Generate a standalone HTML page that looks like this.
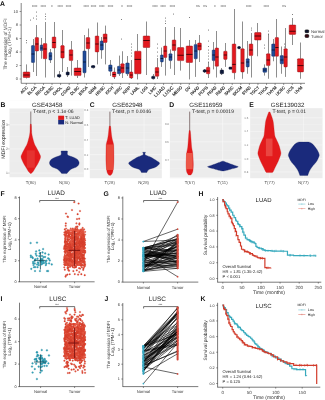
<!DOCTYPE html>
<html><head><meta charset="utf-8"><style>
html,body{margin:0;padding:0;background:#fff;}
svg{display:block;font-family:"Liberation Sans",sans-serif;text-rendering:geometricPrecision;}
.wrap{position:absolute;left:0;top:0;width:325px;height:400px;will-change:transform;}
</style></head><body>
<div class="wrap"><svg xmlns="http://www.w3.org/2000/svg" width="325" height="400" viewBox="0 0 325 400">
<rect width="325" height="400" fill="#fff"/>
<g>
<line x1="21.2" y1="3" x2="21.2" y2="83.3" stroke="#333" stroke-width="0.6" />
<line x1="21.2" y1="83.3" x2="305" y2="83.3" stroke="#333" stroke-width="0.6" />
<line x1="19.6" y1="79" x2="21.2" y2="79" stroke="#333" stroke-width="0.5" />
<text x="18" y="80.4" font-size="4" text-anchor="end" font-weight="normal" fill="#333" >0</text>
<line x1="19.6" y1="65.5" x2="21.2" y2="65.5" stroke="#333" stroke-width="0.5" />
<text x="18" y="66.9" font-size="4" text-anchor="end" font-weight="normal" fill="#333" >2</text>
<line x1="19.6" y1="52" x2="21.2" y2="52" stroke="#333" stroke-width="0.5" />
<text x="18" y="53.4" font-size="4" text-anchor="end" font-weight="normal" fill="#333" >4</text>
<line x1="19.6" y1="38.5" x2="21.2" y2="38.5" stroke="#333" stroke-width="0.5" />
<text x="18" y="39.9" font-size="4" text-anchor="end" font-weight="normal" fill="#333" >6</text>
<line x1="19.6" y1="25" x2="21.2" y2="25" stroke="#333" stroke-width="0.5" />
<text x="18" y="26.4" font-size="4" text-anchor="end" font-weight="normal" fill="#333" >8</text>
<line x1="19.6" y1="11.5" x2="21.2" y2="11.5" stroke="#333" stroke-width="0.5" />
<text x="18" y="12.9" font-size="4" text-anchor="end" font-weight="normal" fill="#333" >10</text>
<line x1="26.3" y1="83.3" x2="26.3" y2="85" stroke="#333" stroke-width="0.5" />
<text transform="translate(28,87.8) rotate(-45)" font-size="4.1" text-anchor="end" fill="#333" stroke="#333" stroke-width="0.18">ACC</text>
<line x1="34.88" y1="83.3" x2="34.88" y2="85" stroke="#333" stroke-width="0.5" />
<text transform="translate(36.58,87.8) rotate(-45)" font-size="4.1" text-anchor="end" fill="#333" stroke="#333" stroke-width="0.18">BLCA</text>
<line x1="43.46" y1="83.3" x2="43.46" y2="85" stroke="#333" stroke-width="0.5" />
<text transform="translate(45.16,87.8) rotate(-45)" font-size="4.1" text-anchor="end" fill="#333" stroke="#333" stroke-width="0.18">BRCA</text>
<line x1="52.04" y1="83.3" x2="52.04" y2="85" stroke="#333" stroke-width="0.5" />
<text transform="translate(53.74,87.8) rotate(-45)" font-size="4.1" text-anchor="end" fill="#333" stroke="#333" stroke-width="0.18">CESC</text>
<line x1="60.62" y1="83.3" x2="60.62" y2="85" stroke="#333" stroke-width="0.5" />
<text transform="translate(62.32,87.8) rotate(-45)" font-size="4.1" text-anchor="end" fill="#333" stroke="#333" stroke-width="0.18">CHOL</text>
<line x1="69.2" y1="83.3" x2="69.2" y2="85" stroke="#333" stroke-width="0.5" />
<text transform="translate(70.9,87.8) rotate(-45)" font-size="4.1" text-anchor="end" fill="#333" stroke="#333" stroke-width="0.18">COAD</text>
<line x1="77.78" y1="83.3" x2="77.78" y2="85" stroke="#333" stroke-width="0.5" />
<text transform="translate(79.48,87.8) rotate(-45)" font-size="4.1" text-anchor="end" fill="#333" stroke="#333" stroke-width="0.18">DLBC</text>
<line x1="86.36" y1="83.3" x2="86.36" y2="85" stroke="#333" stroke-width="0.5" />
<text transform="translate(88.06,87.8) rotate(-45)" font-size="4.1" text-anchor="end" fill="#333" stroke="#333" stroke-width="0.18">ESCA</text>
<line x1="94.94" y1="83.3" x2="94.94" y2="85" stroke="#333" stroke-width="0.5" />
<text transform="translate(96.64,87.8) rotate(-45)" font-size="4.1" text-anchor="end" fill="#333" stroke="#333" stroke-width="0.18">GBM</text>
<line x1="103.52" y1="83.3" x2="103.52" y2="85" stroke="#333" stroke-width="0.5" />
<text transform="translate(105.22,87.8) rotate(-45)" font-size="4.1" text-anchor="end" fill="#333" stroke="#333" stroke-width="0.18">HNSC</text>
<line x1="112.1" y1="83.3" x2="112.1" y2="85" stroke="#333" stroke-width="0.5" />
<text transform="translate(113.8,87.8) rotate(-45)" font-size="4.1" text-anchor="end" fill="#333" stroke="#333" stroke-width="0.18">KICH</text>
<line x1="120.68" y1="83.3" x2="120.68" y2="85" stroke="#333" stroke-width="0.5" />
<text transform="translate(122.38,87.8) rotate(-45)" font-size="4.1" text-anchor="end" fill="#333" stroke="#333" stroke-width="0.18">KIRC</text>
<line x1="129.26" y1="83.3" x2="129.26" y2="85" stroke="#333" stroke-width="0.5" />
<text transform="translate(130.96,87.8) rotate(-45)" font-size="4.1" text-anchor="end" fill="#333" stroke="#333" stroke-width="0.18">KIRP</text>
<line x1="137.84" y1="83.3" x2="137.84" y2="85" stroke="#333" stroke-width="0.5" />
<text transform="translate(139.54,87.8) rotate(-45)" font-size="4.1" text-anchor="end" fill="#333" stroke="#333" stroke-width="0.18">LAML</text>
<line x1="146.42" y1="83.3" x2="146.42" y2="85" stroke="#333" stroke-width="0.5" />
<text transform="translate(148.12,87.8) rotate(-45)" font-size="4.1" text-anchor="end" fill="#333" stroke="#333" stroke-width="0.18">LGG</text>
<line x1="155" y1="83.3" x2="155" y2="85" stroke="#333" stroke-width="0.5" />
<text transform="translate(156.7,87.8) rotate(-45)" font-size="4.1" text-anchor="end" fill="#333" stroke="#333" stroke-width="0.18">LIHC</text>
<line x1="163.58" y1="83.3" x2="163.58" y2="85" stroke="#333" stroke-width="0.5" />
<text transform="translate(165.48,87.9) rotate(-45)" font-size="4.9" font-weight="bold" text-anchor="end" fill="#333">LUAD</text>
<line x1="172.16" y1="83.3" x2="172.16" y2="85" stroke="#333" stroke-width="0.5" />
<text transform="translate(174.06,87.9) rotate(-45)" font-size="4.9" font-weight="bold" text-anchor="end" fill="#333">LUSC</text>
<line x1="180.74" y1="83.3" x2="180.74" y2="85" stroke="#333" stroke-width="0.5" />
<text transform="translate(182.44,87.8) rotate(-45)" font-size="4.1" text-anchor="end" fill="#333" stroke="#333" stroke-width="0.18">MESO</text>
<line x1="189.32" y1="83.3" x2="189.32" y2="85" stroke="#333" stroke-width="0.5" />
<text transform="translate(191.02,87.8) rotate(-45)" font-size="4.1" text-anchor="end" fill="#333" stroke="#333" stroke-width="0.18">OV</text>
<line x1="197.9" y1="83.3" x2="197.9" y2="85" stroke="#333" stroke-width="0.5" />
<text transform="translate(199.6,87.8) rotate(-45)" font-size="4.1" text-anchor="end" fill="#333" stroke="#333" stroke-width="0.18">PAAD</text>
<line x1="206.48" y1="83.3" x2="206.48" y2="85" stroke="#333" stroke-width="0.5" />
<text transform="translate(208.18,87.8) rotate(-45)" font-size="4.1" text-anchor="end" fill="#333" stroke="#333" stroke-width="0.18">PCPG</text>
<line x1="215.06" y1="83.3" x2="215.06" y2="85" stroke="#333" stroke-width="0.5" />
<text transform="translate(216.76,87.8) rotate(-45)" font-size="4.1" text-anchor="end" fill="#333" stroke="#333" stroke-width="0.18">PRAD</text>
<line x1="223.64" y1="83.3" x2="223.64" y2="85" stroke="#333" stroke-width="0.5" />
<text transform="translate(225.34,87.8) rotate(-45)" font-size="4.1" text-anchor="end" fill="#333" stroke="#333" stroke-width="0.18">READ</text>
<line x1="232.22" y1="83.3" x2="232.22" y2="85" stroke="#333" stroke-width="0.5" />
<text transform="translate(233.92,87.8) rotate(-45)" font-size="4.1" text-anchor="end" fill="#333" stroke="#333" stroke-width="0.18">SARC</text>
<line x1="240.8" y1="83.3" x2="240.8" y2="85" stroke="#333" stroke-width="0.5" />
<text transform="translate(242.5,87.8) rotate(-45)" font-size="4.1" text-anchor="end" fill="#333" stroke="#333" stroke-width="0.18">SKCM</text>
<line x1="249.38" y1="83.3" x2="249.38" y2="85" stroke="#333" stroke-width="0.5" />
<text transform="translate(251.08,87.8) rotate(-45)" font-size="4.1" text-anchor="end" fill="#333" stroke="#333" stroke-width="0.18">STAD</text>
<line x1="257.96" y1="83.3" x2="257.96" y2="85" stroke="#333" stroke-width="0.5" />
<text transform="translate(259.66,87.8) rotate(-45)" font-size="4.1" text-anchor="end" fill="#333" stroke="#333" stroke-width="0.18">TGCT</text>
<line x1="266.54" y1="83.3" x2="266.54" y2="85" stroke="#333" stroke-width="0.5" />
<text transform="translate(268.24,87.8) rotate(-45)" font-size="4.1" text-anchor="end" fill="#333" stroke="#333" stroke-width="0.18">THCA</text>
<line x1="275.12" y1="83.3" x2="275.12" y2="85" stroke="#333" stroke-width="0.5" />
<text transform="translate(276.82,87.8) rotate(-45)" font-size="4.1" text-anchor="end" fill="#333" stroke="#333" stroke-width="0.18">THYM</text>
<line x1="283.7" y1="83.3" x2="283.7" y2="85" stroke="#333" stroke-width="0.5" />
<text transform="translate(285.4,87.8) rotate(-45)" font-size="4.1" text-anchor="end" fill="#333" stroke="#333" stroke-width="0.18">UCEC</text>
<line x1="292.28" y1="83.3" x2="292.28" y2="85" stroke="#333" stroke-width="0.5" />
<text transform="translate(293.98,87.8) rotate(-45)" font-size="4.1" text-anchor="end" fill="#333" stroke="#333" stroke-width="0.18">UCS</text>
<line x1="300.86" y1="83.3" x2="300.86" y2="85" stroke="#333" stroke-width="0.5" />
<text transform="translate(302.56,87.8) rotate(-45)" font-size="4.1" text-anchor="end" fill="#333" stroke="#333" stroke-width="0.18">UVM</text>
<line x1="26.5" y1="64.4" x2="26.5" y2="72" stroke="#7a7a7a" stroke-width="0.85" />
<line x1="26.5" y1="77.5" x2="26.5" y2="78.5" stroke="#7a7a7a" stroke-width="0.85" />
<line x1="33.5" y1="39" x2="33.5" y2="45.5" stroke="#7a7a7a" stroke-width="0.85" />
<line x1="33.5" y1="62.5" x2="33.5" y2="72" stroke="#7a7a7a" stroke-width="0.85" />
<line x1="36.5" y1="25" x2="36.5" y2="37.5" stroke="#7a7a7a" stroke-width="0.85" />
<line x1="36.5" y1="51" x2="36.5" y2="76" stroke="#7a7a7a" stroke-width="0.85" />
<line x1="41.5" y1="38" x2="41.5" y2="45" stroke="#7a7a7a" stroke-width="0.85" />
<line x1="41.5" y1="50.6" x2="41.5" y2="58.75" stroke="#7a7a7a" stroke-width="0.85" />
<line x1="45.5" y1="22" x2="45.5" y2="43.5" stroke="#7a7a7a" stroke-width="0.85" />
<line x1="45.5" y1="58.75" x2="45.5" y2="77.5" stroke="#7a7a7a" stroke-width="0.85" />
<line x1="50.5" y1="49" x2="50.5" y2="52.5" stroke="#7a7a7a" stroke-width="0.85" />
<line x1="50.5" y1="60" x2="50.5" y2="63" stroke="#7a7a7a" stroke-width="0.85" />
<line x1="54.5" y1="22" x2="54.5" y2="37" stroke="#7a7a7a" stroke-width="0.85" />
<line x1="54.5" y1="48" x2="54.5" y2="77.5" stroke="#7a7a7a" stroke-width="0.85" />
<line x1="59.5" y1="71" x2="59.5" y2="74.4" stroke="#7a7a7a" stroke-width="0.85" />
<line x1="59.5" y1="76.9" x2="59.5" y2="78" stroke="#7a7a7a" stroke-width="0.85" />
<line x1="62.5" y1="30" x2="62.5" y2="45.6" stroke="#7a7a7a" stroke-width="0.85" />
<line x1="62.5" y1="58" x2="62.5" y2="72" stroke="#7a7a7a" stroke-width="0.85" />
<line x1="67.5" y1="67" x2="67.5" y2="72" stroke="#7a7a7a" stroke-width="0.85" />
<line x1="67.5" y1="75" x2="67.5" y2="77" stroke="#7a7a7a" stroke-width="0.85" />
<line x1="71.5" y1="41" x2="71.5" y2="49.75" stroke="#7a7a7a" stroke-width="0.85" />
<line x1="71.5" y1="60.6" x2="71.5" y2="75.6" stroke="#7a7a7a" stroke-width="0.85" />
<line x1="77.5" y1="60" x2="77.5" y2="68" stroke="#7a7a7a" stroke-width="0.85" />
<line x1="77.5" y1="75.6" x2="77.5" y2="78" stroke="#7a7a7a" stroke-width="0.85" />
<line x1="84.5" y1="35" x2="84.5" y2="51" stroke="#7a7a7a" stroke-width="0.85" />
<line x1="84.5" y1="72.75" x2="84.5" y2="77.5" stroke="#7a7a7a" stroke-width="0.85" />
<line x1="88.5" y1="28.5" x2="88.5" y2="37.5" stroke="#7a7a7a" stroke-width="0.85" />
<line x1="88.5" y1="48.75" x2="88.5" y2="67" stroke="#7a7a7a" stroke-width="0.85" />
<line x1="93.5" y1="65" x2="93.5" y2="65.6" stroke="#7a7a7a" stroke-width="0.85" />
<line x1="93.5" y1="67.75" x2="93.5" y2="68.5" stroke="#7a7a7a" stroke-width="0.85" />
<line x1="97.5" y1="22.5" x2="97.5" y2="36" stroke="#7a7a7a" stroke-width="0.85" />
<line x1="97.5" y1="51.9" x2="97.5" y2="64.4" stroke="#7a7a7a" stroke-width="0.85" />
<line x1="101.5" y1="37" x2="101.5" y2="41" stroke="#7a7a7a" stroke-width="0.85" />
<line x1="101.5" y1="50" x2="101.5" y2="58.75" stroke="#7a7a7a" stroke-width="0.85" />
<line x1="105.5" y1="25.6" x2="105.5" y2="34" stroke="#7a7a7a" stroke-width="0.85" />
<line x1="105.5" y1="42.5" x2="105.5" y2="64.4" stroke="#7a7a7a" stroke-width="0.85" />
<line x1="110.5" y1="60" x2="110.5" y2="65" stroke="#7a7a7a" stroke-width="0.85" />
<line x1="110.5" y1="71.25" x2="110.5" y2="76" stroke="#7a7a7a" stroke-width="0.85" />
<line x1="114.5" y1="67.5" x2="114.5" y2="72" stroke="#7a7a7a" stroke-width="0.85" />
<line x1="114.5" y1="76.9" x2="114.5" y2="79" stroke="#7a7a7a" stroke-width="0.85" />
<line x1="119.5" y1="55.6" x2="119.5" y2="66.25" stroke="#7a7a7a" stroke-width="0.85" />
<line x1="119.5" y1="73.75" x2="119.5" y2="76" stroke="#7a7a7a" stroke-width="0.85" />
<line x1="122.5" y1="51.25" x2="122.5" y2="63.75" stroke="#7a7a7a" stroke-width="0.85" />
<line x1="122.5" y1="72.75" x2="122.5" y2="78" stroke="#7a7a7a" stroke-width="0.85" />
<line x1="127.5" y1="56" x2="127.5" y2="63" stroke="#7a7a7a" stroke-width="0.85" />
<line x1="127.5" y1="73.75" x2="127.5" y2="76" stroke="#7a7a7a" stroke-width="0.85" />
<line x1="131.5" y1="60" x2="131.5" y2="72" stroke="#7a7a7a" stroke-width="0.85" />
<line x1="131.5" y1="78" x2="131.5" y2="79" stroke="#7a7a7a" stroke-width="0.85" />
<line x1="137.5" y1="34" x2="137.5" y2="51.25" stroke="#7a7a7a" stroke-width="0.85" />
<line x1="137.5" y1="73.75" x2="137.5" y2="79.4" stroke="#7a7a7a" stroke-width="0.85" />
<line x1="146.5" y1="21.5" x2="146.5" y2="36" stroke="#7a7a7a" stroke-width="0.85" />
<line x1="146.5" y1="47.5" x2="146.5" y2="75" stroke="#7a7a7a" stroke-width="0.85" />
<line x1="153.5" y1="74" x2="153.5" y2="76.25" stroke="#7a7a7a" stroke-width="0.85" />
<line x1="153.5" y1="78.75" x2="153.5" y2="79.5" stroke="#7a7a7a" stroke-width="0.85" />
<line x1="157.5" y1="58" x2="157.5" y2="67.5" stroke="#7a7a7a" stroke-width="0.85" />
<line x1="157.5" y1="76.25" x2="157.5" y2="79" stroke="#7a7a7a" stroke-width="0.85" />
<line x1="161.5" y1="47.5" x2="161.5" y2="55" stroke="#7a7a7a" stroke-width="0.85" />
<line x1="161.5" y1="61.9" x2="161.5" y2="66.9" stroke="#7a7a7a" stroke-width="0.85" />
<line x1="165.5" y1="27" x2="165.5" y2="46" stroke="#7a7a7a" stroke-width="0.85" />
<line x1="165.5" y1="57.5" x2="165.5" y2="75.6" stroke="#7a7a7a" stroke-width="0.85" />
<line x1="170.5" y1="49.4" x2="170.5" y2="53.75" stroke="#7a7a7a" stroke-width="0.85" />
<line x1="170.5" y1="60.6" x2="170.5" y2="68.75" stroke="#7a7a7a" stroke-width="0.85" />
<line x1="174.5" y1="27" x2="174.5" y2="40" stroke="#7a7a7a" stroke-width="0.85" />
<line x1="174.5" y1="50.6" x2="174.5" y2="75" stroke="#7a7a7a" stroke-width="0.85" />
<line x1="180.5" y1="28" x2="180.5" y2="47.5" stroke="#7a7a7a" stroke-width="0.85" />
<line x1="180.5" y1="60.6" x2="180.5" y2="70.6" stroke="#7a7a7a" stroke-width="0.85" />
<line x1="189.5" y1="40" x2="189.5" y2="46" stroke="#7a7a7a" stroke-width="0.85" />
<line x1="189.5" y1="62.5" x2="189.5" y2="79.4" stroke="#7a7a7a" stroke-width="0.85" />
<line x1="195.5" y1="40" x2="195.5" y2="44.4" stroke="#7a7a7a" stroke-width="0.85" />
<line x1="195.5" y1="58.75" x2="195.5" y2="76.9" stroke="#7a7a7a" stroke-width="0.85" />
<line x1="199.5" y1="35" x2="199.5" y2="43" stroke="#7a7a7a" stroke-width="0.85" />
<line x1="199.5" y1="50" x2="199.5" y2="62" stroke="#7a7a7a" stroke-width="0.85" />
<line x1="204.5" y1="69" x2="204.5" y2="70" stroke="#7a7a7a" stroke-width="0.85" />
<line x1="204.5" y1="71.9" x2="204.5" y2="73" stroke="#7a7a7a" stroke-width="0.85" />
<line x1="208.5" y1="62" x2="208.5" y2="67.25" stroke="#7a7a7a" stroke-width="0.85" />
<line x1="208.5" y1="73.75" x2="208.5" y2="78" stroke="#7a7a7a" stroke-width="0.85" />
<line x1="213.5" y1="42" x2="213.5" y2="50" stroke="#7a7a7a" stroke-width="0.85" />
<line x1="213.5" y1="60.6" x2="213.5" y2="69.4" stroke="#7a7a7a" stroke-width="0.85" />
<line x1="216.5" y1="31" x2="216.5" y2="48" stroke="#7a7a7a" stroke-width="0.85" />
<line x1="216.5" y1="66.25" x2="216.5" y2="77.5" stroke="#7a7a7a" stroke-width="0.85" />
<line x1="221.5" y1="68" x2="221.5" y2="70" stroke="#7a7a7a" stroke-width="0.85" />
<line x1="221.5" y1="73.75" x2="221.5" y2="75" stroke="#7a7a7a" stroke-width="0.85" />
<line x1="225.5" y1="43" x2="225.5" y2="51.25" stroke="#7a7a7a" stroke-width="0.85" />
<line x1="225.5" y1="59.4" x2="225.5" y2="66.9" stroke="#7a7a7a" stroke-width="0.85" />
<line x1="230.5" y1="67.5" x2="230.5" y2="67.5" stroke="#7a7a7a" stroke-width="0.85" />
<line x1="230.5" y1="68.75" x2="230.5" y2="69" stroke="#7a7a7a" stroke-width="0.85" />
<line x1="234.5" y1="9" x2="234.5" y2="44" stroke="#7a7a7a" stroke-width="0.85" />
<line x1="234.5" y1="72.75" x2="234.5" y2="79.4" stroke="#7a7a7a" stroke-width="0.85" />
<line x1="239.5" y1="46.5" x2="239.5" y2="47" stroke="#7a7a7a" stroke-width="0.85" />
<line x1="239.5" y1="48.2" x2="239.5" y2="49" stroke="#7a7a7a" stroke-width="0.85" />
<line x1="242.5" y1="21.5" x2="242.5" y2="48.75" stroke="#7a7a7a" stroke-width="0.85" />
<line x1="242.5" y1="71.9" x2="242.5" y2="78.75" stroke="#7a7a7a" stroke-width="0.85" />
<line x1="247.5" y1="41" x2="247.5" y2="58.75" stroke="#7a7a7a" stroke-width="0.85" />
<line x1="247.5" y1="66.9" x2="247.5" y2="73.75" stroke="#7a7a7a" stroke-width="0.85" />
<line x1="251.5" y1="33" x2="251.5" y2="44" stroke="#7a7a7a" stroke-width="0.85" />
<line x1="251.5" y1="55.6" x2="251.5" y2="77.5" stroke="#7a7a7a" stroke-width="0.85" />
<line x1="257.5" y1="23" x2="257.5" y2="32.5" stroke="#7a7a7a" stroke-width="0.85" />
<line x1="257.5" y1="40" x2="257.5" y2="56.25" stroke="#7a7a7a" stroke-width="0.85" />
<line x1="264.5" y1="64.4" x2="264.5" y2="68" stroke="#7a7a7a" stroke-width="0.85" />
<line x1="264.5" y1="72.25" x2="264.5" y2="75.6" stroke="#7a7a7a" stroke-width="0.85" />
<line x1="268.5" y1="34" x2="268.5" y2="53.75" stroke="#7a7a7a" stroke-width="0.85" />
<line x1="268.5" y1="65.6" x2="268.5" y2="78.75" stroke="#7a7a7a" stroke-width="0.85" />
<line x1="273.5" y1="39" x2="273.5" y2="44" stroke="#7a7a7a" stroke-width="0.85" />
<line x1="273.5" y1="56.25" x2="273.5" y2="61.25" stroke="#7a7a7a" stroke-width="0.85" />
<line x1="276.5" y1="19" x2="276.5" y2="37.5" stroke="#7a7a7a" stroke-width="0.85" />
<line x1="276.5" y1="56.25" x2="276.5" y2="77.5" stroke="#7a7a7a" stroke-width="0.85" />
<line x1="281.5" y1="46.5" x2="281.5" y2="55.6" stroke="#7a7a7a" stroke-width="0.85" />
<line x1="281.5" y1="63.75" x2="281.5" y2="73.75" stroke="#7a7a7a" stroke-width="0.85" />
<line x1="285.5" y1="28" x2="285.5" y2="48.75" stroke="#7a7a7a" stroke-width="0.85" />
<line x1="285.5" y1="66.9" x2="285.5" y2="76.9" stroke="#7a7a7a" stroke-width="0.85" />
<line x1="292.5" y1="18" x2="292.5" y2="25" stroke="#7a7a7a" stroke-width="0.85" />
<line x1="292.5" y1="34.4" x2="292.5" y2="45" stroke="#7a7a7a" stroke-width="0.85" />
<line x1="300.5" y1="42.5" x2="300.5" y2="58.75" stroke="#7a7a7a" stroke-width="0.85" />
<line x1="300.5" y1="71.9" x2="300.5" y2="78.75" stroke="#7a7a7a" stroke-width="0.85" />
<circle cx="36.5" cy="12" r="0.5" fill="#555"/>
<circle cx="36.5" cy="16" r="0.5" fill="#555"/>
<circle cx="36.5" cy="19" r="0.5" fill="#555"/>
<circle cx="45.5" cy="14" r="0.5" fill="#555"/>
<circle cx="45.5" cy="16.5" r="0.5" fill="#555"/>
<circle cx="45.5" cy="19" r="0.5" fill="#555"/>
<circle cx="121.5" cy="19.5" r="0.5" fill="#555"/>
<circle cx="121.5" cy="39" r="0.5" fill="#555"/>
<circle cx="189.5" cy="17.5" r="0.5" fill="#555"/>
<circle cx="208.5" cy="30" r="0.5" fill="#555"/>
<circle cx="208.5" cy="41" r="0.5" fill="#555"/>
<circle cx="208.5" cy="46.5" r="0.5" fill="#555"/>
<circle cx="208.5" cy="50" r="0.5" fill="#555"/>
<circle cx="208.5" cy="53" r="0.5" fill="#555"/>
<circle cx="208.5" cy="56" r="0.5" fill="#555"/>
<circle cx="208.5" cy="59" r="0.5" fill="#555"/>
<circle cx="208.5" cy="62" r="0.5" fill="#555"/>
<circle cx="131.5" cy="44" r="0.5" fill="#555"/>
<circle cx="131.5" cy="47" r="0.5" fill="#555"/>
<circle cx="131.5" cy="50" r="0.5" fill="#555"/>
<circle cx="131.5" cy="53" r="0.5" fill="#555"/>
<circle cx="131.5" cy="56" r="0.5" fill="#555"/>
<circle cx="157.5" cy="44" r="0.5" fill="#555"/>
<circle cx="157.5" cy="48" r="0.5" fill="#555"/>
<circle cx="157.5" cy="52" r="0.5" fill="#555"/>
<circle cx="157.5" cy="56" r="0.5" fill="#555"/>
<circle cx="165.5" cy="18" r="0.5" fill="#555"/>
<circle cx="165.5" cy="21" r="0.5" fill="#555"/>
<circle cx="165.5" cy="23.5" r="0.5" fill="#555"/>
<circle cx="173.5" cy="14" r="0.5" fill="#555"/>
<circle cx="251.5" cy="28" r="0.5" fill="#555"/>
<circle cx="251.5" cy="30" r="0.5" fill="#555"/>
<circle cx="264.5" cy="45" r="0.5" fill="#555"/>
<circle cx="264.5" cy="48" r="0.5" fill="#555"/>
<circle cx="268.5" cy="34" r="0.5" fill="#555"/>
<circle cx="268.5" cy="31" r="0.5" fill="#555"/>
<circle cx="33.5" cy="18" r="0.5" fill="#555"/>
<circle cx="30.5" cy="20" r="0.5" fill="#555"/>
<circle cx="284.5" cy="44" r="0.5" fill="#555"/>
<circle cx="284.5" cy="47" r="0.5" fill="#555"/>
<circle cx="292.5" cy="14.5" r="0.5" fill="#555"/>
<circle cx="26.5" cy="40.4" r="0.5" fill="#555"/>
<circle cx="26.5" cy="42.7" r="0.5" fill="#555"/>
<rect x="23.2" y="72" width="6.6" height="5.5" rx="0.6" fill="#e3191f" stroke="#8c0f14" stroke-width="0.45"/>
<line x1="23.3" y1="75" x2="29.7" y2="75" stroke="#3a0006" stroke-width="0.9" />
<rect x="31.45" y="45.5" width="3.1" height="17" rx="0.6" fill="#1f4b99" stroke="#0e2456" stroke-width="0.45"/>
<line x1="31.55" y1="54" x2="34.45" y2="54" stroke="#071433" stroke-width="0.9" />
<rect x="35.2" y="37.5" width="3.35" height="13.5" rx="0.6" fill="#e3191f" stroke="#8c0f14" stroke-width="0.45"/>
<line x1="35.3" y1="44" x2="38.45" y2="44" stroke="#3a0006" stroke-width="0.9" />
<rect x="40.2" y="45" width="2.6" height="5.6" rx="0.6" fill="#1f4b99" stroke="#0e2456" stroke-width="0.45"/>
<line x1="40.3" y1="48" x2="42.7" y2="48" stroke="#071433" stroke-width="0.9" />
<rect x="43.2" y="43.5" width="3.6" height="15.25" rx="0.6" fill="#e3191f" stroke="#8c0f14" stroke-width="0.45"/>
<line x1="43.3" y1="49" x2="46.7" y2="49" stroke="#3a0006" stroke-width="0.9" />
<rect x="48.95" y="52.5" width="2.85" height="7.5" rx="0.6" fill="#1f4b99" stroke="#0e2456" stroke-width="0.45"/>
<line x1="49.05" y1="56" x2="51.7" y2="56" stroke="#071433" stroke-width="0.9" />
<rect x="52.2" y="37" width="3.6" height="11" rx="0.6" fill="#e3191f" stroke="#8c0f14" stroke-width="0.45"/>
<line x1="52.3" y1="42.5" x2="55.7" y2="42.5" stroke="#3a0006" stroke-width="0.9" />
<rect x="57.45" y="74.4" width="3.35" height="2.5" rx="0.6" fill="#0f1a3e" stroke="#050a1c" stroke-width="0.45"/>
<line x1="57.55" y1="75.5" x2="60.7" y2="75.5" stroke="#071433" stroke-width="0.9" />
<rect x="60.8" y="45.6" width="3.4" height="12.4" rx="0.6" fill="#e3191f" stroke="#8c0f14" stroke-width="0.45"/>
<line x1="60.9" y1="52" x2="64.1" y2="52" stroke="#3a0006" stroke-width="0.9" />
<rect x="66.2" y="72" width="3" height="3" rx="0.6" fill="#0f1a3e" stroke="#050a1c" stroke-width="0.45"/>
<line x1="66.3" y1="73.5" x2="69.1" y2="73.5" stroke="#071433" stroke-width="0.9" />
<rect x="69.2" y="49.75" width="3.6" height="10.85" rx="0.6" fill="#e3191f" stroke="#8c0f14" stroke-width="0.45"/>
<line x1="69.3" y1="55" x2="72.7" y2="55" stroke="#3a0006" stroke-width="0.9" />
<rect x="74.2" y="68" width="6.85" height="7.6" rx="0.6" fill="#e3191f" stroke="#8c0f14" stroke-width="0.45"/>
<line x1="74.3" y1="71.5" x2="80.95" y2="71.5" stroke="#3a0006" stroke-width="0.9" />
<rect x="82.95" y="51" width="3.1" height="21.75" rx="0.6" fill="#1f4b99" stroke="#0e2456" stroke-width="0.45"/>
<line x1="83.05" y1="62" x2="85.95" y2="62" stroke="#071433" stroke-width="0.9" />
<rect x="86.2" y="37.5" width="3.6" height="11.25" rx="0.6" fill="#e3191f" stroke="#8c0f14" stroke-width="0.45"/>
<line x1="86.3" y1="43" x2="89.7" y2="43" stroke="#3a0006" stroke-width="0.9" />
<rect x="91.45" y="65.58" width="3.35" height="2.2" rx="0.6" fill="#0f1a3e" stroke="#050a1c" stroke-width="0.45"/>
<line x1="91.55" y1="66.5" x2="94.7" y2="66.5" stroke="#071433" stroke-width="0.9" />
<rect x="95.2" y="36" width="3.6" height="15.9" rx="0.6" fill="#e3191f" stroke="#8c0f14" stroke-width="0.45"/>
<line x1="95.3" y1="44" x2="98.7" y2="44" stroke="#3a0006" stroke-width="0.9" />
<rect x="100.2" y="41" width="3.1" height="9" rx="0.6" fill="#1f4b99" stroke="#0e2456" stroke-width="0.45"/>
<line x1="100.3" y1="45" x2="103.2" y2="45" stroke="#071433" stroke-width="0.9" />
<rect x="103.2" y="34" width="3.85" height="8.5" rx="0.6" fill="#e3191f" stroke="#8c0f14" stroke-width="0.45"/>
<line x1="103.3" y1="38" x2="106.95" y2="38" stroke="#3a0006" stroke-width="0.9" />
<rect x="108.7" y="65" width="3.35" height="6.25" rx="0.6" fill="#1f4b99" stroke="#0e2456" stroke-width="0.45"/>
<line x1="108.8" y1="68" x2="111.95" y2="68" stroke="#071433" stroke-width="0.9" />
<rect x="112.45" y="72" width="3.35" height="4.9" rx="0.6" fill="#e3191f" stroke="#8c0f14" stroke-width="0.45"/>
<line x1="112.55" y1="74.5" x2="115.7" y2="74.5" stroke="#3a0006" stroke-width="0.9" />
<rect x="117.45" y="66.25" width="3.35" height="7.5" rx="0.6" fill="#1f4b99" stroke="#0e2456" stroke-width="0.45"/>
<line x1="117.55" y1="70" x2="120.7" y2="70" stroke="#071433" stroke-width="0.9" />
<rect x="120.8" y="63.75" width="3.4" height="9" rx="0.6" fill="#e3191f" stroke="#8c0f14" stroke-width="0.45"/>
<line x1="120.9" y1="68" x2="124.1" y2="68" stroke="#3a0006" stroke-width="0.9" />
<rect x="125.8" y="63" width="3.4" height="10.75" rx="0.6" fill="#1f4b99" stroke="#0e2456" stroke-width="0.45"/>
<line x1="125.9" y1="68" x2="129.1" y2="68" stroke="#071433" stroke-width="0.9" />
<rect x="129.6" y="72" width="3.2" height="6" rx="0.6" fill="#e3191f" stroke="#8c0f14" stroke-width="0.45"/>
<line x1="129.7" y1="75" x2="132.7" y2="75" stroke="#3a0006" stroke-width="0.9" />
<rect x="134.6" y="51.25" width="6.45" height="22.5" rx="0.6" fill="#e3191f" stroke="#8c0f14" stroke-width="0.45"/>
<line x1="134.7" y1="59.4" x2="140.95" y2="59.4" stroke="#3a0006" stroke-width="0.9" />
<rect x="143.2" y="36" width="6.6" height="11.5" rx="0.6" fill="#e3191f" stroke="#8c0f14" stroke-width="0.45"/>
<line x1="143.3" y1="40.5" x2="149.7" y2="40.5" stroke="#3a0006" stroke-width="0.9" />
<rect x="151.7" y="76.25" width="3.1" height="2.5" rx="0.6" fill="#0f1a3e" stroke="#050a1c" stroke-width="0.45"/>
<line x1="151.8" y1="77.5" x2="154.7" y2="77.5" stroke="#071433" stroke-width="0.9" />
<rect x="155.2" y="67.5" width="3.6" height="8.75" rx="0.6" fill="#e3191f" stroke="#8c0f14" stroke-width="0.45"/>
<line x1="155.3" y1="72" x2="158.7" y2="72" stroke="#3a0006" stroke-width="0.9" />
<rect x="160.45" y="55" width="2.85" height="6.9" rx="0.6" fill="#1f4b99" stroke="#0e2456" stroke-width="0.45"/>
<line x1="160.55" y1="58.5" x2="163.2" y2="58.5" stroke="#071433" stroke-width="0.9" />
<rect x="163.7" y="46" width="3.1" height="11.5" rx="0.6" fill="#e3191f" stroke="#8c0f14" stroke-width="0.45"/>
<line x1="163.8" y1="51" x2="166.7" y2="51" stroke="#3a0006" stroke-width="0.9" />
<rect x="168.95" y="53.75" width="3.1" height="6.85" rx="0.6" fill="#1f4b99" stroke="#0e2456" stroke-width="0.45"/>
<line x1="169.05" y1="57" x2="171.95" y2="57" stroke="#071433" stroke-width="0.9" />
<rect x="172.2" y="40" width="3.6" height="10.6" rx="0.6" fill="#e3191f" stroke="#8c0f14" stroke-width="0.45"/>
<line x1="172.3" y1="45" x2="175.7" y2="45" stroke="#3a0006" stroke-width="0.9" />
<rect x="177.45" y="47.5" width="6.35" height="13.1" rx="0.6" fill="#e3191f" stroke="#8c0f14" stroke-width="0.45"/>
<line x1="177.55" y1="55.25" x2="183.7" y2="55.25" stroke="#3a0006" stroke-width="0.9" />
<rect x="186.2" y="46" width="6.35" height="16.5" rx="0.6" fill="#e3191f" stroke="#8c0f14" stroke-width="0.45"/>
<line x1="186.3" y1="54.4" x2="192.45" y2="54.4" stroke="#3a0006" stroke-width="0.9" />
<rect x="194.2" y="44.4" width="3.1" height="14.35" rx="0.6" fill="#1f4b99" stroke="#0e2456" stroke-width="0.45"/>
<line x1="194.3" y1="51" x2="197.2" y2="51" stroke="#071433" stroke-width="0.9" />
<rect x="197.7" y="43" width="3.6" height="7" rx="0.6" fill="#e3191f" stroke="#8c0f14" stroke-width="0.45"/>
<line x1="197.8" y1="46" x2="201.2" y2="46" stroke="#3a0006" stroke-width="0.9" />
<rect x="203.2" y="69.85" width="3.5" height="2.2" rx="0.6" fill="#0f1a3e" stroke="#050a1c" stroke-width="0.45"/>
<line x1="203.3" y1="71" x2="206.6" y2="71" stroke="#071433" stroke-width="0.9" />
<rect x="206.45" y="67.25" width="3.35" height="6.5" rx="0.6" fill="#e3191f" stroke="#8c0f14" stroke-width="0.45"/>
<line x1="206.55" y1="71" x2="209.7" y2="71" stroke="#3a0006" stroke-width="0.9" />
<rect x="212.2" y="50" width="3.2" height="10.6" rx="0.6" fill="#1f4b99" stroke="#0e2456" stroke-width="0.45"/>
<line x1="212.3" y1="55" x2="215.3" y2="55" stroke="#071433" stroke-width="0.9" />
<rect x="215.2" y="48" width="3.35" height="18.25" rx="0.6" fill="#e3191f" stroke="#8c0f14" stroke-width="0.45"/>
<line x1="215.3" y1="57" x2="218.45" y2="57" stroke="#3a0006" stroke-width="0.9" />
<rect x="220.2" y="70" width="3.35" height="3.75" rx="0.6" fill="#0f1a3e" stroke="#050a1c" stroke-width="0.45"/>
<line x1="220.3" y1="72" x2="223.45" y2="72" stroke="#071433" stroke-width="0.9" />
<rect x="223.7" y="51.25" width="3.35" height="8.15" rx="0.6" fill="#e3191f" stroke="#8c0f14" stroke-width="0.45"/>
<line x1="223.8" y1="55" x2="226.95" y2="55" stroke="#3a0006" stroke-width="0.9" />
<rect x="228.95" y="67.03" width="3.1" height="2.2" rx="0.6" fill="#0f1a3e" stroke="#050a1c" stroke-width="0.45"/>
<line x1="229.05" y1="68" x2="231.95" y2="68" stroke="#071433" stroke-width="0.9" />
<rect x="232.2" y="44" width="3.6" height="28.75" rx="0.6" fill="#e3191f" stroke="#8c0f14" stroke-width="0.45"/>
<line x1="232.3" y1="64.4" x2="235.7" y2="64.4" stroke="#3a0006" stroke-width="0.9" />
<rect x="237.7" y="46.5" width="2.7" height="2.2" rx="0.6" fill="#0f1a3e" stroke="#050a1c" stroke-width="0.45"/>
<line x1="237.8" y1="47.5" x2="240.3" y2="47.5" stroke="#071433" stroke-width="0.9" />
<rect x="240.8" y="48.75" width="3.4" height="23.15" rx="0.6" fill="#e3191f" stroke="#8c0f14" stroke-width="0.45"/>
<line x1="240.9" y1="63" x2="244.1" y2="63" stroke="#3a0006" stroke-width="0.9" />
<rect x="246.2" y="58.75" width="3" height="8.15" rx="0.6" fill="#1f4b99" stroke="#0e2456" stroke-width="0.45"/>
<line x1="246.3" y1="62" x2="249.1" y2="62" stroke="#071433" stroke-width="0.9" />
<rect x="249.2" y="44" width="3.6" height="11.6" rx="0.6" fill="#e3191f" stroke="#8c0f14" stroke-width="0.45"/>
<line x1="249.3" y1="50" x2="252.7" y2="50" stroke="#3a0006" stroke-width="0.9" />
<rect x="254.6" y="32.5" width="6.45" height="7.5" rx="0.6" fill="#e3191f" stroke="#8c0f14" stroke-width="0.45"/>
<line x1="254.7" y1="36" x2="260.95" y2="36" stroke="#3a0006" stroke-width="0.9" />
<rect x="262.95" y="68" width="3.75" height="4.25" rx="0.6" fill="#1f4b99" stroke="#0e2456" stroke-width="0.45"/>
<line x1="263.05" y1="70" x2="266.6" y2="70" stroke="#071433" stroke-width="0.9" />
<rect x="266.45" y="53.75" width="3.6" height="11.85" rx="0.6" fill="#e3191f" stroke="#8c0f14" stroke-width="0.45"/>
<line x1="266.55" y1="60" x2="269.95" y2="60" stroke="#3a0006" stroke-width="0.9" />
<rect x="271.7" y="44" width="3.35" height="12.25" rx="0.6" fill="#1f4b99" stroke="#0e2456" stroke-width="0.45"/>
<line x1="271.8" y1="50" x2="274.95" y2="50" stroke="#071433" stroke-width="0.9" />
<rect x="275.2" y="37.5" width="3.35" height="18.75" rx="0.6" fill="#e3191f" stroke="#8c0f14" stroke-width="0.45"/>
<line x1="275.3" y1="47.5" x2="278.45" y2="47.5" stroke="#3a0006" stroke-width="0.9" />
<rect x="280.2" y="55.6" width="3.35" height="8.15" rx="0.6" fill="#1f4b99" stroke="#0e2456" stroke-width="0.45"/>
<line x1="280.3" y1="60" x2="283.45" y2="60" stroke="#071433" stroke-width="0.9" />
<rect x="283.95" y="48.75" width="3.35" height="18.15" rx="0.6" fill="#e3191f" stroke="#8c0f14" stroke-width="0.45"/>
<line x1="284.05" y1="57" x2="287.2" y2="57" stroke="#3a0006" stroke-width="0.9" />
<rect x="289.2" y="25" width="6.5" height="9.4" rx="0.6" fill="#e3191f" stroke="#8c0f14" stroke-width="0.45"/>
<line x1="289.3" y1="31.25" x2="295.6" y2="31.25" stroke="#3a0006" stroke-width="0.9" />
<rect x="297.45" y="58.75" width="6.1" height="13.15" rx="0.6" fill="#e3191f" stroke="#8c0f14" stroke-width="0.45"/>
<line x1="297.55" y1="65.6" x2="303.45" y2="65.6" stroke="#3a0006" stroke-width="0.9" />
<line x1="32" y1="6" x2="37.2" y2="6" stroke="#555" stroke-width="0.85" stroke-dasharray="1.15,0.2"/>
<line x1="40.7" y1="6" x2="45.9" y2="6" stroke="#555" stroke-width="0.85" stroke-dasharray="1.15,0.2"/>
<line x1="51.2" y1="6" x2="52.6" y2="6" stroke="#555" stroke-width="0.85" />
<line x1="57.6" y1="6" x2="62.8" y2="6" stroke="#555" stroke-width="0.85" stroke-dasharray="1.15,0.2"/>
<line x1="65.9" y1="6" x2="71.1" y2="6" stroke="#555" stroke-width="0.85" stroke-dasharray="1.15,0.2"/>
<line x1="83.6" y1="6" x2="88.8" y2="6" stroke="#555" stroke-width="0.85" stroke-dasharray="1.15,0.2"/>
<line x1="90.9" y1="6" x2="96.1" y2="6" stroke="#555" stroke-width="0.85" stroke-dasharray="1.15,0.2"/>
<line x1="99.2" y1="6" x2="104.4" y2="6" stroke="#555" stroke-width="0.85" stroke-dasharray="1.15,0.2"/>
<line x1="107.9" y1="6" x2="113.1" y2="6" stroke="#555" stroke-width="0.85" stroke-dasharray="1.15,0.2"/>
<line x1="121.3" y1="6" x2="122.7" y2="6" stroke="#555" stroke-width="0.85" />
<line x1="126.9" y1="6" x2="132.1" y2="6" stroke="#555" stroke-width="0.85" stroke-dasharray="1.15,0.2"/>
<line x1="152.4" y1="6" x2="157.6" y2="6" stroke="#555" stroke-width="0.85" stroke-dasharray="1.15,0.2"/>
<line x1="160.5" y1="6" x2="165.7" y2="6" stroke="#555" stroke-width="0.85" stroke-dasharray="1.15,0.2"/>
<line x1="169.8" y1="6" x2="175" y2="6" stroke="#555" stroke-width="0.85" stroke-dasharray="1.15,0.2"/>
<text x="197.8" y="7.2" font-size="3.6" text-anchor="middle" font-weight="normal" fill="#555" >ns</text>
<text x="205.2" y="7.2" font-size="3.6" text-anchor="middle" font-weight="normal" fill="#555" >ns</text>
<line x1="214.2" y1="6" x2="215.6" y2="6" stroke="#555" stroke-width="0.85" />
<line x1="220.7" y1="6" x2="225.9" y2="6" stroke="#555" stroke-width="0.85" stroke-dasharray="1.15,0.2"/>
<line x1="246.1" y1="6" x2="251.3" y2="6" stroke="#555" stroke-width="0.85" stroke-dasharray="1.15,0.2"/>
<line x1="263.7" y1="6" x2="268.9" y2="6" stroke="#555" stroke-width="0.85" stroke-dasharray="1.15,0.2"/>
<text x="284.2" y="7.2" font-size="3.6" text-anchor="middle" font-weight="normal" fill="#555" >ns</text>
<rect x="305.1" y="29.9" width="3.6" height="2.8" fill="#0e1530" stroke="#000" stroke-width="0.6" rx="0.7"/>
<rect x="305.1" y="34.6" width="3.6" height="2.8" fill="#3a0a14" stroke="#000" stroke-width="0.6" rx="0.7"/>
<text x="311" y="32.8" font-size="4.2" text-anchor="start" font-weight="normal" fill="#333" >Normal</text>
<text x="311" y="37.7" font-size="4.2" text-anchor="start" font-weight="normal" fill="#333" >Tumor</text>
<text transform="translate(6.6,44) rotate(-90)" font-size="4.8" text-anchor="middle" fill="#444">The expression of MDFI</text>
<text transform="translate(10.7,42) rotate(-90)" font-size="4.8" text-anchor="middle" fill="#444">Log<tspan font-size="3.3" dy="0.9">2</tspan><tspan dy="-0.9"> (TPM+1)</tspan></text>
<text x="0" y="5.7" font-size="6.8" text-anchor="start" font-weight="bold" fill="#111" >A</text>
</g>
<rect x="9.5" y="108.5" width="74.3" height="68.7" fill="#ececec" stroke="none" stroke-width="0" />
<line x1="9.5" y1="112.7" x2="83.8" y2="112.7" stroke="#f2f2f2" stroke-width="0.4" />
<line x1="9.5" y1="136.85" x2="83.8" y2="136.85" stroke="#f2f2f2" stroke-width="0.4" />
<line x1="9.5" y1="161" x2="83.8" y2="161" stroke="#f2f2f2" stroke-width="0.4" />
<line x1="9.5" y1="100.6" x2="83.8" y2="100.6" stroke="#fafafa" stroke-width="0.55" />
<line x1="9.5" y1="124.8" x2="83.8" y2="124.8" stroke="#fafafa" stroke-width="0.55" />
<line x1="9.5" y1="148.9" x2="83.8" y2="148.9" stroke="#fafafa" stroke-width="0.55" />
<line x1="9.5" y1="173.1" x2="83.8" y2="173.1" stroke="#fafafa" stroke-width="0.55" />
<line x1="30.8" y1="108.5" x2="30.8" y2="177.2" stroke="#fafafa" stroke-width="0.55" />
<line x1="64.3" y1="108.5" x2="64.3" y2="177.2" stroke="#fafafa" stroke-width="0.55" />
<text x="7.8" y="126" font-size="3.4" text-anchor="end" font-weight="normal" fill="#666" >3</text>
<line x1="8.2" y1="124.8" x2="9.5" y2="124.8" stroke="#666" stroke-width="0.4" />
<text x="7.8" y="150.1" font-size="3.4" text-anchor="end" font-weight="normal" fill="#666" >2</text>
<line x1="8.2" y1="148.9" x2="9.5" y2="148.9" stroke="#666" stroke-width="0.4" />
<text x="7.8" y="174.3" font-size="3.4" text-anchor="end" font-weight="normal" fill="#666" >1</text>
<line x1="8.2" y1="173.1" x2="9.5" y2="173.1" stroke="#666" stroke-width="0.4" />
<line x1="30.8" y1="111.5" x2="30.8" y2="132" stroke="#5a4a4a" stroke-width="0.7" />
<path d="M31.1,124 L31.13,124.15 31.17,124.29 31.22,124.49 31.27,124.8 31.33,125.28 31.4,126 31.45,127 31.48,128.23 31.52,129.64 31.59,131.16 31.7,132.7 31.9,134.2 32.19,135.74 32.56,137.4 32.99,139.08 33.44,140.71 33.88,142.22 34.3,143.5 34.68,144.51 35.05,145.3 35.41,145.96 35.79,146.57 36.18,147.22 36.6,148 37.08,148.93 37.63,149.96 38.19,151.02 38.73,152.07 39.21,153.05 39.6,153.9 39.91,154.58 40.17,155.13 40.38,155.61 40.51,156.09 40.56,156.63 40.5,157.3 40.31,158.13 39.99,159.07 39.58,160.07 39.12,161.09 38.65,162.08 38.2,163 37.75,163.86 37.28,164.69 36.79,165.49 36.3,166.26 35.83,167 35.4,167.7 35.01,168.37 34.65,169 34.31,169.6 33.97,170.17 33.64,170.7 33.3,171.2 32.93,171.68 32.52,172.14 32.12,172.57 31.74,172.95 31.43,173.26 31.2,173.5 30.4,173.5 30.17,173.26 29.86,172.95 29.48,172.57 29.08,172.14 28.67,171.68 28.3,171.2 27.96,170.7 27.63,170.17 27.29,169.6 26.95,169 26.59,168.37 26.2,167.7 25.77,167 25.3,166.26 24.81,165.49 24.32,164.69 23.85,163.86 23.4,163 22.95,162.08 22.48,161.09 22.02,160.07 21.61,159.07 21.29,158.13 21.1,157.3 21.04,156.63 21.09,156.09 21.22,155.61 21.43,155.13 21.69,154.58 22,153.9 22.39,153.05 22.87,152.07 23.41,151.02 23.97,149.96 24.52,148.93 25,148 25.42,147.22 25.81,146.57 26.19,145.96 26.55,145.3 26.92,144.51 27.3,143.5 27.72,142.22 28.16,140.71 28.61,139.08 29.04,137.4 29.41,135.74 29.7,134.2 29.9,132.7 30.01,131.16 30.08,129.64 30.12,128.23 30.15,127 30.2,126 30.27,125.28 30.33,124.8 30.38,124.49 30.43,124.29 30.47,124.15 30.5,124 Z" fill="#e31a1c" stroke="#c81a1a" stroke-width="0.3" stroke-linejoin="round"/>
<rect x="26.8" y="150.4" width="8" height="17.3" fill="#f06a60" stroke="none" stroke-width="0" opacity="0.3"/>
<path d="M66.9,150.9 L66.97,150.92 67.07,150.91 67.18,150.93 67.3,150.99 67.41,151.13 67.5,151.4 67.5,151.84 67.42,152.42 67.33,153.09 67.31,153.78 67.44,154.44 67.8,155 68.46,155.46 69.36,155.86 70.42,156.23 71.53,156.58 72.59,156.93 73.5,157.3 74.29,157.67 75.05,158.02 75.76,158.38 76.41,158.74 76.99,159.15 77.5,159.6 77.95,160.11 78.35,160.68 78.68,161.28 78.93,161.89 79.08,162.5 79.1,163.1 79,163.7 78.8,164.31 78.49,164.93 78.08,165.52 77.58,166.09 77,166.6 76.26,167.05 75.34,167.46 74.34,167.82 73.32,168.18 72.38,168.53 71.6,168.9 70.98,169.29 70.45,169.7 69.99,170.11 69.6,170.5 69.24,170.87 68.9,171.2 68.6,171.49 68.34,171.76 68.12,171.99 67.94,172.21 67.77,172.41 67.6,172.6 67.46,172.78 67.37,172.93 67.3,173.08 67.21,173.2 67.09,173.31 66.9,173.4 66.61,173.47 66.23,173.52 65.81,173.55 65.4,173.57 65.04,173.59 64.8,173.6 63.8,173.6 63.56,173.59 63.2,173.57 62.79,173.55 62.37,173.52 61.99,173.47 61.7,173.4 61.51,173.31 61.39,173.2 61.3,173.08 61.23,172.93 61.14,172.78 61,172.6 60.83,172.41 60.66,172.21 60.47,171.99 60.26,171.76 60,171.49 59.7,171.2 59.36,170.87 59,170.5 58.61,170.11 58.15,169.7 57.62,169.29 57,168.9 56.22,168.53 55.28,168.18 54.26,167.82 53.26,167.46 52.34,167.05 51.6,166.6 51.02,166.09 50.52,165.52 50.11,164.93 49.8,164.31 49.6,163.7 49.5,163.1 49.52,162.5 49.67,161.89 49.92,161.28 50.25,160.68 50.65,160.11 51.1,159.6 51.61,159.15 52.19,158.74 52.84,158.38 53.55,158.02 54.31,157.67 55.1,157.3 56.01,156.93 57.07,156.58 58.18,156.23 59.24,155.86 60.14,155.46 60.8,155 61.16,154.44 61.29,153.78 61.27,153.09 61.18,152.42 61.1,151.84 61.1,151.4 61.19,151.13 61.3,150.99 61.42,150.93 61.53,150.91 61.63,150.92 61.7,150.9 Z" fill="#1a2a7c" stroke="#15215e" stroke-width="0.3" stroke-linejoin="round"/>
<text x="47.2" y="106.9" font-size="6.2" text-anchor="middle" font-weight="normal" fill="#222" >GSE43458</text>
<text x="32.9" y="113.4" font-size="5" text-anchor="start" font-weight="normal" fill="#222" >T-test, p &lt; 1.1e-06</text>
<rect x="58.2" y="115.7" width="5.9" height="4.2" fill="#e31a1c" stroke="none" stroke-width="0" />
<rect x="58.2" y="119.9" width="5.9" height="4.5" fill="#1a2a7c" stroke="none" stroke-width="0" />
<text x="65.3" y="119.3" font-size="3.9" text-anchor="start" font-weight="normal" fill="#222" >T: LUAD</text>
<text x="65.3" y="123.9" font-size="3.9" text-anchor="start" font-weight="normal" fill="#222" >N: Normal</text>
<text x="30.8" y="183.7" font-size="4.3" text-anchor="middle" font-weight="normal" fill="#555" >T(80)</text>
<text x="64.3" y="183.7" font-size="4.3" text-anchor="middle" font-weight="normal" fill="#555" >N(30)</text>
<text transform="translate(5.3,139.2) rotate(-90)" font-size="5.2" text-anchor="middle" fill="#222">MDFI expression</text>
<text x="0.4" y="107" font-size="6.8" text-anchor="start" font-weight="bold" fill="#111" >B</text>
<rect x="89.8" y="108.2" width="72" height="70" fill="#ececec" stroke="none" stroke-width="0" />
<line x1="89.8" y1="117.6" x2="161.8" y2="117.6" stroke="#f2f2f2" stroke-width="0.4" />
<line x1="89.8" y1="132.4" x2="161.8" y2="132.4" stroke="#f2f2f2" stroke-width="0.4" />
<line x1="89.8" y1="147.2" x2="161.8" y2="147.2" stroke="#f2f2f2" stroke-width="0.4" />
<line x1="89.8" y1="162" x2="161.8" y2="162" stroke="#f2f2f2" stroke-width="0.4" />
<line x1="89.8" y1="110.2" x2="161.8" y2="110.2" stroke="#fafafa" stroke-width="0.55" />
<line x1="89.8" y1="125" x2="161.8" y2="125" stroke="#fafafa" stroke-width="0.55" />
<line x1="89.8" y1="139.8" x2="161.8" y2="139.8" stroke="#fafafa" stroke-width="0.55" />
<line x1="89.8" y1="154.6" x2="161.8" y2="154.6" stroke="#fafafa" stroke-width="0.55" />
<line x1="89.8" y1="169.4" x2="161.8" y2="169.4" stroke="#fafafa" stroke-width="0.55" />
<line x1="109.7" y1="108.2" x2="109.7" y2="178.2" stroke="#fafafa" stroke-width="0.55" />
<line x1="144.1" y1="108.2" x2="144.1" y2="178.2" stroke="#fafafa" stroke-width="0.55" />
<text x="88.2" y="111.2" font-size="2.8" text-anchor="end" font-weight="normal" fill="#777" >0.8</text>
<text x="88.2" y="126" font-size="2.8" text-anchor="end" font-weight="normal" fill="#777" >0.6</text>
<text x="88.2" y="140.8" font-size="2.8" text-anchor="end" font-weight="normal" fill="#777" >0.4</text>
<text x="88.2" y="155.6" font-size="2.8" text-anchor="end" font-weight="normal" fill="#777" >0.2</text>
<text x="88.2" y="170.4" font-size="2.8" text-anchor="end" font-weight="normal" fill="#777" >0.0</text>
<line x1="109.9" y1="111.6" x2="109.9" y2="132" stroke="#7d6a6a" stroke-width="0.9" />
<path d="M110.4,126 L110.44,126.17 110.5,126.37 110.56,126.62 110.64,126.96 110.72,127.41 110.8,128 110.89,128.78 110.98,129.74 111.08,130.81 111.18,131.93 111.29,133.01 111.4,134 111.52,134.91 111.65,135.81 111.79,136.69 111.93,137.52 112.06,138.29 112.2,139 112.34,139.62 112.47,140.15 112.61,140.62 112.75,141.07 112.88,141.52 113,142 113.12,142.45 113.23,142.85 113.34,143.25 113.44,143.7 113.53,144.27 113.6,145 113.66,145.9 113.7,146.93 113.74,148.06 113.76,149.3 113.78,150.61 113.8,152 113.82,153.53 113.84,155.22 113.85,157 113.85,158.78 113.84,160.47 113.8,162 113.74,163.38 113.65,164.68 113.54,165.89 113.43,167.02 113.31,168.06 113.2,169 113.1,169.82 113.01,170.52 112.91,171.13 112.8,171.68 112.67,172.19 112.5,172.7 112.27,173.22 111.97,173.71 111.66,174.18 111.35,174.6 111.08,174.94 110.9,175.2 108.9,175.2 108.72,174.94 108.45,174.6 108.14,174.18 107.83,173.71 107.53,173.22 107.3,172.7 107.13,172.19 107,171.68 106.89,171.13 106.79,170.52 106.7,169.82 106.6,169 106.49,168.06 106.37,167.02 106.26,165.89 106.15,164.68 106.06,163.38 106,162 105.96,160.47 105.95,158.78 105.95,157 105.96,155.22 105.98,153.53 106,152 106.02,150.61 106.04,149.3 106.06,148.06 106.1,146.93 106.14,145.9 106.2,145 106.27,144.27 106.36,143.7 106.46,143.25 106.57,142.85 106.68,142.45 106.8,142 106.92,141.52 107.05,141.07 107.19,140.62 107.33,140.15 107.46,139.62 107.6,139 107.74,138.29 107.87,137.52 108.01,136.69 108.15,135.81 108.28,134.91 108.4,134 108.51,133.01 108.62,131.93 108.73,130.81 108.82,129.74 108.91,128.78 109,128 109.08,127.41 109.16,126.96 109.24,126.62 109.3,126.37 109.36,126.17 109.4,126 Z" fill="#e31a1c" stroke="#c81a1a" stroke-width="0.3" stroke-linejoin="round"/>
<rect x="106.3" y="144.5" width="7.2" height="25.5" fill="#e9503f" stroke="none" stroke-width="0" opacity="0.9"/>
<path d="M145.5,152.3 L145.4,152.57 145.2,152.95 144.99,153.39 144.87,153.87 144.91,154.35 145.2,154.8 145.8,155.2 146.64,155.59 147.65,155.98 148.75,156.38 149.86,156.81 150.9,157.3 151.94,157.86 153.04,158.49 154.15,159.16 155.22,159.82 156.19,160.44 157,161 157.7,161.46 158.33,161.85 158.86,162.21 159.26,162.56 159.48,162.95 159.5,163.4 159.28,163.94 158.84,164.55 158.23,165.19 157.49,165.84 156.67,166.45 155.8,167 154.79,167.47 153.6,167.9 152.31,168.29 151.05,168.67 149.91,169.07 149,169.5 148.33,170.01 147.81,170.57 147.42,171.16 147.13,171.7 146.9,172.17 146.7,172.5 141.5,172.5 141.3,172.17 141.07,171.7 140.78,171.16 140.39,170.57 139.87,170.01 139.2,169.5 138.29,169.07 137.15,168.67 135.89,168.29 134.6,167.9 133.41,167.47 132.4,167 131.53,166.45 130.71,165.84 129.97,165.19 129.36,164.55 128.92,163.94 128.7,163.4 128.72,162.95 128.94,162.56 129.34,162.21 129.87,161.85 130.5,161.46 131.2,161 132.01,160.44 132.98,159.82 134.05,159.16 135.16,158.49 136.26,157.86 137.3,157.3 138.34,156.81 139.45,156.38 140.55,155.98 141.56,155.59 142.4,155.2 143,154.8 143.29,154.35 143.33,153.87 143.21,153.39 143,152.95 142.8,152.57 142.7,152.3 Z" fill="#1a2a7c" stroke="#15215e" stroke-width="0.3" stroke-linejoin="round"/>
<text x="127.4" y="106.9" font-size="6.2" text-anchor="middle" font-weight="normal" fill="#222" >GSE62948</text>
<text x="111.9" y="113.4" font-size="5" text-anchor="start" font-weight="normal" fill="#222" >T-test, p = 0.0046</text>
<text x="109.7" y="183.7" font-size="4.3" text-anchor="middle" font-weight="normal" fill="#555" >T(28)</text>
<text x="143.6" y="183.7" font-size="4.3" text-anchor="middle" font-weight="normal" fill="#555" >N(28)</text>
<text x="89.8" y="107" font-size="6.8" text-anchor="start" font-weight="bold" fill="#111" >C</text>
<rect x="169.9" y="108.2" width="71.6" height="70" fill="#ececec" stroke="none" stroke-width="0" />
<line x1="169.9" y1="116.1" x2="241.5" y2="116.1" stroke="#f2f2f2" stroke-width="0.4" />
<line x1="169.9" y1="132.9" x2="241.5" y2="132.9" stroke="#f2f2f2" stroke-width="0.4" />
<line x1="169.9" y1="150.75" x2="241.5" y2="150.75" stroke="#f2f2f2" stroke-width="0.4" />
<line x1="169.9" y1="168.65" x2="241.5" y2="168.65" stroke="#f2f2f2" stroke-width="0.4" />
<line x1="169.9" y1="108.2" x2="241.5" y2="108.2" stroke="#fafafa" stroke-width="0.55" />
<line x1="169.9" y1="124" x2="241.5" y2="124" stroke="#fafafa" stroke-width="0.55" />
<line x1="169.9" y1="141.8" x2="241.5" y2="141.8" stroke="#fafafa" stroke-width="0.55" />
<line x1="169.9" y1="159.7" x2="241.5" y2="159.7" stroke="#fafafa" stroke-width="0.55" />
<line x1="169.9" y1="177.6" x2="241.5" y2="177.6" stroke="#fafafa" stroke-width="0.55" />
<line x1="189.9" y1="108.2" x2="189.9" y2="178.2" stroke="#fafafa" stroke-width="0.55" />
<line x1="222.6" y1="108.2" x2="222.6" y2="178.2" stroke="#fafafa" stroke-width="0.55" />
<text x="168.8" y="125" font-size="2.8" text-anchor="end" font-weight="normal" fill="#777" >0.8</text>
<text x="168.8" y="142.8" font-size="2.8" text-anchor="end" font-weight="normal" fill="#777" >0.6</text>
<text x="168.8" y="160.7" font-size="2.8" text-anchor="end" font-weight="normal" fill="#777" >0.4</text>
<line x1="189.7" y1="111.6" x2="189.7" y2="138" stroke="#7d6a6a" stroke-width="0.9" />
<path d="M190.1,130.5 L190.14,130.72 190.2,130.97 190.26,131.29 190.34,131.71 190.42,132.27 190.5,133 190.59,133.95 190.69,135.11 190.79,136.41 190.89,137.77 191,139.12 191.1,140.4 191.2,141.63 191.29,142.88 191.38,144.13 191.47,145.34 191.58,146.51 191.7,147.6 191.85,148.6 192.03,149.51 192.21,150.38 192.4,151.22 192.56,152.09 192.7,153 192.8,153.96 192.89,154.94 192.95,155.93 193,156.94 193.05,157.96 193.1,159 193.15,160.06 193.21,161.14 193.26,162.23 193.3,163.33 193.32,164.42 193.3,165.5 193.26,166.6 193.2,167.73 193.12,168.86 193.02,169.94 192.88,170.93 192.7,171.8 192.45,172.55 192.12,173.21 191.76,173.79 191.41,174.29 191.11,174.69 190.9,175 188.5,175 188.29,174.69 187.99,174.29 187.64,173.79 187.28,173.21 186.95,172.55 186.7,171.8 186.52,170.93 186.38,169.94 186.27,168.86 186.2,167.73 186.14,166.6 186.1,165.5 186.08,164.42 186.1,163.33 186.14,162.23 186.19,161.14 186.25,160.06 186.3,159 186.35,157.96 186.4,156.94 186.45,155.93 186.51,154.94 186.6,153.96 186.7,153 186.84,152.09 187,151.22 187.19,150.38 187.37,149.51 187.55,148.6 187.7,147.6 187.82,146.51 187.93,145.34 188.02,144.13 188.11,142.88 188.2,141.63 188.3,140.4 188.4,139.12 188.51,137.77 188.61,136.41 188.71,135.11 188.81,133.95 188.9,133 188.98,132.27 189.06,131.71 189.14,131.29 189.2,130.97 189.26,130.72 189.3,130.5 Z" fill="#e31a1c" stroke="#c81a1a" stroke-width="0.3" stroke-linejoin="round"/>
<rect x="186.1" y="153" width="6.6" height="16.2" fill="#ec5f4e" stroke="none" stroke-width="0" opacity="0.9"/>
<path d="M223.3,161.2 L223.57,161.31 223.94,161.45 224.38,161.62 224.87,161.81 225.38,162 225.9,162.2 226.43,162.4 227,162.61 227.59,162.83 228.2,163.06 228.81,163.28 229.4,163.5 229.98,163.72 230.57,163.94 231.15,164.16 231.73,164.37 232.32,164.59 232.9,164.8 233.5,165.01 234.13,165.22 234.76,165.43 235.36,165.63 235.92,165.82 236.4,166 236.85,166.15 237.28,166.29 237.66,166.41 237.97,166.53 238.16,166.66 238.2,166.8 238.07,166.96 237.8,167.12 237.41,167.29 236.94,167.46 236.43,167.63 235.9,167.8 235.33,167.96 234.69,168.13 234.01,168.29 233.3,168.45 232.59,168.62 231.9,168.8 231.23,168.99 230.57,169.2 229.9,169.41 229.23,169.61 228.57,169.82 227.9,170 227.19,170.18 226.42,170.36 225.65,170.53 224.94,170.68 224.34,170.81 223.9,170.9 221.9,170.9 221.46,170.81 220.86,170.68 220.15,170.53 219.38,170.36 218.61,170.18 217.9,170 217.23,169.82 216.57,169.61 215.9,169.41 215.23,169.2 214.57,168.99 213.9,168.8 213.21,168.62 212.5,168.45 211.79,168.29 211.11,168.13 210.47,167.96 209.9,167.8 209.37,167.63 208.86,167.46 208.39,167.29 208,167.12 207.73,166.96 207.6,166.8 207.64,166.66 207.83,166.53 208.14,166.41 208.52,166.29 208.95,166.15 209.4,166 209.88,165.82 210.44,165.63 211.04,165.43 211.67,165.22 212.3,165.01 212.9,164.8 213.48,164.59 214.07,164.37 214.65,164.16 215.23,163.94 215.82,163.72 216.4,163.5 216.99,163.28 217.6,163.06 218.21,162.83 218.8,162.61 219.37,162.4 219.9,162.2 220.42,162 220.93,161.81 221.42,161.62 221.86,161.45 222.23,161.31 222.5,161.2 Z" fill="#1a2a7c" stroke="#15215e" stroke-width="0.3" stroke-linejoin="round"/>
<text x="205.9" y="106.9" font-size="6.2" text-anchor="middle" font-weight="normal" fill="#222" >GSE116959</text>
<text x="192.1" y="113.4" font-size="5" text-anchor="start" font-weight="normal" fill="#222" >T-test, p = 0.00019</text>
<text x="189.9" y="183.7" font-size="4.3" text-anchor="middle" font-weight="normal" fill="#555" >T(57)</text>
<text x="222.6" y="183.7" font-size="4.3" text-anchor="middle" font-weight="normal" fill="#555" >T(11)</text>
<text x="169.2" y="107" font-size="6.8" text-anchor="start" font-weight="bold" fill="#111" >D</text>
<rect x="250.2" y="108.2" width="72.3" height="70" fill="#ececec" stroke="none" stroke-width="0" />
<line x1="250.2" y1="124.6" x2="322.5" y2="124.6" stroke="#f2f2f2" stroke-width="0.4" />
<line x1="250.2" y1="138.2" x2="322.5" y2="138.2" stroke="#f2f2f2" stroke-width="0.4" />
<line x1="250.2" y1="151.75" x2="322.5" y2="151.75" stroke="#f2f2f2" stroke-width="0.4" />
<line x1="250.2" y1="165.25" x2="322.5" y2="165.25" stroke="#f2f2f2" stroke-width="0.4" />
<line x1="250.2" y1="117.8" x2="322.5" y2="117.8" stroke="#fafafa" stroke-width="0.55" />
<line x1="250.2" y1="131.4" x2="322.5" y2="131.4" stroke="#fafafa" stroke-width="0.55" />
<line x1="250.2" y1="145" x2="322.5" y2="145" stroke="#fafafa" stroke-width="0.55" />
<line x1="250.2" y1="158.5" x2="322.5" y2="158.5" stroke="#fafafa" stroke-width="0.55" />
<line x1="250.2" y1="172" x2="322.5" y2="172" stroke="#fafafa" stroke-width="0.55" />
<line x1="269.6" y1="108.2" x2="269.6" y2="178.2" stroke="#fafafa" stroke-width="0.55" />
<line x1="303.4" y1="108.2" x2="303.4" y2="178.2" stroke="#fafafa" stroke-width="0.55" />
<text x="248.2" y="118.8" font-size="2.8" text-anchor="end" font-weight="normal" fill="#777" >1.6</text>
<text x="248.2" y="132.4" font-size="2.8" text-anchor="end" font-weight="normal" fill="#777" >1.4</text>
<text x="248.2" y="146" font-size="2.8" text-anchor="end" font-weight="normal" fill="#777" >1.2</text>
<text x="248.2" y="159.5" font-size="2.8" text-anchor="end" font-weight="normal" fill="#777" >1.0</text>
<text x="248.2" y="173" font-size="2.8" text-anchor="end" font-weight="normal" fill="#777" >0.8</text>
<path d="M269.9,111.9 L270.03,112.21 270.21,112.62 270.42,113.12 270.65,113.69 270.9,114.32 271.15,115 271.42,115.76 271.73,116.61 272.05,117.52 272.37,118.46 272.66,119.4 272.9,120.3 273.09,121.17 273.25,122.04 273.38,122.9 273.49,123.76 273.6,124.63 273.7,125.5 273.8,126.38 273.88,127.26 273.96,128.15 274.03,129.04 274.11,129.92 274.2,130.8 274.3,131.69 274.39,132.6 274.49,133.51 274.6,134.4 274.73,135.23 274.9,136 275.09,136.66 275.31,137.23 275.54,137.74 275.8,138.26 276.09,138.83 276.4,139.5 276.76,140.28 277.17,141.14 277.6,142.04 278.03,142.97 278.44,143.9 278.8,144.8 279.11,145.69 279.4,146.6 279.66,147.51 279.9,148.4 280.11,149.23 280.3,150 280.47,150.68 280.63,151.29 280.76,151.86 280.85,152.4 280.9,152.94 280.9,153.5 280.84,154.06 280.73,154.6 280.57,155.14 280.38,155.7 280.15,156.31 279.9,157 279.61,157.78 279.27,158.64 278.9,159.54 278.51,160.47 278.1,161.4 277.7,162.3 277.28,163.19 276.83,164.1 276.36,165.01 275.91,165.9 275.48,166.73 275.1,167.5 274.77,168.21 274.47,168.87 274.21,169.49 273.96,170.05 273.73,170.56 273.5,171 273.3,171.37 273.15,171.67 273.01,171.91 272.85,172.1 272.66,172.26 272.4,172.4 272.04,172.51 271.58,172.56 271.08,172.59 270.6,172.59 270.19,172.59 269.9,172.6 268.9,172.6 268.61,172.59 268.2,172.59 267.72,172.59 267.22,172.56 266.76,172.51 266.4,172.4 266.14,172.26 265.95,172.1 265.79,171.91 265.65,171.67 265.5,171.37 265.3,171 265.07,170.56 264.84,170.05 264.59,169.49 264.33,168.87 264.03,168.21 263.7,167.5 263.32,166.73 262.89,165.9 262.44,165.01 261.97,164.1 261.52,163.19 261.1,162.3 260.7,161.4 260.29,160.47 259.9,159.54 259.53,158.64 259.19,157.78 258.9,157 258.65,156.31 258.42,155.7 258.22,155.14 258.07,154.6 257.96,154.06 257.9,153.5 257.9,152.94 257.95,152.4 258.04,151.86 258.17,151.29 258.33,150.68 258.5,150 258.69,149.23 258.9,148.4 259.14,147.51 259.4,146.6 259.69,145.69 260,144.8 260.36,143.9 260.77,142.97 261.2,142.04 261.63,141.14 262.04,140.28 262.4,139.5 262.71,138.83 263,138.26 263.26,137.74 263.49,137.23 263.71,136.66 263.9,136 264.07,135.23 264.2,134.4 264.31,133.51 264.41,132.6 264.5,131.69 264.6,130.8 264.69,129.92 264.77,129.04 264.84,128.15 264.92,127.26 265,126.38 265.1,125.5 265.2,124.63 265.31,123.76 265.42,122.9 265.55,122.04 265.71,121.17 265.9,120.3 266.14,119.4 266.43,118.46 266.75,117.52 267.07,116.61 267.38,115.76 267.65,115 267.9,114.32 268.15,113.69 268.38,113.12 268.59,112.62 268.77,112.21 268.9,111.9 Z" fill="#e31a1c" stroke="#c81a1a" stroke-width="0.3" stroke-linejoin="round"/>
<rect x="265.9" y="138.6" width="6.6" height="17.6" fill="#f06a60" stroke="none" stroke-width="0" opacity="0.55"/>
<path d="M304.3,142.1 L304.86,142.09 305.66,142.06 306.59,142.03 307.57,142.03 308.51,142.08 309.3,142.2 309.95,142.4 310.54,142.64 311.08,142.94 311.59,143.29 312.09,143.68 312.6,144.1 313.11,144.58 313.62,145.12 314.11,145.7 314.59,146.3 315.06,146.91 315.5,147.5 315.93,148.07 316.34,148.64 316.74,149.22 317.12,149.8 317.48,150.39 317.8,151 318.11,151.64 318.41,152.31 318.69,152.99 318.93,153.66 319.1,154.3 319.2,154.9 319.21,155.43 319.14,155.9 319.02,156.34 318.84,156.79 318.63,157.26 318.4,157.8 318.14,158.4 317.84,159.05 317.51,159.73 317.14,160.43 316.74,161.12 316.3,161.8 315.81,162.46 315.25,163.11 314.66,163.77 314.06,164.43 313.46,165.1 312.9,165.8 312.35,166.53 311.79,167.28 311.24,168.05 310.72,168.82 310.23,169.57 309.8,170.3 309.42,171.03 309.09,171.78 308.79,172.51 308.53,173.2 308.3,173.81 308.1,174.3 307.98,174.66 307.95,174.92 307.95,175.09 307.93,175.21 307.83,175.31 307.6,175.4 307.17,175.48 306.59,175.51 305.92,175.52 305.26,175.51 304.69,175.5 304.3,175.5 303.3,175.5 302.91,175.5 302.34,175.51 301.68,175.52 301.01,175.51 300.43,175.48 300,175.4 299.77,175.31 299.67,175.21 299.65,175.09 299.65,174.92 299.62,174.66 299.5,174.3 299.3,173.81 299.07,173.2 298.81,172.51 298.51,171.78 298.18,171.03 297.8,170.3 297.37,169.57 296.88,168.82 296.36,168.05 295.81,167.28 295.25,166.53 294.7,165.8 294.14,165.1 293.54,164.43 292.94,163.77 292.35,163.11 291.79,162.46 291.3,161.8 290.86,161.12 290.46,160.43 290.09,159.73 289.76,159.05 289.46,158.4 289.2,157.8 288.97,157.26 288.76,156.79 288.58,156.34 288.46,155.9 288.39,155.43 288.4,154.9 288.5,154.3 288.67,153.66 288.91,152.99 289.19,152.31 289.49,151.64 289.8,151 290.12,150.39 290.48,149.8 290.86,149.22 291.26,148.64 291.67,148.07 292.1,147.5 292.54,146.91 293.01,146.3 293.49,145.7 293.98,145.12 294.49,144.58 295,144.1 295.51,143.68 296.01,143.29 296.52,142.94 297.06,142.64 297.65,142.4 298.3,142.2 299.09,142.08 300.03,142.03 301.01,142.03 301.94,142.06 302.74,142.09 303.3,142.1 Z" fill="#1a2a7c" stroke="#15215e" stroke-width="0.3" stroke-linejoin="round"/>
<text x="287.5" y="106.9" font-size="6.2" text-anchor="middle" font-weight="normal" fill="#222" >GSE139032</text>
<text x="272.5" y="113.4" font-size="5" text-anchor="start" font-weight="normal" fill="#222" >T-test, p = 0.01</text>
<text x="269.6" y="183.7" font-size="4.3" text-anchor="middle" font-weight="normal" fill="#555" >T(77)</text>
<text x="303.4" y="183.7" font-size="4.3" text-anchor="middle" font-weight="normal" fill="#555" >N(77)</text>
<text x="249.2" y="107" font-size="6.8" text-anchor="start" font-weight="bold" fill="#111" >E</text>
<line x1="19.5" y1="196.5" x2="19.5" y2="282.1" stroke="#222" stroke-width="0.6" />
<line x1="19.5" y1="281.8" x2="94.6" y2="281.8" stroke="#222" stroke-width="0.6" />
<line x1="18" y1="281.8" x2="19.5" y2="281.8" stroke="#222" stroke-width="0.5" />
<text x="16.6" y="283.1" font-size="3.8" text-anchor="end" font-weight="normal" fill="#333" >0</text>
<line x1="18" y1="260.76" x2="19.5" y2="260.76" stroke="#222" stroke-width="0.5" />
<text x="16.6" y="262.06" font-size="3.8" text-anchor="end" font-weight="normal" fill="#333" >2</text>
<line x1="18" y1="239.72" x2="19.5" y2="239.72" stroke="#222" stroke-width="0.5" />
<text x="16.6" y="241.02" font-size="3.8" text-anchor="end" font-weight="normal" fill="#333" >4</text>
<line x1="18" y1="218.68" x2="19.5" y2="218.68" stroke="#222" stroke-width="0.5" />
<text x="16.6" y="219.98" font-size="3.8" text-anchor="end" font-weight="normal" fill="#333" >6</text>
<line x1="18" y1="197.64" x2="19.5" y2="197.64" stroke="#222" stroke-width="0.5" />
<text x="16.6" y="198.94" font-size="3.8" text-anchor="end" font-weight="normal" fill="#333" >8</text>
<line x1="40.6" y1="281.8" x2="40.6" y2="283.2" stroke="#222" stroke-width="0.5" />
<line x1="74.6" y1="281.8" x2="74.6" y2="283.2" stroke="#222" stroke-width="0.5" />
<text x="40.6" y="288" font-size="4.1" text-anchor="middle" font-weight="normal" fill="#333" >Normal</text>
<text x="74.6" y="288" font-size="4.1" text-anchor="middle" font-weight="normal" fill="#333" >Tumor</text>
<text x="56.3" y="195" font-size="6.4" text-anchor="middle" font-weight="normal" fill="#222" >LUAD</text>
<text x="0.4" y="195.6" font-size="6.8" text-anchor="start" font-weight="bold" fill="#111" >F</text>
<text transform="translate(6.3,239.15) rotate(-90)" font-size="4.45" text-anchor="middle" fill="#333">The expression of MDFI</text>
<text transform="translate(10.6,236.15) rotate(-90)" font-size="4.45" text-anchor="middle" fill="#333">Log<tspan font-size="3.1" dy="0.9">2</tspan><tspan dy="-0.9"> (TPM+1)</tspan></text>
<path d="M39.7,202.4 V200.5 H74.7 V202.4" fill="none" stroke="#333" stroke-width="0.7"/>
<text x="57" y="199.9" font-size="3.2" text-anchor="middle" font-weight="normal" fill="#444" >***</text>
<circle cx="45.19" cy="253.38" r="0.85" fill="#31a8c0" stroke="#237f92" stroke-width="0.3"/>
<circle cx="41.72" cy="261.39" r="0.85" fill="#31a8c0" stroke="#237f92" stroke-width="0.3"/>
<circle cx="45.58" cy="261.89" r="0.85" fill="#31a8c0" stroke="#237f92" stroke-width="0.3"/>
<circle cx="33.5" cy="264.99" r="0.85" fill="#31a8c0" stroke="#237f92" stroke-width="0.3"/>
<circle cx="37.48" cy="267.17" r="0.85" fill="#31a8c0" stroke="#237f92" stroke-width="0.3"/>
<circle cx="51.76" cy="264.41" r="0.85" fill="#31a8c0" stroke="#237f92" stroke-width="0.3"/>
<circle cx="30.85" cy="255.58" r="0.85" fill="#31a8c0" stroke="#237f92" stroke-width="0.3"/>
<circle cx="35.75" cy="253.81" r="0.85" fill="#31a8c0" stroke="#237f92" stroke-width="0.3"/>
<circle cx="34.64" cy="260.87" r="0.85" fill="#31a8c0" stroke="#237f92" stroke-width="0.3"/>
<circle cx="43.93" cy="262.96" r="0.85" fill="#31a8c0" stroke="#237f92" stroke-width="0.3"/>
<circle cx="42.51" cy="252.4" r="0.85" fill="#31a8c0" stroke="#237f92" stroke-width="0.3"/>
<circle cx="37.48" cy="258.64" r="0.85" fill="#31a8c0" stroke="#237f92" stroke-width="0.3"/>
<circle cx="47.06" cy="271" r="0.85" fill="#31a8c0" stroke="#237f92" stroke-width="0.3"/>
<circle cx="35.24" cy="259.26" r="0.85" fill="#31a8c0" stroke="#237f92" stroke-width="0.3"/>
<circle cx="42.56" cy="259.04" r="0.85" fill="#31a8c0" stroke="#237f92" stroke-width="0.3"/>
<circle cx="43.35" cy="261.35" r="0.85" fill="#31a8c0" stroke="#237f92" stroke-width="0.3"/>
<circle cx="31.3" cy="268.86" r="0.85" fill="#31a8c0" stroke="#237f92" stroke-width="0.3"/>
<circle cx="45.08" cy="256.97" r="0.85" fill="#31a8c0" stroke="#237f92" stroke-width="0.3"/>
<circle cx="37.1" cy="264.49" r="0.85" fill="#31a8c0" stroke="#237f92" stroke-width="0.3"/>
<circle cx="41.17" cy="258.88" r="0.85" fill="#31a8c0" stroke="#237f92" stroke-width="0.3"/>
<circle cx="49.11" cy="263.34" r="0.85" fill="#31a8c0" stroke="#237f92" stroke-width="0.3"/>
<circle cx="33.11" cy="261.84" r="0.85" fill="#31a8c0" stroke="#237f92" stroke-width="0.3"/>
<circle cx="40.3" cy="260.91" r="0.85" fill="#31a8c0" stroke="#237f92" stroke-width="0.3"/>
<circle cx="40.68" cy="260.54" r="0.85" fill="#31a8c0" stroke="#237f92" stroke-width="0.3"/>
<circle cx="37.95" cy="262.45" r="0.85" fill="#31a8c0" stroke="#237f92" stroke-width="0.3"/>
<circle cx="35.15" cy="267.06" r="0.85" fill="#31a8c0" stroke="#237f92" stroke-width="0.3"/>
<circle cx="49.72" cy="260.42" r="0.85" fill="#31a8c0" stroke="#237f92" stroke-width="0.3"/>
<circle cx="42.83" cy="263.36" r="0.85" fill="#31a8c0" stroke="#237f92" stroke-width="0.3"/>
<circle cx="46.45" cy="260.72" r="0.85" fill="#31a8c0" stroke="#237f92" stroke-width="0.3"/>
<circle cx="41.66" cy="264.35" r="0.85" fill="#31a8c0" stroke="#237f92" stroke-width="0.3"/>
<circle cx="41.8" cy="260.38" r="0.85" fill="#31a8c0" stroke="#237f92" stroke-width="0.3"/>
<circle cx="33.18" cy="263.26" r="0.85" fill="#31a8c0" stroke="#237f92" stroke-width="0.3"/>
<circle cx="38.77" cy="265.08" r="0.85" fill="#31a8c0" stroke="#237f92" stroke-width="0.3"/>
<circle cx="38.54" cy="263.05" r="0.85" fill="#31a8c0" stroke="#237f92" stroke-width="0.3"/>
<circle cx="45.8" cy="265.06" r="0.85" fill="#31a8c0" stroke="#237f92" stroke-width="0.3"/>
<circle cx="32.79" cy="258.04" r="0.85" fill="#31a8c0" stroke="#237f92" stroke-width="0.3"/>
<circle cx="33.99" cy="267.24" r="0.85" fill="#31a8c0" stroke="#237f92" stroke-width="0.3"/>
<circle cx="48.61" cy="254.48" r="0.85" fill="#31a8c0" stroke="#237f92" stroke-width="0.3"/>
<circle cx="46.32" cy="263.53" r="0.85" fill="#31a8c0" stroke="#237f92" stroke-width="0.3"/>
<circle cx="35.01" cy="271" r="0.85" fill="#31a8c0" stroke="#237f92" stroke-width="0.3"/>
<circle cx="39.93" cy="271" r="0.85" fill="#31a8c0" stroke="#237f92" stroke-width="0.3"/>
<circle cx="41.55" cy="262.59" r="0.85" fill="#31a8c0" stroke="#237f92" stroke-width="0.3"/>
<circle cx="39.37" cy="256.07" r="0.85" fill="#31a8c0" stroke="#237f92" stroke-width="0.3"/>
<circle cx="32.32" cy="257.13" r="0.85" fill="#31a8c0" stroke="#237f92" stroke-width="0.3"/>
<circle cx="39.36" cy="250.39" r="0.85" fill="#31a8c0" stroke="#237f92" stroke-width="0.3"/>
<circle cx="42.03" cy="255.94" r="0.85" fill="#31a8c0" stroke="#237f92" stroke-width="0.3"/>
<circle cx="34.78" cy="263.44" r="0.85" fill="#31a8c0" stroke="#237f92" stroke-width="0.3"/>
<circle cx="35.24" cy="259.91" r="0.85" fill="#31a8c0" stroke="#237f92" stroke-width="0.3"/>
<circle cx="43.58" cy="257.11" r="0.85" fill="#31a8c0" stroke="#237f92" stroke-width="0.3"/>
<circle cx="48.11" cy="258.34" r="0.85" fill="#31a8c0" stroke="#237f92" stroke-width="0.3"/>
<circle cx="30.89" cy="257.11" r="0.85" fill="#31a8c0" stroke="#237f92" stroke-width="0.3"/>
<circle cx="39.75" cy="253.32" r="0.85" fill="#31a8c0" stroke="#237f92" stroke-width="0.3"/>
<circle cx="36.56" cy="255.61" r="0.85" fill="#31a8c0" stroke="#237f92" stroke-width="0.3"/>
<circle cx="43.11" cy="249" r="0.85" fill="#31a8c0" stroke="#237f92" stroke-width="0.3"/>
<circle cx="36.14" cy="251.46" r="0.85" fill="#31a8c0" stroke="#237f92" stroke-width="0.3"/>
<circle cx="48.11" cy="271" r="0.85" fill="#31a8c0" stroke="#237f92" stroke-width="0.3"/>
<circle cx="48.94" cy="258.87" r="0.85" fill="#31a8c0" stroke="#237f92" stroke-width="0.3"/>
<circle cx="30.6" cy="243" r="0.85" fill="#31a8c0" stroke="#237f92" stroke-width="0.3"/>
<circle cx="37" cy="242.6" r="0.85" fill="#31a8c0" stroke="#237f92" stroke-width="0.3"/>
<path d="M64.4,266 V234 Q64.6,229 74.6,229 Q84.6,229 84.8,234 V266 Z" fill="#e65842"/>
<circle cx="71.46" cy="233.1" r="0.85" fill="#e85c46" stroke="#c0392b" stroke-width="0.2"/>
<circle cx="82.47" cy="240.83" r="0.85" fill="#e85c46" stroke="#c0392b" stroke-width="0.2"/>
<circle cx="72.84" cy="228.49" r="0.85" fill="#e34a34" stroke="#c0392b" stroke-width="0.2"/>
<circle cx="76.14" cy="255.73" r="0.85" fill="#e34a34" stroke="#c0392b" stroke-width="0.2"/>
<circle cx="77.25" cy="228.96" r="0.85" fill="#e34a34" stroke="#c0392b" stroke-width="0.2"/>
<circle cx="76.91" cy="239.45" r="0.85" fill="#e85c46" stroke="#c0392b" stroke-width="0.2"/>
<circle cx="65.7" cy="260" r="0.85" fill="#e34a34" stroke="#c0392b" stroke-width="0.2"/>
<circle cx="82.65" cy="227.91" r="0.85" fill="#e85c46" stroke="#c0392b" stroke-width="0.2"/>
<circle cx="79.44" cy="223.46" r="0.85" fill="#e34a34" stroke="#c0392b" stroke-width="0.2"/>
<circle cx="76.32" cy="236.5" r="0.85" fill="#e34a34" stroke="#c0392b" stroke-width="0.2"/>
<circle cx="73.34" cy="261.76" r="0.85" fill="#dc412c" stroke="#c0392b" stroke-width="0.2"/>
<circle cx="79.9" cy="252.63" r="0.85" fill="#e34a34" stroke="#c0392b" stroke-width="0.2"/>
<circle cx="64.63" cy="246.29" r="0.85" fill="#e34a34" stroke="#c0392b" stroke-width="0.2"/>
<circle cx="68.88" cy="240.07" r="0.85" fill="#e34a34" stroke="#c0392b" stroke-width="0.2"/>
<circle cx="78.8" cy="242.71" r="0.85" fill="#e34a34" stroke="#c0392b" stroke-width="0.2"/>
<circle cx="83.51" cy="235.01" r="0.85" fill="#e85c46" stroke="#c0392b" stroke-width="0.2"/>
<circle cx="69.42" cy="250.46" r="0.85" fill="#dc412c" stroke="#c0392b" stroke-width="0.2"/>
<circle cx="78.38" cy="259.49" r="0.85" fill="#dc412c" stroke="#c0392b" stroke-width="0.2"/>
<circle cx="68.29" cy="250.86" r="0.85" fill="#e34a34" stroke="#c0392b" stroke-width="0.2"/>
<circle cx="77.99" cy="261.77" r="0.85" fill="#e85c46" stroke="#c0392b" stroke-width="0.2"/>
<circle cx="73.37" cy="271.12" r="0.85" fill="#e34a34" stroke="#c0392b" stroke-width="0.2"/>
<circle cx="78.12" cy="257.81" r="0.85" fill="#e34a34" stroke="#c0392b" stroke-width="0.2"/>
<circle cx="68.21" cy="244.04" r="0.85" fill="#e34a34" stroke="#c0392b" stroke-width="0.2"/>
<circle cx="83.38" cy="232.13" r="0.85" fill="#e85c46" stroke="#c0392b" stroke-width="0.2"/>
<circle cx="82.66" cy="258.58" r="0.85" fill="#dc412c" stroke="#c0392b" stroke-width="0.2"/>
<circle cx="70.71" cy="239.32" r="0.85" fill="#dc412c" stroke="#c0392b" stroke-width="0.2"/>
<circle cx="66.89" cy="259.86" r="0.85" fill="#dc412c" stroke="#c0392b" stroke-width="0.2"/>
<circle cx="81.99" cy="229.25" r="0.85" fill="#e85c46" stroke="#c0392b" stroke-width="0.2"/>
<circle cx="79.08" cy="250.67" r="0.85" fill="#e34a34" stroke="#c0392b" stroke-width="0.2"/>
<circle cx="67.59" cy="258.62" r="0.85" fill="#e85c46" stroke="#c0392b" stroke-width="0.2"/>
<circle cx="73.55" cy="247.46" r="0.85" fill="#e34a34" stroke="#c0392b" stroke-width="0.2"/>
<circle cx="72.78" cy="249" r="0.85" fill="#e34a34" stroke="#c0392b" stroke-width="0.2"/>
<circle cx="77.27" cy="257.74" r="0.85" fill="#dc412c" stroke="#c0392b" stroke-width="0.2"/>
<circle cx="81.79" cy="240.63" r="0.85" fill="#e85c46" stroke="#c0392b" stroke-width="0.2"/>
<circle cx="84.82" cy="250.57" r="0.85" fill="#e34a34" stroke="#c0392b" stroke-width="0.2"/>
<circle cx="64.67" cy="246.06" r="0.85" fill="#e34a34" stroke="#c0392b" stroke-width="0.2"/>
<circle cx="82.5" cy="251.47" r="0.85" fill="#e85c46" stroke="#c0392b" stroke-width="0.2"/>
<circle cx="76.1" cy="266.89" r="0.85" fill="#e34a34" stroke="#c0392b" stroke-width="0.2"/>
<circle cx="70.55" cy="254.65" r="0.85" fill="#e34a34" stroke="#c0392b" stroke-width="0.2"/>
<circle cx="66.88" cy="250.76" r="0.85" fill="#e34a34" stroke="#c0392b" stroke-width="0.2"/>
<circle cx="73.64" cy="248.11" r="0.85" fill="#e85c46" stroke="#c0392b" stroke-width="0.2"/>
<circle cx="69.03" cy="270.65" r="0.85" fill="#e34a34" stroke="#c0392b" stroke-width="0.2"/>
<circle cx="66.99" cy="253.4" r="0.85" fill="#dc412c" stroke="#c0392b" stroke-width="0.2"/>
<circle cx="73.47" cy="265.03" r="0.85" fill="#e85c46" stroke="#c0392b" stroke-width="0.2"/>
<circle cx="77.36" cy="254.7" r="0.85" fill="#e85c46" stroke="#c0392b" stroke-width="0.2"/>
<circle cx="84.32" cy="238.98" r="0.85" fill="#e85c46" stroke="#c0392b" stroke-width="0.2"/>
<circle cx="78.51" cy="233.68" r="0.85" fill="#e34a34" stroke="#c0392b" stroke-width="0.2"/>
<circle cx="67.79" cy="254.11" r="0.85" fill="#e85c46" stroke="#c0392b" stroke-width="0.2"/>
<circle cx="64.23" cy="262.06" r="0.85" fill="#e34a34" stroke="#c0392b" stroke-width="0.2"/>
<circle cx="67.8" cy="233.06" r="0.85" fill="#e85c46" stroke="#c0392b" stroke-width="0.2"/>
<circle cx="69.77" cy="253.23" r="0.85" fill="#e34a34" stroke="#c0392b" stroke-width="0.2"/>
<circle cx="75.03" cy="240.58" r="0.85" fill="#dc412c" stroke="#c0392b" stroke-width="0.2"/>
<circle cx="77.03" cy="264.22" r="0.85" fill="#e34a34" stroke="#c0392b" stroke-width="0.2"/>
<circle cx="80.79" cy="250.63" r="0.85" fill="#e34a34" stroke="#c0392b" stroke-width="0.2"/>
<circle cx="83.21" cy="239.21" r="0.85" fill="#e34a34" stroke="#c0392b" stroke-width="0.2"/>
<circle cx="79.31" cy="272.01" r="0.85" fill="#e85c46" stroke="#c0392b" stroke-width="0.2"/>
<circle cx="66.75" cy="263.51" r="0.85" fill="#e34a34" stroke="#c0392b" stroke-width="0.2"/>
<circle cx="83.29" cy="235.43" r="0.85" fill="#e85c46" stroke="#c0392b" stroke-width="0.2"/>
<circle cx="71.99" cy="254.64" r="0.85" fill="#e34a34" stroke="#c0392b" stroke-width="0.2"/>
<circle cx="80.89" cy="229.66" r="0.85" fill="#e34a34" stroke="#c0392b" stroke-width="0.2"/>
<circle cx="84.02" cy="240.72" r="0.85" fill="#e34a34" stroke="#c0392b" stroke-width="0.2"/>
<circle cx="68.34" cy="234.65" r="0.85" fill="#e34a34" stroke="#c0392b" stroke-width="0.2"/>
<circle cx="79.31" cy="253.81" r="0.85" fill="#dc412c" stroke="#c0392b" stroke-width="0.2"/>
<circle cx="79.21" cy="256.76" r="0.85" fill="#dc412c" stroke="#c0392b" stroke-width="0.2"/>
<circle cx="68.52" cy="235.87" r="0.85" fill="#dc412c" stroke="#c0392b" stroke-width="0.2"/>
<circle cx="84.72" cy="275.17" r="0.85" fill="#e34a34" stroke="#c0392b" stroke-width="0.2"/>
<circle cx="75.38" cy="232.05" r="0.85" fill="#e85c46" stroke="#c0392b" stroke-width="0.2"/>
<circle cx="83.29" cy="252.65" r="0.85" fill="#dc412c" stroke="#c0392b" stroke-width="0.2"/>
<circle cx="82.14" cy="240.85" r="0.85" fill="#e34a34" stroke="#c0392b" stroke-width="0.2"/>
<circle cx="73.35" cy="247.55" r="0.85" fill="#e85c46" stroke="#c0392b" stroke-width="0.2"/>
<circle cx="75.67" cy="253.92" r="0.85" fill="#dc412c" stroke="#c0392b" stroke-width="0.2"/>
<circle cx="64.6" cy="251.65" r="0.85" fill="#e34a34" stroke="#c0392b" stroke-width="0.2"/>
<circle cx="81.15" cy="237.57" r="0.85" fill="#dc412c" stroke="#c0392b" stroke-width="0.2"/>
<circle cx="67.67" cy="268.35" r="0.85" fill="#e34a34" stroke="#c0392b" stroke-width="0.2"/>
<circle cx="71.1" cy="257.93" r="0.85" fill="#e85c46" stroke="#c0392b" stroke-width="0.2"/>
<circle cx="67.15" cy="251.63" r="0.85" fill="#dc412c" stroke="#c0392b" stroke-width="0.2"/>
<circle cx="74.95" cy="244.32" r="0.85" fill="#e85c46" stroke="#c0392b" stroke-width="0.2"/>
<circle cx="78.61" cy="246.72" r="0.85" fill="#e85c46" stroke="#c0392b" stroke-width="0.2"/>
<circle cx="84.05" cy="229.43" r="0.85" fill="#e34a34" stroke="#c0392b" stroke-width="0.2"/>
<circle cx="65.82" cy="223.38" r="0.85" fill="#e34a34" stroke="#c0392b" stroke-width="0.2"/>
<circle cx="68.69" cy="251.45" r="0.85" fill="#dc412c" stroke="#c0392b" stroke-width="0.2"/>
<circle cx="79.45" cy="241.22" r="0.85" fill="#e34a34" stroke="#c0392b" stroke-width="0.2"/>
<circle cx="77.54" cy="248.68" r="0.85" fill="#e34a34" stroke="#c0392b" stroke-width="0.2"/>
<circle cx="75.87" cy="229.23" r="0.85" fill="#e34a34" stroke="#c0392b" stroke-width="0.2"/>
<circle cx="70.61" cy="247.18" r="0.85" fill="#e34a34" stroke="#c0392b" stroke-width="0.2"/>
<circle cx="83.09" cy="234.6" r="0.85" fill="#dc412c" stroke="#c0392b" stroke-width="0.2"/>
<circle cx="68.41" cy="264.63" r="0.85" fill="#dc412c" stroke="#c0392b" stroke-width="0.2"/>
<circle cx="75.11" cy="267.31" r="0.85" fill="#e34a34" stroke="#c0392b" stroke-width="0.2"/>
<circle cx="76.15" cy="226.89" r="0.85" fill="#dc412c" stroke="#c0392b" stroke-width="0.2"/>
<circle cx="74.67" cy="254.33" r="0.85" fill="#e34a34" stroke="#c0392b" stroke-width="0.2"/>
<circle cx="76.83" cy="263.19" r="0.85" fill="#e85c46" stroke="#c0392b" stroke-width="0.2"/>
<circle cx="74.94" cy="255.24" r="0.85" fill="#e34a34" stroke="#c0392b" stroke-width="0.2"/>
<circle cx="75.93" cy="234.16" r="0.85" fill="#e34a34" stroke="#c0392b" stroke-width="0.2"/>
<circle cx="74.41" cy="261.76" r="0.85" fill="#e85c46" stroke="#c0392b" stroke-width="0.2"/>
<circle cx="75.42" cy="248.73" r="0.85" fill="#e85c46" stroke="#c0392b" stroke-width="0.2"/>
<circle cx="72.77" cy="246.41" r="0.85" fill="#e85c46" stroke="#c0392b" stroke-width="0.2"/>
<circle cx="69.71" cy="274.23" r="0.85" fill="#e34a34" stroke="#c0392b" stroke-width="0.2"/>
<circle cx="74.03" cy="243.52" r="0.85" fill="#e85c46" stroke="#c0392b" stroke-width="0.2"/>
<circle cx="81.29" cy="258.39" r="0.85" fill="#dc412c" stroke="#c0392b" stroke-width="0.2"/>
<circle cx="83.09" cy="258.6" r="0.85" fill="#e34a34" stroke="#c0392b" stroke-width="0.2"/>
<circle cx="68.06" cy="240.69" r="0.85" fill="#e34a34" stroke="#c0392b" stroke-width="0.2"/>
<circle cx="77.1" cy="251.61" r="0.85" fill="#e34a34" stroke="#c0392b" stroke-width="0.2"/>
<circle cx="80.52" cy="255.37" r="0.85" fill="#e85c46" stroke="#c0392b" stroke-width="0.2"/>
<circle cx="64.48" cy="247.58" r="0.85" fill="#dc412c" stroke="#c0392b" stroke-width="0.2"/>
<circle cx="78.57" cy="252.92" r="0.85" fill="#dc412c" stroke="#c0392b" stroke-width="0.2"/>
<circle cx="70.83" cy="257.62" r="0.85" fill="#e34a34" stroke="#c0392b" stroke-width="0.2"/>
<circle cx="66.22" cy="240.8" r="0.85" fill="#e34a34" stroke="#c0392b" stroke-width="0.2"/>
<circle cx="79.49" cy="262.27" r="0.85" fill="#e85c46" stroke="#c0392b" stroke-width="0.2"/>
<circle cx="69.31" cy="259.63" r="0.85" fill="#e85c46" stroke="#c0392b" stroke-width="0.2"/>
<circle cx="68.19" cy="259.37" r="0.85" fill="#dc412c" stroke="#c0392b" stroke-width="0.2"/>
<circle cx="71.97" cy="238.63" r="0.85" fill="#e34a34" stroke="#c0392b" stroke-width="0.2"/>
<circle cx="72.76" cy="247.97" r="0.85" fill="#e34a34" stroke="#c0392b" stroke-width="0.2"/>
<circle cx="68.33" cy="243.82" r="0.85" fill="#e85c46" stroke="#c0392b" stroke-width="0.2"/>
<circle cx="77.38" cy="249.01" r="0.85" fill="#e34a34" stroke="#c0392b" stroke-width="0.2"/>
<circle cx="82.05" cy="241.49" r="0.85" fill="#dc412c" stroke="#c0392b" stroke-width="0.2"/>
<circle cx="76.97" cy="239.87" r="0.85" fill="#e85c46" stroke="#c0392b" stroke-width="0.2"/>
<circle cx="79.7" cy="255.18" r="0.85" fill="#e34a34" stroke="#c0392b" stroke-width="0.2"/>
<circle cx="81.18" cy="243.93" r="0.85" fill="#dc412c" stroke="#c0392b" stroke-width="0.2"/>
<circle cx="70.68" cy="258.05" r="0.85" fill="#dc412c" stroke="#c0392b" stroke-width="0.2"/>
<circle cx="83.56" cy="244.7" r="0.85" fill="#dc412c" stroke="#c0392b" stroke-width="0.2"/>
<circle cx="82.82" cy="258.03" r="0.85" fill="#e85c46" stroke="#c0392b" stroke-width="0.2"/>
<circle cx="79.4" cy="255.62" r="0.85" fill="#e85c46" stroke="#c0392b" stroke-width="0.2"/>
<circle cx="69.5" cy="256.27" r="0.85" fill="#e34a34" stroke="#c0392b" stroke-width="0.2"/>
<circle cx="72.94" cy="267.24" r="0.85" fill="#e34a34" stroke="#c0392b" stroke-width="0.2"/>
<circle cx="80.75" cy="262.1" r="0.85" fill="#e34a34" stroke="#c0392b" stroke-width="0.2"/>
<circle cx="78.53" cy="258.05" r="0.85" fill="#e34a34" stroke="#c0392b" stroke-width="0.2"/>
<circle cx="64.38" cy="258.15" r="0.85" fill="#dc412c" stroke="#c0392b" stroke-width="0.2"/>
<circle cx="83.32" cy="255.26" r="0.85" fill="#e34a34" stroke="#c0392b" stroke-width="0.2"/>
<circle cx="84.53" cy="266.07" r="0.85" fill="#e85c46" stroke="#c0392b" stroke-width="0.2"/>
<circle cx="80.07" cy="259.97" r="0.85" fill="#dc412c" stroke="#c0392b" stroke-width="0.2"/>
<circle cx="74.66" cy="258.86" r="0.85" fill="#e34a34" stroke="#c0392b" stroke-width="0.2"/>
<circle cx="65.5" cy="247.4" r="0.85" fill="#dc412c" stroke="#c0392b" stroke-width="0.2"/>
<circle cx="66.25" cy="243.65" r="0.85" fill="#e85c46" stroke="#c0392b" stroke-width="0.2"/>
<circle cx="74.91" cy="263.75" r="0.85" fill="#dc412c" stroke="#c0392b" stroke-width="0.2"/>
<circle cx="76.06" cy="253.45" r="0.85" fill="#e34a34" stroke="#c0392b" stroke-width="0.2"/>
<circle cx="68.32" cy="254.45" r="0.85" fill="#e34a34" stroke="#c0392b" stroke-width="0.2"/>
<circle cx="81.81" cy="255.79" r="0.85" fill="#e34a34" stroke="#c0392b" stroke-width="0.2"/>
<circle cx="66.02" cy="275.31" r="0.85" fill="#e34a34" stroke="#c0392b" stroke-width="0.2"/>
<circle cx="65.31" cy="248.67" r="0.85" fill="#e34a34" stroke="#c0392b" stroke-width="0.2"/>
<circle cx="80.21" cy="261.88" r="0.85" fill="#e34a34" stroke="#c0392b" stroke-width="0.2"/>
<circle cx="70.93" cy="246.52" r="0.85" fill="#e34a34" stroke="#c0392b" stroke-width="0.2"/>
<circle cx="73.12" cy="237.25" r="0.85" fill="#e34a34" stroke="#c0392b" stroke-width="0.2"/>
<circle cx="76.74" cy="252.93" r="0.85" fill="#dc412c" stroke="#c0392b" stroke-width="0.2"/>
<circle cx="81.9" cy="267.23" r="0.85" fill="#dc412c" stroke="#c0392b" stroke-width="0.2"/>
<circle cx="67.84" cy="251.62" r="0.85" fill="#e34a34" stroke="#c0392b" stroke-width="0.2"/>
<circle cx="72.59" cy="232.91" r="0.85" fill="#dc412c" stroke="#c0392b" stroke-width="0.2"/>
<circle cx="68.14" cy="255.35" r="0.85" fill="#e85c46" stroke="#c0392b" stroke-width="0.2"/>
<circle cx="64.33" cy="256.91" r="0.85" fill="#e85c46" stroke="#c0392b" stroke-width="0.2"/>
<circle cx="82.94" cy="261.55" r="0.85" fill="#e34a34" stroke="#c0392b" stroke-width="0.2"/>
<circle cx="82.25" cy="255.68" r="0.85" fill="#e85c46" stroke="#c0392b" stroke-width="0.2"/>
<circle cx="77.34" cy="233.92" r="0.85" fill="#e34a34" stroke="#c0392b" stroke-width="0.2"/>
<circle cx="74.69" cy="237.92" r="0.85" fill="#e85c46" stroke="#c0392b" stroke-width="0.2"/>
<circle cx="84.83" cy="258.6" r="0.85" fill="#dc412c" stroke="#c0392b" stroke-width="0.2"/>
<circle cx="83.32" cy="253.07" r="0.85" fill="#e85c46" stroke="#c0392b" stroke-width="0.2"/>
<circle cx="79.78" cy="242.2" r="0.85" fill="#e34a34" stroke="#c0392b" stroke-width="0.2"/>
<circle cx="72.6" cy="253.73" r="0.85" fill="#dc412c" stroke="#c0392b" stroke-width="0.2"/>
<circle cx="83.01" cy="230.32" r="0.85" fill="#e34a34" stroke="#c0392b" stroke-width="0.2"/>
<circle cx="80.27" cy="262.54" r="0.85" fill="#e85c46" stroke="#c0392b" stroke-width="0.2"/>
<circle cx="80.22" cy="238.59" r="0.85" fill="#e34a34" stroke="#c0392b" stroke-width="0.2"/>
<circle cx="65.5" cy="235.58" r="0.85" fill="#dc412c" stroke="#c0392b" stroke-width="0.2"/>
<circle cx="71.24" cy="260.03" r="0.85" fill="#dc412c" stroke="#c0392b" stroke-width="0.2"/>
<circle cx="71.54" cy="248.63" r="0.85" fill="#e34a34" stroke="#c0392b" stroke-width="0.2"/>
<circle cx="77.54" cy="250.51" r="0.85" fill="#e34a34" stroke="#c0392b" stroke-width="0.2"/>
<circle cx="84.03" cy="244.51" r="0.85" fill="#e34a34" stroke="#c0392b" stroke-width="0.2"/>
<circle cx="78.12" cy="244.58" r="0.85" fill="#dc412c" stroke="#c0392b" stroke-width="0.2"/>
<circle cx="76.08" cy="241.73" r="0.85" fill="#e34a34" stroke="#c0392b" stroke-width="0.2"/>
<circle cx="75.3" cy="263.96" r="0.85" fill="#e34a34" stroke="#c0392b" stroke-width="0.2"/>
<circle cx="77.62" cy="214.14" r="0.85" fill="#dc412c" stroke="#c0392b" stroke-width="0.2"/>
<circle cx="84.78" cy="244.58" r="0.85" fill="#e34a34" stroke="#c0392b" stroke-width="0.2"/>
<circle cx="64.48" cy="232.44" r="0.85" fill="#e34a34" stroke="#c0392b" stroke-width="0.2"/>
<circle cx="69.44" cy="236.71" r="0.85" fill="#e34a34" stroke="#c0392b" stroke-width="0.2"/>
<circle cx="72.51" cy="238.25" r="0.85" fill="#dc412c" stroke="#c0392b" stroke-width="0.2"/>
<circle cx="71.96" cy="257.09" r="0.85" fill="#e34a34" stroke="#c0392b" stroke-width="0.2"/>
<circle cx="66.09" cy="252.46" r="0.85" fill="#dc412c" stroke="#c0392b" stroke-width="0.2"/>
<circle cx="75.66" cy="250.07" r="0.85" fill="#dc412c" stroke="#c0392b" stroke-width="0.2"/>
<circle cx="74.77" cy="274.1" r="0.85" fill="#e34a34" stroke="#c0392b" stroke-width="0.2"/>
<circle cx="85.1" cy="264.15" r="0.85" fill="#e34a34" stroke="#c0392b" stroke-width="0.2"/>
<circle cx="77.53" cy="247.28" r="0.85" fill="#e34a34" stroke="#c0392b" stroke-width="0.2"/>
<circle cx="76.67" cy="251.8" r="0.85" fill="#dc412c" stroke="#c0392b" stroke-width="0.2"/>
<circle cx="80.1" cy="246.12" r="0.85" fill="#dc412c" stroke="#c0392b" stroke-width="0.2"/>
<circle cx="67.39" cy="274.57" r="0.85" fill="#dc412c" stroke="#c0392b" stroke-width="0.2"/>
<circle cx="74" cy="257.3" r="0.85" fill="#dc412c" stroke="#c0392b" stroke-width="0.2"/>
<circle cx="76.96" cy="256.46" r="0.85" fill="#dc412c" stroke="#c0392b" stroke-width="0.2"/>
<circle cx="65.24" cy="261.44" r="0.85" fill="#e85c46" stroke="#c0392b" stroke-width="0.2"/>
<circle cx="75.17" cy="261.02" r="0.85" fill="#e34a34" stroke="#c0392b" stroke-width="0.2"/>
<circle cx="76.67" cy="246.33" r="0.85" fill="#e34a34" stroke="#c0392b" stroke-width="0.2"/>
<circle cx="77.89" cy="244.21" r="0.85" fill="#dc412c" stroke="#c0392b" stroke-width="0.2"/>
<circle cx="75.89" cy="256.95" r="0.85" fill="#dc412c" stroke="#c0392b" stroke-width="0.2"/>
<circle cx="70.28" cy="246.55" r="0.85" fill="#e34a34" stroke="#c0392b" stroke-width="0.2"/>
<circle cx="64.3" cy="267.28" r="0.85" fill="#e85c46" stroke="#c0392b" stroke-width="0.2"/>
<circle cx="67.32" cy="250.3" r="0.85" fill="#e34a34" stroke="#c0392b" stroke-width="0.2"/>
<circle cx="80" cy="253.45" r="0.85" fill="#e34a34" stroke="#c0392b" stroke-width="0.2"/>
<circle cx="79.87" cy="232.11" r="0.85" fill="#e34a34" stroke="#c0392b" stroke-width="0.2"/>
<circle cx="65.06" cy="265.17" r="0.85" fill="#e34a34" stroke="#c0392b" stroke-width="0.2"/>
<circle cx="65.56" cy="276.58" r="0.85" fill="#e34a34" stroke="#c0392b" stroke-width="0.2"/>
<circle cx="83.2" cy="248.34" r="0.85" fill="#dc412c" stroke="#c0392b" stroke-width="0.2"/>
<circle cx="84.63" cy="238.87" r="0.85" fill="#e34a34" stroke="#c0392b" stroke-width="0.2"/>
<circle cx="69.17" cy="255.57" r="0.85" fill="#e34a34" stroke="#c0392b" stroke-width="0.2"/>
<circle cx="79.32" cy="224.59" r="0.85" fill="#e34a34" stroke="#c0392b" stroke-width="0.2"/>
<circle cx="73.93" cy="246.41" r="0.85" fill="#e34a34" stroke="#c0392b" stroke-width="0.2"/>
<circle cx="76.8" cy="270.28" r="0.85" fill="#e34a34" stroke="#c0392b" stroke-width="0.2"/>
<circle cx="66.44" cy="247.51" r="0.85" fill="#e34a34" stroke="#c0392b" stroke-width="0.2"/>
<circle cx="68.32" cy="241.58" r="0.85" fill="#e85c46" stroke="#c0392b" stroke-width="0.2"/>
<circle cx="65.1" cy="241.66" r="0.85" fill="#dc412c" stroke="#c0392b" stroke-width="0.2"/>
<circle cx="73.39" cy="244.62" r="0.85" fill="#dc412c" stroke="#c0392b" stroke-width="0.2"/>
<circle cx="78.16" cy="249.2" r="0.85" fill="#e34a34" stroke="#c0392b" stroke-width="0.2"/>
<circle cx="76.34" cy="241.96" r="0.85" fill="#dc412c" stroke="#c0392b" stroke-width="0.2"/>
<circle cx="72.89" cy="252.56" r="0.85" fill="#e34a34" stroke="#c0392b" stroke-width="0.2"/>
<circle cx="85.15" cy="252.57" r="0.85" fill="#e34a34" stroke="#c0392b" stroke-width="0.2"/>
<circle cx="84.2" cy="236.88" r="0.85" fill="#e85c46" stroke="#c0392b" stroke-width="0.2"/>
<circle cx="66.41" cy="249.4" r="0.85" fill="#e85c46" stroke="#c0392b" stroke-width="0.2"/>
<circle cx="82.93" cy="242.12" r="0.85" fill="#dc412c" stroke="#c0392b" stroke-width="0.2"/>
<circle cx="71.61" cy="253.5" r="0.85" fill="#e85c46" stroke="#c0392b" stroke-width="0.2"/>
<circle cx="69.76" cy="235.15" r="0.85" fill="#dc412c" stroke="#c0392b" stroke-width="0.2"/>
<circle cx="76.54" cy="244.57" r="0.85" fill="#e85c46" stroke="#c0392b" stroke-width="0.2"/>
<circle cx="77.42" cy="237.17" r="0.85" fill="#e85c46" stroke="#c0392b" stroke-width="0.2"/>
<circle cx="69.28" cy="250.35" r="0.85" fill="#e34a34" stroke="#c0392b" stroke-width="0.2"/>
<circle cx="84.77" cy="243.06" r="0.85" fill="#e34a34" stroke="#c0392b" stroke-width="0.2"/>
<circle cx="64.84" cy="269.7" r="0.85" fill="#e34a34" stroke="#c0392b" stroke-width="0.2"/>
<circle cx="65.29" cy="238.79" r="0.85" fill="#e85c46" stroke="#c0392b" stroke-width="0.2"/>
<circle cx="77.22" cy="248.68" r="0.85" fill="#e34a34" stroke="#c0392b" stroke-width="0.2"/>
<circle cx="66.17" cy="261.68" r="0.85" fill="#e34a34" stroke="#c0392b" stroke-width="0.2"/>
<circle cx="65.83" cy="246.08" r="0.85" fill="#dc412c" stroke="#c0392b" stroke-width="0.2"/>
<circle cx="78.34" cy="249.1" r="0.85" fill="#dc412c" stroke="#c0392b" stroke-width="0.2"/>
<circle cx="71.91" cy="235.44" r="0.85" fill="#dc412c" stroke="#c0392b" stroke-width="0.2"/>
<circle cx="74.15" cy="245.34" r="0.85" fill="#e34a34" stroke="#c0392b" stroke-width="0.2"/>
<circle cx="79.79" cy="252.67" r="0.85" fill="#e34a34" stroke="#c0392b" stroke-width="0.2"/>
<circle cx="81.78" cy="259.99" r="0.85" fill="#dc412c" stroke="#c0392b" stroke-width="0.2"/>
<circle cx="81.15" cy="255.16" r="0.85" fill="#e85c46" stroke="#c0392b" stroke-width="0.2"/>
<circle cx="77.22" cy="252.7" r="0.85" fill="#e34a34" stroke="#c0392b" stroke-width="0.2"/>
<circle cx="73" cy="251.1" r="0.85" fill="#e85c46" stroke="#c0392b" stroke-width="0.2"/>
<circle cx="69.47" cy="242.64" r="0.85" fill="#e85c46" stroke="#c0392b" stroke-width="0.2"/>
<circle cx="77.86" cy="254.08" r="0.85" fill="#e85c46" stroke="#c0392b" stroke-width="0.2"/>
<circle cx="84.97" cy="240.38" r="0.85" fill="#e85c46" stroke="#c0392b" stroke-width="0.2"/>
<circle cx="79.82" cy="243.87" r="0.85" fill="#dc412c" stroke="#c0392b" stroke-width="0.2"/>
<circle cx="83.52" cy="262.55" r="0.85" fill="#e34a34" stroke="#c0392b" stroke-width="0.2"/>
<circle cx="66.06" cy="240.71" r="0.85" fill="#dc412c" stroke="#c0392b" stroke-width="0.2"/>
<circle cx="82.55" cy="254.84" r="0.85" fill="#dc412c" stroke="#c0392b" stroke-width="0.2"/>
<circle cx="75.96" cy="254.23" r="0.85" fill="#e34a34" stroke="#c0392b" stroke-width="0.2"/>
<circle cx="74.28" cy="252.37" r="0.85" fill="#dc412c" stroke="#c0392b" stroke-width="0.2"/>
<circle cx="80.44" cy="246.54" r="0.85" fill="#dc412c" stroke="#c0392b" stroke-width="0.2"/>
<circle cx="65.61" cy="241.69" r="0.85" fill="#e34a34" stroke="#c0392b" stroke-width="0.2"/>
<circle cx="65.73" cy="253.91" r="0.85" fill="#e85c46" stroke="#c0392b" stroke-width="0.2"/>
<circle cx="70.44" cy="265.97" r="0.85" fill="#e85c46" stroke="#c0392b" stroke-width="0.2"/>
<circle cx="70" cy="247.55" r="0.85" fill="#dc412c" stroke="#c0392b" stroke-width="0.2"/>
<circle cx="67.03" cy="233.48" r="0.85" fill="#dc412c" stroke="#c0392b" stroke-width="0.2"/>
<circle cx="71.77" cy="239.11" r="0.85" fill="#e85c46" stroke="#c0392b" stroke-width="0.2"/>
<circle cx="66.49" cy="263.99" r="0.85" fill="#e85c46" stroke="#c0392b" stroke-width="0.2"/>
<circle cx="83.47" cy="246.59" r="0.85" fill="#e34a34" stroke="#c0392b" stroke-width="0.2"/>
<circle cx="83.93" cy="236.39" r="0.85" fill="#e34a34" stroke="#c0392b" stroke-width="0.2"/>
<circle cx="81.02" cy="260.3" r="0.85" fill="#e34a34" stroke="#c0392b" stroke-width="0.2"/>
<circle cx="70.46" cy="244.09" r="0.85" fill="#dc412c" stroke="#c0392b" stroke-width="0.2"/>
<circle cx="83.81" cy="245.62" r="0.85" fill="#e34a34" stroke="#c0392b" stroke-width="0.2"/>
<circle cx="82.97" cy="260.32" r="0.85" fill="#e34a34" stroke="#c0392b" stroke-width="0.2"/>
<circle cx="71.75" cy="250.31" r="0.85" fill="#e34a34" stroke="#c0392b" stroke-width="0.2"/>
<circle cx="71.7" cy="260.62" r="0.85" fill="#e34a34" stroke="#c0392b" stroke-width="0.2"/>
<circle cx="68.13" cy="241.57" r="0.85" fill="#e85c46" stroke="#c0392b" stroke-width="0.2"/>
<circle cx="75.95" cy="256.84" r="0.85" fill="#e34a34" stroke="#c0392b" stroke-width="0.2"/>
<circle cx="81.73" cy="254.2" r="0.85" fill="#e34a34" stroke="#c0392b" stroke-width="0.2"/>
<circle cx="75.93" cy="237.08" r="0.85" fill="#e34a34" stroke="#c0392b" stroke-width="0.2"/>
<circle cx="82.68" cy="258.46" r="0.85" fill="#dc412c" stroke="#c0392b" stroke-width="0.2"/>
<circle cx="69.97" cy="266.82" r="0.85" fill="#dc412c" stroke="#c0392b" stroke-width="0.2"/>
<circle cx="75.54" cy="263.32" r="0.85" fill="#e34a34" stroke="#c0392b" stroke-width="0.2"/>
<circle cx="76.03" cy="252.04" r="0.85" fill="#e34a34" stroke="#c0392b" stroke-width="0.2"/>
<circle cx="81.05" cy="265.81" r="0.85" fill="#dc412c" stroke="#c0392b" stroke-width="0.2"/>
<circle cx="65.36" cy="246.86" r="0.85" fill="#dc412c" stroke="#c0392b" stroke-width="0.2"/>
<circle cx="65.78" cy="231.66" r="0.85" fill="#dc412c" stroke="#c0392b" stroke-width="0.2"/>
<circle cx="65.73" cy="244.58" r="0.85" fill="#dc412c" stroke="#c0392b" stroke-width="0.2"/>
<circle cx="65.8" cy="248.29" r="0.85" fill="#e85c46" stroke="#c0392b" stroke-width="0.2"/>
<circle cx="77.44" cy="226.72" r="0.85" fill="#dc412c" stroke="#c0392b" stroke-width="0.2"/>
<circle cx="77.76" cy="261.46" r="0.85" fill="#e85c46" stroke="#c0392b" stroke-width="0.2"/>
<circle cx="69.2" cy="264.51" r="0.85" fill="#e85c46" stroke="#c0392b" stroke-width="0.2"/>
<circle cx="75.06" cy="253.66" r="0.85" fill="#e34a34" stroke="#c0392b" stroke-width="0.2"/>
<circle cx="80.21" cy="268.61" r="0.85" fill="#e85c46" stroke="#c0392b" stroke-width="0.2"/>
<circle cx="84.53" cy="242.33" r="0.85" fill="#dc412c" stroke="#c0392b" stroke-width="0.2"/>
<circle cx="78.25" cy="256.35" r="0.85" fill="#e85c46" stroke="#c0392b" stroke-width="0.2"/>
<circle cx="79.28" cy="236.55" r="0.85" fill="#e85c46" stroke="#c0392b" stroke-width="0.2"/>
<circle cx="79.01" cy="250.74" r="0.85" fill="#e85c46" stroke="#c0392b" stroke-width="0.2"/>
<circle cx="81.52" cy="259.93" r="0.85" fill="#e34a34" stroke="#c0392b" stroke-width="0.2"/>
<circle cx="78.13" cy="244.44" r="0.85" fill="#dc412c" stroke="#c0392b" stroke-width="0.2"/>
<circle cx="81.68" cy="262.26" r="0.85" fill="#e85c46" stroke="#c0392b" stroke-width="0.2"/>
<circle cx="82.84" cy="234.35" r="0.85" fill="#e85c46" stroke="#c0392b" stroke-width="0.2"/>
<circle cx="75.11" cy="265.38" r="0.85" fill="#e34a34" stroke="#c0392b" stroke-width="0.2"/>
<circle cx="79.05" cy="246.08" r="0.85" fill="#e34a34" stroke="#c0392b" stroke-width="0.2"/>
<circle cx="72.91" cy="253.91" r="0.85" fill="#e85c46" stroke="#c0392b" stroke-width="0.2"/>
<circle cx="67.1" cy="239.3" r="0.85" fill="#dc412c" stroke="#c0392b" stroke-width="0.2"/>
<circle cx="71.96" cy="248.34" r="0.85" fill="#dc412c" stroke="#c0392b" stroke-width="0.2"/>
<circle cx="67.55" cy="216.48" r="0.85" fill="#e34a34" stroke="#c0392b" stroke-width="0.2"/>
<circle cx="70.19" cy="253.47" r="0.85" fill="#dc412c" stroke="#c0392b" stroke-width="0.2"/>
<circle cx="84.56" cy="261.3" r="0.85" fill="#e34a34" stroke="#c0392b" stroke-width="0.2"/>
<circle cx="66.43" cy="259" r="0.85" fill="#e34a34" stroke="#c0392b" stroke-width="0.2"/>
<circle cx="77.74" cy="253.63" r="0.85" fill="#e85c46" stroke="#c0392b" stroke-width="0.2"/>
<circle cx="65.32" cy="251.32" r="0.85" fill="#e34a34" stroke="#c0392b" stroke-width="0.2"/>
<circle cx="73.73" cy="243.37" r="0.85" fill="#e85c46" stroke="#c0392b" stroke-width="0.2"/>
<circle cx="64.77" cy="229.38" r="0.85" fill="#e34a34" stroke="#c0392b" stroke-width="0.2"/>
<circle cx="66.3" cy="238.05" r="0.85" fill="#e34a34" stroke="#c0392b" stroke-width="0.2"/>
<circle cx="68.99" cy="253.28" r="0.85" fill="#e85c46" stroke="#c0392b" stroke-width="0.2"/>
<circle cx="79.21" cy="257.26" r="0.85" fill="#dc412c" stroke="#c0392b" stroke-width="0.2"/>
<circle cx="67.92" cy="243.72" r="0.85" fill="#dc412c" stroke="#c0392b" stroke-width="0.2"/>
<circle cx="69.96" cy="245.81" r="0.85" fill="#e34a34" stroke="#c0392b" stroke-width="0.2"/>
<circle cx="70.61" cy="258.86" r="0.85" fill="#e34a34" stroke="#c0392b" stroke-width="0.2"/>
<circle cx="75.62" cy="266.56" r="0.85" fill="#dc412c" stroke="#c0392b" stroke-width="0.2"/>
<circle cx="69.52" cy="255.35" r="0.85" fill="#e34a34" stroke="#c0392b" stroke-width="0.2"/>
<circle cx="82.81" cy="238.73" r="0.85" fill="#e34a34" stroke="#c0392b" stroke-width="0.2"/>
<circle cx="75.6" cy="258.84" r="0.85" fill="#e85c46" stroke="#c0392b" stroke-width="0.2"/>
<circle cx="84.29" cy="245.04" r="0.85" fill="#dc412c" stroke="#c0392b" stroke-width="0.2"/>
<circle cx="65.05" cy="242.47" r="0.85" fill="#e34a34" stroke="#c0392b" stroke-width="0.2"/>
<circle cx="84.09" cy="251.05" r="0.85" fill="#dc412c" stroke="#c0392b" stroke-width="0.2"/>
<circle cx="75.18" cy="253.64" r="0.85" fill="#e34a34" stroke="#c0392b" stroke-width="0.2"/>
<circle cx="74.94" cy="239.92" r="0.85" fill="#dc412c" stroke="#c0392b" stroke-width="0.2"/>
<circle cx="77.94" cy="245.06" r="0.85" fill="#e85c46" stroke="#c0392b" stroke-width="0.2"/>
<circle cx="74.02" cy="250.33" r="0.85" fill="#e34a34" stroke="#c0392b" stroke-width="0.2"/>
<circle cx="71.88" cy="251.82" r="0.85" fill="#e34a34" stroke="#c0392b" stroke-width="0.2"/>
<circle cx="76.85" cy="255.24" r="0.85" fill="#e85c46" stroke="#c0392b" stroke-width="0.2"/>
<circle cx="67.33" cy="233.56" r="0.85" fill="#e34a34" stroke="#c0392b" stroke-width="0.2"/>
<circle cx="69.5" cy="255.55" r="0.85" fill="#e85c46" stroke="#c0392b" stroke-width="0.2"/>
<circle cx="82.43" cy="258.28" r="0.85" fill="#dc412c" stroke="#c0392b" stroke-width="0.2"/>
<circle cx="85.05" cy="234.62" r="0.85" fill="#e85c46" stroke="#c0392b" stroke-width="0.2"/>
<circle cx="69.65" cy="248.62" r="0.85" fill="#e34a34" stroke="#c0392b" stroke-width="0.2"/>
<circle cx="80.33" cy="244.06" r="0.85" fill="#e85c46" stroke="#c0392b" stroke-width="0.2"/>
<circle cx="64.03" cy="248.85" r="0.85" fill="#e34a34" stroke="#c0392b" stroke-width="0.2"/>
<circle cx="81.43" cy="259.43" r="0.85" fill="#dc412c" stroke="#c0392b" stroke-width="0.2"/>
<circle cx="65.75" cy="231.02" r="0.85" fill="#e34a34" stroke="#c0392b" stroke-width="0.2"/>
<circle cx="66.06" cy="248.02" r="0.85" fill="#e34a34" stroke="#c0392b" stroke-width="0.2"/>
<circle cx="74.18" cy="267.53" r="0.85" fill="#e34a34" stroke="#c0392b" stroke-width="0.2"/>
<circle cx="76.44" cy="223.29" r="0.85" fill="#e85c46" stroke="#c0392b" stroke-width="0.2"/>
<circle cx="82.18" cy="255.57" r="0.85" fill="#dc412c" stroke="#c0392b" stroke-width="0.2"/>
<circle cx="72.84" cy="243.79" r="0.85" fill="#e34a34" stroke="#c0392b" stroke-width="0.2"/>
<circle cx="83.44" cy="268.52" r="0.85" fill="#dc412c" stroke="#c0392b" stroke-width="0.2"/>
<circle cx="68.42" cy="267.51" r="0.85" fill="#e85c46" stroke="#c0392b" stroke-width="0.2"/>
<circle cx="75.52" cy="261.33" r="0.85" fill="#dc412c" stroke="#c0392b" stroke-width="0.2"/>
<circle cx="81.64" cy="243.84" r="0.85" fill="#e34a34" stroke="#c0392b" stroke-width="0.2"/>
<circle cx="70.6" cy="249.17" r="0.85" fill="#dc412c" stroke="#c0392b" stroke-width="0.2"/>
<circle cx="70.48" cy="248.57" r="0.85" fill="#dc412c" stroke="#c0392b" stroke-width="0.2"/>
<circle cx="73.91" cy="254.26" r="0.85" fill="#e85c46" stroke="#c0392b" stroke-width="0.2"/>
<circle cx="78.57" cy="247.94" r="0.85" fill="#e34a34" stroke="#c0392b" stroke-width="0.2"/>
<circle cx="66.24" cy="240.06" r="0.85" fill="#e34a34" stroke="#c0392b" stroke-width="0.2"/>
<circle cx="84.5" cy="240.56" r="0.85" fill="#e85c46" stroke="#c0392b" stroke-width="0.2"/>
<circle cx="81.59" cy="257.75" r="0.85" fill="#dc412c" stroke="#c0392b" stroke-width="0.2"/>
<circle cx="72" cy="249.22" r="0.85" fill="#dc412c" stroke="#c0392b" stroke-width="0.2"/>
<circle cx="79.05" cy="248.77" r="0.85" fill="#e34a34" stroke="#c0392b" stroke-width="0.2"/>
<circle cx="73.71" cy="251.31" r="0.85" fill="#e85c46" stroke="#c0392b" stroke-width="0.2"/>
<circle cx="64.22" cy="264.33" r="0.85" fill="#e34a34" stroke="#c0392b" stroke-width="0.2"/>
<circle cx="68.38" cy="269.89" r="0.85" fill="#e34a34" stroke="#c0392b" stroke-width="0.2"/>
<circle cx="77.06" cy="249.16" r="0.85" fill="#dc412c" stroke="#c0392b" stroke-width="0.2"/>
<circle cx="75.44" cy="247.52" r="0.85" fill="#e34a34" stroke="#c0392b" stroke-width="0.2"/>
<circle cx="70.32" cy="260.54" r="0.85" fill="#e34a34" stroke="#c0392b" stroke-width="0.2"/>
<circle cx="78.13" cy="244.47" r="0.85" fill="#e85c46" stroke="#c0392b" stroke-width="0.2"/>
<circle cx="69.44" cy="259.56" r="0.85" fill="#dc412c" stroke="#c0392b" stroke-width="0.2"/>
<circle cx="70.98" cy="255.72" r="0.85" fill="#e34a34" stroke="#c0392b" stroke-width="0.2"/>
<circle cx="84.03" cy="267.16" r="0.85" fill="#e85c46" stroke="#c0392b" stroke-width="0.2"/>
<circle cx="71.03" cy="233.91" r="0.85" fill="#e85c46" stroke="#c0392b" stroke-width="0.2"/>
<circle cx="81.53" cy="243.42" r="0.85" fill="#e34a34" stroke="#c0392b" stroke-width="0.2"/>
<circle cx="66" cy="255.27" r="0.85" fill="#e34a34" stroke="#c0392b" stroke-width="0.2"/>
<circle cx="78.37" cy="253.52" r="0.85" fill="#e34a34" stroke="#c0392b" stroke-width="0.2"/>
<circle cx="72.53" cy="248.41" r="0.85" fill="#e34a34" stroke="#c0392b" stroke-width="0.2"/>
<circle cx="81.74" cy="243.51" r="0.85" fill="#dc412c" stroke="#c0392b" stroke-width="0.2"/>
<circle cx="68.8" cy="246.21" r="0.85" fill="#e34a34" stroke="#c0392b" stroke-width="0.2"/>
<circle cx="67.33" cy="247.57" r="0.85" fill="#e34a34" stroke="#c0392b" stroke-width="0.2"/>
<circle cx="65.54" cy="258.19" r="0.85" fill="#e85c46" stroke="#c0392b" stroke-width="0.2"/>
<circle cx="83.52" cy="258.11" r="0.85" fill="#dc412c" stroke="#c0392b" stroke-width="0.2"/>
<circle cx="77.72" cy="238.39" r="0.85" fill="#dc412c" stroke="#c0392b" stroke-width="0.2"/>
<circle cx="80.26" cy="256.03" r="0.85" fill="#e85c46" stroke="#c0392b" stroke-width="0.2"/>
<circle cx="71.03" cy="254.89" r="0.85" fill="#dc412c" stroke="#c0392b" stroke-width="0.2"/>
<circle cx="72.74" cy="240.4" r="0.85" fill="#e85c46" stroke="#c0392b" stroke-width="0.2"/>
<circle cx="78.84" cy="261.28" r="0.85" fill="#e34a34" stroke="#c0392b" stroke-width="0.2"/>
<circle cx="84.82" cy="251.28" r="0.85" fill="#e34a34" stroke="#c0392b" stroke-width="0.2"/>
<circle cx="76.9" cy="254.19" r="0.85" fill="#e85c46" stroke="#c0392b" stroke-width="0.2"/>
<circle cx="64.39" cy="234.54" r="0.85" fill="#e34a34" stroke="#c0392b" stroke-width="0.2"/>
<circle cx="77.8" cy="245.29" r="0.85" fill="#e85c46" stroke="#c0392b" stroke-width="0.2"/>
<circle cx="66.25" cy="258.99" r="0.85" fill="#e34a34" stroke="#c0392b" stroke-width="0.2"/>
<circle cx="80.72" cy="240.77" r="0.85" fill="#e34a34" stroke="#c0392b" stroke-width="0.2"/>
<circle cx="81.49" cy="259.33" r="0.85" fill="#dc412c" stroke="#c0392b" stroke-width="0.2"/>
<circle cx="80.25" cy="245.26" r="0.85" fill="#dc412c" stroke="#c0392b" stroke-width="0.2"/>
<circle cx="83.14" cy="246.04" r="0.85" fill="#e34a34" stroke="#c0392b" stroke-width="0.2"/>
<circle cx="74.61" cy="240.41" r="0.85" fill="#dc412c" stroke="#c0392b" stroke-width="0.2"/>
<circle cx="67.01" cy="247.14" r="0.85" fill="#e34a34" stroke="#c0392b" stroke-width="0.2"/>
<circle cx="74.94" cy="242.83" r="0.85" fill="#e34a34" stroke="#c0392b" stroke-width="0.2"/>
<circle cx="79.17" cy="218.7" r="0.85" fill="#e34a34" stroke="#c0392b" stroke-width="0.2"/>
<circle cx="84.03" cy="253.93" r="0.85" fill="#e85c46" stroke="#c0392b" stroke-width="0.2"/>
<circle cx="77.29" cy="243.94" r="0.85" fill="#e34a34" stroke="#c0392b" stroke-width="0.2"/>
<circle cx="69.19" cy="251.67" r="0.85" fill="#dc412c" stroke="#c0392b" stroke-width="0.2"/>
<circle cx="76.22" cy="254.54" r="0.85" fill="#e34a34" stroke="#c0392b" stroke-width="0.2"/>
<circle cx="83.7" cy="246.99" r="0.85" fill="#dc412c" stroke="#c0392b" stroke-width="0.2"/>
<circle cx="71.66" cy="240.91" r="0.85" fill="#e85c46" stroke="#c0392b" stroke-width="0.2"/>
<circle cx="84.64" cy="244.69" r="0.85" fill="#e34a34" stroke="#c0392b" stroke-width="0.2"/>
<circle cx="66.87" cy="251.5" r="0.85" fill="#e34a34" stroke="#c0392b" stroke-width="0.2"/>
<circle cx="75.89" cy="261.55" r="0.85" fill="#dc412c" stroke="#c0392b" stroke-width="0.2"/>
<circle cx="75.88" cy="242.39" r="0.85" fill="#e34a34" stroke="#c0392b" stroke-width="0.2"/>
<circle cx="85.03" cy="248.03" r="0.85" fill="#e34a34" stroke="#c0392b" stroke-width="0.2"/>
<circle cx="81.33" cy="274.2" r="0.85" fill="#e34a34" stroke="#c0392b" stroke-width="0.2"/>
<circle cx="81.48" cy="245.68" r="0.85" fill="#e34a34" stroke="#c0392b" stroke-width="0.2"/>
<circle cx="70.12" cy="246.85" r="0.85" fill="#dc412c" stroke="#c0392b" stroke-width="0.2"/>
<circle cx="76.16" cy="256.72" r="0.85" fill="#e34a34" stroke="#c0392b" stroke-width="0.2"/>
<circle cx="81.61" cy="245.28" r="0.85" fill="#e34a34" stroke="#c0392b" stroke-width="0.2"/>
<circle cx="65.62" cy="255.66" r="0.85" fill="#e85c46" stroke="#c0392b" stroke-width="0.2"/>
<circle cx="64.68" cy="262.94" r="0.85" fill="#e85c46" stroke="#c0392b" stroke-width="0.2"/>
<circle cx="83.92" cy="263.99" r="0.85" fill="#dc412c" stroke="#c0392b" stroke-width="0.2"/>
<circle cx="78.23" cy="245.06" r="0.85" fill="#e34a34" stroke="#c0392b" stroke-width="0.2"/>
<circle cx="79.64" cy="242.29" r="0.85" fill="#dc412c" stroke="#c0392b" stroke-width="0.2"/>
<circle cx="81.04" cy="239.36" r="0.85" fill="#dc412c" stroke="#c0392b" stroke-width="0.2"/>
<circle cx="64.35" cy="260.17" r="0.85" fill="#dc412c" stroke="#c0392b" stroke-width="0.2"/>
<circle cx="67.03" cy="254.05" r="0.85" fill="#e34a34" stroke="#c0392b" stroke-width="0.2"/>
<circle cx="72.19" cy="261.94" r="0.85" fill="#dc412c" stroke="#c0392b" stroke-width="0.2"/>
<circle cx="75.02" cy="244.04" r="0.85" fill="#dc412c" stroke="#c0392b" stroke-width="0.2"/>
<circle cx="69.59" cy="247.33" r="0.85" fill="#dc412c" stroke="#c0392b" stroke-width="0.2"/>
<circle cx="77.6" cy="241.21" r="0.85" fill="#e34a34" stroke="#c0392b" stroke-width="0.2"/>
<circle cx="64.8" cy="246.1" r="0.85" fill="#dc412c" stroke="#c0392b" stroke-width="0.2"/>
<circle cx="84.34" cy="247.27" r="0.85" fill="#e34a34" stroke="#c0392b" stroke-width="0.2"/>
<circle cx="76.72" cy="244.79" r="0.85" fill="#dc412c" stroke="#c0392b" stroke-width="0.2"/>
<circle cx="77.22" cy="239.08" r="0.85" fill="#dc412c" stroke="#c0392b" stroke-width="0.2"/>
<circle cx="78.61" cy="252.33" r="0.85" fill="#e85c46" stroke="#c0392b" stroke-width="0.2"/>
<circle cx="74.3" cy="251.13" r="0.85" fill="#e85c46" stroke="#c0392b" stroke-width="0.2"/>
<circle cx="85.09" cy="231.86" r="0.85" fill="#e85c46" stroke="#c0392b" stroke-width="0.2"/>
<circle cx="72.67" cy="261.58" r="0.85" fill="#e34a34" stroke="#c0392b" stroke-width="0.2"/>
<circle cx="73.2" cy="231.82" r="0.85" fill="#e85c46" stroke="#c0392b" stroke-width="0.2"/>
<circle cx="75.15" cy="228.34" r="0.85" fill="#dc412c" stroke="#c0392b" stroke-width="0.2"/>
<circle cx="75.13" cy="240.58" r="0.85" fill="#e85c46" stroke="#c0392b" stroke-width="0.2"/>
<circle cx="70.8" cy="228.5" r="0.85" fill="#e85c46" stroke="#c0392b" stroke-width="0.2"/>
<circle cx="65.16" cy="260.04" r="0.85" fill="#dc412c" stroke="#c0392b" stroke-width="0.2"/>
<circle cx="79.52" cy="246.59" r="0.85" fill="#e34a34" stroke="#c0392b" stroke-width="0.2"/>
<circle cx="76.67" cy="226.86" r="0.85" fill="#e85c46" stroke="#c0392b" stroke-width="0.2"/>
<circle cx="76.58" cy="250.31" r="0.85" fill="#e85c46" stroke="#c0392b" stroke-width="0.2"/>
<circle cx="65.48" cy="240.82" r="0.85" fill="#dc412c" stroke="#c0392b" stroke-width="0.2"/>
<circle cx="74.66" cy="258.7" r="0.85" fill="#dc412c" stroke="#c0392b" stroke-width="0.2"/>
<circle cx="72.41" cy="258.64" r="0.85" fill="#e85c46" stroke="#c0392b" stroke-width="0.2"/>
<circle cx="75.16" cy="266.25" r="0.85" fill="#e34a34" stroke="#c0392b" stroke-width="0.2"/>
<circle cx="69.07" cy="255.64" r="0.85" fill="#e34a34" stroke="#c0392b" stroke-width="0.2"/>
<circle cx="69" cy="246.38" r="0.85" fill="#e34a34" stroke="#c0392b" stroke-width="0.2"/>
<circle cx="65.45" cy="260.55" r="0.85" fill="#e34a34" stroke="#c0392b" stroke-width="0.2"/>
<circle cx="78.11" cy="274.53" r="0.85" fill="#e34a34" stroke="#c0392b" stroke-width="0.2"/>
<circle cx="82.37" cy="235.04" r="0.85" fill="#e34a34" stroke="#c0392b" stroke-width="0.2"/>
<circle cx="68.7" cy="232.68" r="0.85" fill="#e34a34" stroke="#c0392b" stroke-width="0.2"/>
<circle cx="79.83" cy="259.63" r="0.85" fill="#dc412c" stroke="#c0392b" stroke-width="0.2"/>
<circle cx="66.09" cy="228.48" r="0.85" fill="#e85c46" stroke="#c0392b" stroke-width="0.2"/>
<circle cx="80.8" cy="240.51" r="0.85" fill="#e34a34" stroke="#c0392b" stroke-width="0.2"/>
<circle cx="84.16" cy="259.93" r="0.85" fill="#e85c46" stroke="#c0392b" stroke-width="0.2"/>
<circle cx="64.01" cy="259.79" r="0.85" fill="#dc412c" stroke="#c0392b" stroke-width="0.2"/>
<circle cx="70.89" cy="250.55" r="0.85" fill="#e34a34" stroke="#c0392b" stroke-width="0.2"/>
<circle cx="65.33" cy="259.47" r="0.85" fill="#e34a34" stroke="#c0392b" stroke-width="0.2"/>
<circle cx="72.42" cy="266.19" r="0.85" fill="#dc412c" stroke="#c0392b" stroke-width="0.2"/>
<circle cx="71.56" cy="237.82" r="0.85" fill="#e34a34" stroke="#c0392b" stroke-width="0.2"/>
<circle cx="64.66" cy="247.3" r="0.85" fill="#e34a34" stroke="#c0392b" stroke-width="0.2"/>
<circle cx="83.05" cy="248.47" r="0.85" fill="#e85c46" stroke="#c0392b" stroke-width="0.2"/>
<circle cx="83.8" cy="245.61" r="0.85" fill="#e34a34" stroke="#c0392b" stroke-width="0.2"/>
<circle cx="84.72" cy="262.28" r="0.85" fill="#e34a34" stroke="#c0392b" stroke-width="0.2"/>
<circle cx="70.26" cy="242.83" r="0.85" fill="#e85c46" stroke="#c0392b" stroke-width="0.2"/>
<circle cx="83.56" cy="251.48" r="0.85" fill="#dc412c" stroke="#c0392b" stroke-width="0.2"/>
<circle cx="81.76" cy="255.98" r="0.85" fill="#e34a34" stroke="#c0392b" stroke-width="0.2"/>
<circle cx="71.51" cy="245.82" r="0.85" fill="#e34a34" stroke="#c0392b" stroke-width="0.2"/>
<circle cx="82.65" cy="243.54" r="0.85" fill="#dc412c" stroke="#c0392b" stroke-width="0.2"/>
<circle cx="85.1" cy="251.36" r="0.85" fill="#e85c46" stroke="#c0392b" stroke-width="0.2"/>
<circle cx="68.06" cy="254.82" r="0.85" fill="#dc412c" stroke="#c0392b" stroke-width="0.2"/>
<circle cx="82.66" cy="265.06" r="0.85" fill="#e34a34" stroke="#c0392b" stroke-width="0.2"/>
<circle cx="79.39" cy="255.15" r="0.85" fill="#e85c46" stroke="#c0392b" stroke-width="0.2"/>
<circle cx="70.64" cy="251.81" r="0.85" fill="#e34a34" stroke="#c0392b" stroke-width="0.2"/>
<circle cx="79.12" cy="268.19" r="0.85" fill="#e34a34" stroke="#c0392b" stroke-width="0.2"/>
<circle cx="66.86" cy="237.18" r="0.85" fill="#e85c46" stroke="#c0392b" stroke-width="0.2"/>
<circle cx="73.44" cy="241.56" r="0.85" fill="#dc412c" stroke="#c0392b" stroke-width="0.2"/>
<circle cx="65.67" cy="225.75" r="0.85" fill="#e34a34" stroke="#c0392b" stroke-width="0.2"/>
<circle cx="79.06" cy="251.78" r="0.85" fill="#e34a34" stroke="#c0392b" stroke-width="0.2"/>
<circle cx="68.17" cy="259.49" r="0.85" fill="#e34a34" stroke="#c0392b" stroke-width="0.2"/>
<circle cx="78.09" cy="253.59" r="0.85" fill="#e34a34" stroke="#c0392b" stroke-width="0.2"/>
<circle cx="80.76" cy="257.51" r="0.85" fill="#e34a34" stroke="#c0392b" stroke-width="0.2"/>
<circle cx="82.75" cy="238.92" r="0.85" fill="#e34a34" stroke="#c0392b" stroke-width="0.2"/>
<circle cx="76.51" cy="261.83" r="0.85" fill="#e34a34" stroke="#c0392b" stroke-width="0.2"/>
<circle cx="83.65" cy="251.42" r="0.85" fill="#e34a34" stroke="#c0392b" stroke-width="0.2"/>
<circle cx="78.14" cy="259.43" r="0.85" fill="#e34a34" stroke="#c0392b" stroke-width="0.2"/>
<circle cx="65.91" cy="247.56" r="0.85" fill="#e85c46" stroke="#c0392b" stroke-width="0.2"/>
<circle cx="84.84" cy="265.7" r="0.85" fill="#e34a34" stroke="#c0392b" stroke-width="0.2"/>
<circle cx="75.25" cy="237.65" r="0.85" fill="#e34a34" stroke="#c0392b" stroke-width="0.2"/>
<circle cx="64.96" cy="255.14" r="0.85" fill="#e34a34" stroke="#c0392b" stroke-width="0.2"/>
<circle cx="69.32" cy="242.91" r="0.85" fill="#e34a34" stroke="#c0392b" stroke-width="0.2"/>
<circle cx="81.03" cy="244.92" r="0.85" fill="#e34a34" stroke="#c0392b" stroke-width="0.2"/>
<circle cx="80.02" cy="257.89" r="0.85" fill="#dc412c" stroke="#c0392b" stroke-width="0.2"/>
<circle cx="69.21" cy="254.89" r="0.85" fill="#e34a34" stroke="#c0392b" stroke-width="0.2"/>
<circle cx="67.95" cy="247.68" r="0.85" fill="#e34a34" stroke="#c0392b" stroke-width="0.2"/>
<circle cx="83.02" cy="263.83" r="0.85" fill="#dc412c" stroke="#c0392b" stroke-width="0.2"/>
<circle cx="73.79" cy="253.07" r="0.85" fill="#e85c46" stroke="#c0392b" stroke-width="0.2"/>
<circle cx="79.91" cy="249.98" r="0.85" fill="#e34a34" stroke="#c0392b" stroke-width="0.2"/>
<circle cx="74.6" cy="231.24" r="0.85" fill="#dc412c" stroke="#c0392b" stroke-width="0.2"/>
<circle cx="67.81" cy="266.98" r="0.85" fill="#dc412c" stroke="#c0392b" stroke-width="0.2"/>
<circle cx="71.62" cy="235.34" r="0.85" fill="#dc412c" stroke="#c0392b" stroke-width="0.2"/>
<circle cx="77.96" cy="244.74" r="0.85" fill="#e85c46" stroke="#c0392b" stroke-width="0.2"/>
<circle cx="74.72" cy="252.93" r="0.85" fill="#e34a34" stroke="#c0392b" stroke-width="0.2"/>
<circle cx="81.92" cy="237.22" r="0.85" fill="#e34a34" stroke="#c0392b" stroke-width="0.2"/>
<circle cx="84.17" cy="244.85" r="0.85" fill="#e34a34" stroke="#c0392b" stroke-width="0.2"/>
<circle cx="67.69" cy="237.98" r="0.85" fill="#e85c46" stroke="#c0392b" stroke-width="0.2"/>
<circle cx="76.89" cy="251.42" r="0.85" fill="#e34a34" stroke="#c0392b" stroke-width="0.2"/>
<circle cx="68.99" cy="243.7" r="0.85" fill="#e34a34" stroke="#c0392b" stroke-width="0.2"/>
<circle cx="80.68" cy="232.57" r="0.85" fill="#e85c46" stroke="#c0392b" stroke-width="0.2"/>
<circle cx="80.77" cy="257.13" r="0.85" fill="#e85c46" stroke="#c0392b" stroke-width="0.2"/>
<circle cx="68.69" cy="251.32" r="0.85" fill="#e85c46" stroke="#c0392b" stroke-width="0.2"/>
<circle cx="76.3" cy="262.9" r="0.85" fill="#e34a34" stroke="#c0392b" stroke-width="0.2"/>
<circle cx="76.65" cy="247.25" r="0.85" fill="#e34a34" stroke="#c0392b" stroke-width="0.2"/>
<circle cx="79.15" cy="250.22" r="0.85" fill="#dc412c" stroke="#c0392b" stroke-width="0.2"/>
<circle cx="67.82" cy="230.15" r="0.85" fill="#dc412c" stroke="#c0392b" stroke-width="0.2"/>
<circle cx="67.22" cy="240.35" r="0.85" fill="#e34a34" stroke="#c0392b" stroke-width="0.2"/>
<circle cx="73.21" cy="263" r="0.85" fill="#e85c46" stroke="#c0392b" stroke-width="0.2"/>
<circle cx="73.36" cy="251.64" r="0.85" fill="#e34a34" stroke="#c0392b" stroke-width="0.2"/>
<circle cx="65.54" cy="248.6" r="0.85" fill="#dc412c" stroke="#c0392b" stroke-width="0.2"/>
<circle cx="83.23" cy="269.82" r="0.85" fill="#dc412c" stroke="#c0392b" stroke-width="0.2"/>
<circle cx="80.78" cy="237.7" r="0.85" fill="#dc412c" stroke="#c0392b" stroke-width="0.2"/>
<circle cx="69.05" cy="244.42" r="0.85" fill="#e34a34" stroke="#c0392b" stroke-width="0.2"/>
<circle cx="64.9" cy="255.96" r="0.85" fill="#e85c46" stroke="#c0392b" stroke-width="0.2"/>
<circle cx="70.66" cy="257.75" r="0.85" fill="#e34a34" stroke="#c0392b" stroke-width="0.2"/>
<circle cx="69.61" cy="240.48" r="0.85" fill="#e34a34" stroke="#c0392b" stroke-width="0.2"/>
<circle cx="76.48" cy="240.93" r="0.85" fill="#e85c46" stroke="#c0392b" stroke-width="0.2"/>
<circle cx="67.64" cy="267.52" r="0.85" fill="#e34a34" stroke="#c0392b" stroke-width="0.2"/>
<circle cx="69.4" cy="260.96" r="0.85" fill="#dc412c" stroke="#c0392b" stroke-width="0.2"/>
<circle cx="81.62" cy="259.25" r="0.85" fill="#e85c46" stroke="#c0392b" stroke-width="0.2"/>
<circle cx="80.68" cy="264.42" r="0.85" fill="#e34a34" stroke="#c0392b" stroke-width="0.2"/>
<circle cx="71.73" cy="260.69" r="0.85" fill="#e34a34" stroke="#c0392b" stroke-width="0.2"/>
<circle cx="68.59" cy="254.44" r="0.85" fill="#e34a34" stroke="#c0392b" stroke-width="0.2"/>
<circle cx="74.38" cy="253.37" r="0.85" fill="#e34a34" stroke="#c0392b" stroke-width="0.2"/>
<circle cx="74.2" cy="202.2" r="0.85" fill="#e85c46" stroke="#c0392b" stroke-width="0.2"/>
<circle cx="78.6" cy="203.5" r="0.85" fill="#e34a34" stroke="#c0392b" stroke-width="0.2"/>
<circle cx="66" cy="213.5" r="0.85" fill="#e34a34" stroke="#c0392b" stroke-width="0.2"/>
<circle cx="72" cy="210" r="0.85" fill="#e34a34" stroke="#c0392b" stroke-width="0.2"/>
<circle cx="80" cy="211" r="0.85" fill="#e34a34" stroke="#c0392b" stroke-width="0.2"/>
<circle cx="68" cy="217" r="0.85" fill="#e85c46" stroke="#c0392b" stroke-width="0.2"/>
<circle cx="77" cy="219" r="0.85" fill="#dc412c" stroke="#c0392b" stroke-width="0.2"/>
<circle cx="68.49" cy="242.35" r="0.5" fill="#fff" opacity="0.75"/>
<circle cx="82.75" cy="263.48" r="0.5" fill="#fff" opacity="0.75"/>
<circle cx="69.27" cy="240.81" r="0.5" fill="#fff" opacity="0.75"/>
<circle cx="73" cy="251.89" r="0.5" fill="#fff" opacity="0.75"/>
<circle cx="65.69" cy="254.18" r="0.5" fill="#fff" opacity="0.75"/>
<circle cx="73.95" cy="247.63" r="0.5" fill="#fff" opacity="0.75"/>
<circle cx="66.78" cy="253.07" r="0.5" fill="#fff" opacity="0.75"/>
<circle cx="75.21" cy="241.76" r="0.5" fill="#fff" opacity="0.75"/>
<circle cx="83.28" cy="263.99" r="0.5" fill="#fff" opacity="0.75"/>
<circle cx="75.74" cy="264.81" r="0.5" fill="#fff" opacity="0.75"/>
<circle cx="72.29" cy="258.76" r="0.5" fill="#fff" opacity="0.75"/>
<circle cx="78.4" cy="259.72" r="0.5" fill="#fff" opacity="0.75"/>
<circle cx="83.07" cy="253.38" r="0.5" fill="#fff" opacity="0.75"/>
<circle cx="69.06" cy="238.13" r="0.5" fill="#fff" opacity="0.75"/>
<circle cx="79.66" cy="236.83" r="0.5" fill="#fff" opacity="0.75"/>
<circle cx="76.13" cy="232.41" r="0.5" fill="#fff" opacity="0.75"/>
<circle cx="70.39" cy="239.79" r="0.5" fill="#fff" opacity="0.75"/>
<circle cx="71.64" cy="252.18" r="0.5" fill="#fff" opacity="0.75"/>
<circle cx="70.94" cy="231.27" r="0.5" fill="#fff" opacity="0.75"/>
<circle cx="66.41" cy="237.99" r="0.5" fill="#fff" opacity="0.75"/>
<circle cx="78.74" cy="260.6" r="0.5" fill="#fff" opacity="0.75"/>
<circle cx="79.73" cy="237.81" r="0.5" fill="#fff" opacity="0.75"/>
<circle cx="66.46" cy="240.04" r="0.5" fill="#fff" opacity="0.75"/>
<circle cx="72.22" cy="251.83" r="0.5" fill="#fff" opacity="0.75"/>
<circle cx="70.41" cy="235.55" r="0.5" fill="#fff" opacity="0.75"/>
<circle cx="67.45" cy="234.23" r="0.5" fill="#fff" opacity="0.75"/>
<circle cx="74.86" cy="245.21" r="0.5" fill="#fff" opacity="0.75"/>
<circle cx="74.46" cy="235" r="0.5" fill="#fff" opacity="0.75"/>
<line x1="68.5" y1="250.4" x2="80" y2="250.4" stroke="#6e0d0d" stroke-width="0.8" />
<line x1="74.6" y1="231" x2="74.6" y2="265.8" stroke="#6e0d0d" stroke-width="0.8" />
<line x1="34" y1="260.4" x2="45.6" y2="260.4" stroke="#124a57" stroke-width="0.8" />
<line x1="40.4" y1="252" x2="40.4" y2="269.6" stroke="#124a57" stroke-width="0.8" />
<line x1="19.5" y1="302.7" x2="19.5" y2="386.9" stroke="#222" stroke-width="0.6" />
<line x1="19.5" y1="386.6" x2="94.6" y2="386.6" stroke="#222" stroke-width="0.6" />
<line x1="18" y1="386.6" x2="19.5" y2="386.6" stroke="#222" stroke-width="0.5" />
<text x="16.6" y="387.9" font-size="3.8" text-anchor="end" font-weight="normal" fill="#333" >0</text>
<line x1="18" y1="364.1" x2="19.5" y2="364.1" stroke="#222" stroke-width="0.5" />
<text x="16.6" y="365.4" font-size="3.8" text-anchor="end" font-weight="normal" fill="#333" >2</text>
<line x1="18" y1="341.6" x2="19.5" y2="341.6" stroke="#222" stroke-width="0.5" />
<text x="16.6" y="342.9" font-size="3.8" text-anchor="end" font-weight="normal" fill="#333" >4</text>
<line x1="18" y1="319.1" x2="19.5" y2="319.1" stroke="#222" stroke-width="0.5" />
<text x="16.6" y="320.4" font-size="3.8" text-anchor="end" font-weight="normal" fill="#333" >6</text>
<line x1="40.6" y1="386.6" x2="40.6" y2="388" stroke="#222" stroke-width="0.5" />
<line x1="74.6" y1="386.6" x2="74.6" y2="388" stroke="#222" stroke-width="0.5" />
<text x="40.6" y="392.8" font-size="4.1" text-anchor="middle" font-weight="normal" fill="#333" >Normal</text>
<text x="74.6" y="392.8" font-size="4.1" text-anchor="middle" font-weight="normal" fill="#333" >Tumor</text>
<text x="57.9" y="300.9" font-size="6.4" text-anchor="middle" font-weight="normal" fill="#222" >LUSC</text>
<text x="0.5" y="300.6" font-size="6.8" text-anchor="start" font-weight="bold" fill="#111" >I</text>
<text transform="translate(6.3,344.65) rotate(-90)" font-size="4.45" text-anchor="middle" fill="#333">The expression of MDFI</text>
<text transform="translate(10.6,341.65) rotate(-90)" font-size="4.45" text-anchor="middle" fill="#333">Log<tspan font-size="3.1" dy="0.9">2</tspan><tspan dy="-0.9"> (TPM+1)</tspan></text>
<path d="M39.7,308.5 V306.6 H74.7 V308.5" fill="none" stroke="#333" stroke-width="0.7"/>
<text x="57" y="306" font-size="3.2" text-anchor="middle" font-weight="normal" fill="#444" >***</text>
<circle cx="40.32" cy="372.5" r="0.85" fill="#31a8c0" stroke="#237f92" stroke-width="0.3"/>
<circle cx="40.79" cy="355.74" r="0.85" fill="#31a8c0" stroke="#237f92" stroke-width="0.3"/>
<circle cx="36.32" cy="358.8" r="0.85" fill="#31a8c0" stroke="#237f92" stroke-width="0.3"/>
<circle cx="36.78" cy="360.98" r="0.85" fill="#31a8c0" stroke="#237f92" stroke-width="0.3"/>
<circle cx="42.15" cy="363.68" r="0.85" fill="#31a8c0" stroke="#237f92" stroke-width="0.3"/>
<circle cx="43.51" cy="361.84" r="0.85" fill="#31a8c0" stroke="#237f92" stroke-width="0.3"/>
<circle cx="44.98" cy="360.37" r="0.85" fill="#31a8c0" stroke="#237f92" stroke-width="0.3"/>
<circle cx="43.89" cy="362.89" r="0.85" fill="#31a8c0" stroke="#237f92" stroke-width="0.3"/>
<circle cx="42.11" cy="366.35" r="0.85" fill="#31a8c0" stroke="#237f92" stroke-width="0.3"/>
<circle cx="43.34" cy="360.6" r="0.85" fill="#31a8c0" stroke="#237f92" stroke-width="0.3"/>
<circle cx="42.86" cy="360.63" r="0.85" fill="#31a8c0" stroke="#237f92" stroke-width="0.3"/>
<circle cx="41.05" cy="363.52" r="0.85" fill="#31a8c0" stroke="#237f92" stroke-width="0.3"/>
<circle cx="34.73" cy="359.44" r="0.85" fill="#31a8c0" stroke="#237f92" stroke-width="0.3"/>
<circle cx="40.74" cy="358.93" r="0.85" fill="#31a8c0" stroke="#237f92" stroke-width="0.3"/>
<circle cx="32.52" cy="363.28" r="0.85" fill="#31a8c0" stroke="#237f92" stroke-width="0.3"/>
<circle cx="45.24" cy="363.06" r="0.85" fill="#31a8c0" stroke="#237f92" stroke-width="0.3"/>
<circle cx="35.81" cy="359.07" r="0.85" fill="#31a8c0" stroke="#237f92" stroke-width="0.3"/>
<circle cx="44.45" cy="365.87" r="0.85" fill="#31a8c0" stroke="#237f92" stroke-width="0.3"/>
<circle cx="46.38" cy="361.37" r="0.85" fill="#31a8c0" stroke="#237f92" stroke-width="0.3"/>
<circle cx="41.38" cy="363.97" r="0.85" fill="#31a8c0" stroke="#237f92" stroke-width="0.3"/>
<circle cx="46.94" cy="350.32" r="0.85" fill="#31a8c0" stroke="#237f92" stroke-width="0.3"/>
<circle cx="42.28" cy="358.22" r="0.85" fill="#31a8c0" stroke="#237f92" stroke-width="0.3"/>
<circle cx="38.63" cy="366.57" r="0.85" fill="#31a8c0" stroke="#237f92" stroke-width="0.3"/>
<circle cx="48.39" cy="363.36" r="0.85" fill="#31a8c0" stroke="#237f92" stroke-width="0.3"/>
<circle cx="46.81" cy="365.79" r="0.85" fill="#31a8c0" stroke="#237f92" stroke-width="0.3"/>
<circle cx="41.72" cy="350" r="0.85" fill="#31a8c0" stroke="#237f92" stroke-width="0.3"/>
<circle cx="31.99" cy="366.49" r="0.85" fill="#31a8c0" stroke="#237f92" stroke-width="0.3"/>
<circle cx="36.63" cy="360.69" r="0.85" fill="#31a8c0" stroke="#237f92" stroke-width="0.3"/>
<circle cx="32.58" cy="372.5" r="0.85" fill="#31a8c0" stroke="#237f92" stroke-width="0.3"/>
<circle cx="37.05" cy="356.33" r="0.85" fill="#31a8c0" stroke="#237f92" stroke-width="0.3"/>
<circle cx="36.77" cy="352.34" r="0.85" fill="#31a8c0" stroke="#237f92" stroke-width="0.3"/>
<circle cx="44.67" cy="358.92" r="0.85" fill="#31a8c0" stroke="#237f92" stroke-width="0.3"/>
<circle cx="48.95" cy="355.46" r="0.85" fill="#31a8c0" stroke="#237f92" stroke-width="0.3"/>
<circle cx="41.78" cy="370.67" r="0.85" fill="#31a8c0" stroke="#237f92" stroke-width="0.3"/>
<circle cx="39.16" cy="358.07" r="0.85" fill="#31a8c0" stroke="#237f92" stroke-width="0.3"/>
<circle cx="37.12" cy="352.33" r="0.85" fill="#31a8c0" stroke="#237f92" stroke-width="0.3"/>
<circle cx="45.03" cy="362.4" r="0.85" fill="#31a8c0" stroke="#237f92" stroke-width="0.3"/>
<circle cx="37.53" cy="354.92" r="0.85" fill="#31a8c0" stroke="#237f92" stroke-width="0.3"/>
<circle cx="41.59" cy="358.2" r="0.85" fill="#31a8c0" stroke="#237f92" stroke-width="0.3"/>
<circle cx="40.95" cy="367.28" r="0.85" fill="#31a8c0" stroke="#237f92" stroke-width="0.3"/>
<circle cx="38.2" cy="355.49" r="0.85" fill="#31a8c0" stroke="#237f92" stroke-width="0.3"/>
<circle cx="39.66" cy="359.03" r="0.85" fill="#31a8c0" stroke="#237f92" stroke-width="0.3"/>
<circle cx="42.52" cy="361.41" r="0.85" fill="#31a8c0" stroke="#237f92" stroke-width="0.3"/>
<circle cx="40.71" cy="361.05" r="0.85" fill="#31a8c0" stroke="#237f92" stroke-width="0.3"/>
<circle cx="36.15" cy="363.76" r="0.85" fill="#31a8c0" stroke="#237f92" stroke-width="0.3"/>
<circle cx="34.76" cy="369.03" r="0.85" fill="#31a8c0" stroke="#237f92" stroke-width="0.3"/>
<circle cx="43.29" cy="359.65" r="0.85" fill="#31a8c0" stroke="#237f92" stroke-width="0.3"/>
<circle cx="41.57" cy="355.85" r="0.85" fill="#31a8c0" stroke="#237f92" stroke-width="0.3"/>
<circle cx="40.16" cy="358.21" r="0.85" fill="#31a8c0" stroke="#237f92" stroke-width="0.3"/>
<circle cx="36.9" cy="379" r="0.85" fill="#31a8c0" stroke="#237f92" stroke-width="0.3"/>
<path d="M64.4,359 V328 Q64.6,323 74.6,323 Q84.6,323 84.8,328 V359 Z" fill="#e65842"/>
<circle cx="82.31" cy="371.12" r="0.85" fill="#e85c46" stroke="#c0392b" stroke-width="0.2"/>
<circle cx="78.28" cy="319.98" r="0.85" fill="#e85c46" stroke="#c0392b" stroke-width="0.2"/>
<circle cx="76.83" cy="342.83" r="0.85" fill="#e34a34" stroke="#c0392b" stroke-width="0.2"/>
<circle cx="71.41" cy="339.55" r="0.85" fill="#e85c46" stroke="#c0392b" stroke-width="0.2"/>
<circle cx="70.41" cy="354.37" r="0.85" fill="#e85c46" stroke="#c0392b" stroke-width="0.2"/>
<circle cx="72.22" cy="354.88" r="0.85" fill="#e34a34" stroke="#c0392b" stroke-width="0.2"/>
<circle cx="72.89" cy="339.52" r="0.85" fill="#e85c46" stroke="#c0392b" stroke-width="0.2"/>
<circle cx="75.74" cy="348.97" r="0.85" fill="#dc412c" stroke="#c0392b" stroke-width="0.2"/>
<circle cx="69.42" cy="328.96" r="0.85" fill="#e34a34" stroke="#c0392b" stroke-width="0.2"/>
<circle cx="68.61" cy="341.51" r="0.85" fill="#dc412c" stroke="#c0392b" stroke-width="0.2"/>
<circle cx="69.59" cy="348.45" r="0.85" fill="#e34a34" stroke="#c0392b" stroke-width="0.2"/>
<circle cx="66.34" cy="352.41" r="0.85" fill="#e34a34" stroke="#c0392b" stroke-width="0.2"/>
<circle cx="73.81" cy="330.2" r="0.85" fill="#e85c46" stroke="#c0392b" stroke-width="0.2"/>
<circle cx="73.37" cy="355.61" r="0.85" fill="#dc412c" stroke="#c0392b" stroke-width="0.2"/>
<circle cx="82.2" cy="354.96" r="0.85" fill="#e34a34" stroke="#c0392b" stroke-width="0.2"/>
<circle cx="69.25" cy="341.02" r="0.85" fill="#e34a34" stroke="#c0392b" stroke-width="0.2"/>
<circle cx="84.83" cy="369.77" r="0.85" fill="#dc412c" stroke="#c0392b" stroke-width="0.2"/>
<circle cx="81.11" cy="339.95" r="0.85" fill="#dc412c" stroke="#c0392b" stroke-width="0.2"/>
<circle cx="69.84" cy="339.63" r="0.85" fill="#e34a34" stroke="#c0392b" stroke-width="0.2"/>
<circle cx="81.75" cy="337.76" r="0.85" fill="#e85c46" stroke="#c0392b" stroke-width="0.2"/>
<circle cx="65.92" cy="348.5" r="0.85" fill="#e85c46" stroke="#c0392b" stroke-width="0.2"/>
<circle cx="78.4" cy="341.54" r="0.85" fill="#e85c46" stroke="#c0392b" stroke-width="0.2"/>
<circle cx="70.21" cy="329.49" r="0.85" fill="#dc412c" stroke="#c0392b" stroke-width="0.2"/>
<circle cx="77.88" cy="369.91" r="0.85" fill="#dc412c" stroke="#c0392b" stroke-width="0.2"/>
<circle cx="67.6" cy="357.19" r="0.85" fill="#e34a34" stroke="#c0392b" stroke-width="0.2"/>
<circle cx="67.87" cy="373.01" r="0.85" fill="#e34a34" stroke="#c0392b" stroke-width="0.2"/>
<circle cx="64.4" cy="338.23" r="0.85" fill="#e34a34" stroke="#c0392b" stroke-width="0.2"/>
<circle cx="79.52" cy="337.05" r="0.85" fill="#e34a34" stroke="#c0392b" stroke-width="0.2"/>
<circle cx="73.94" cy="337.93" r="0.85" fill="#dc412c" stroke="#c0392b" stroke-width="0.2"/>
<circle cx="80.34" cy="338.2" r="0.85" fill="#e34a34" stroke="#c0392b" stroke-width="0.2"/>
<circle cx="81.42" cy="326.17" r="0.85" fill="#e34a34" stroke="#c0392b" stroke-width="0.2"/>
<circle cx="70.93" cy="328.62" r="0.85" fill="#e34a34" stroke="#c0392b" stroke-width="0.2"/>
<circle cx="66.84" cy="332.02" r="0.85" fill="#e34a34" stroke="#c0392b" stroke-width="0.2"/>
<circle cx="68.37" cy="365.58" r="0.85" fill="#dc412c" stroke="#c0392b" stroke-width="0.2"/>
<circle cx="73.04" cy="357.66" r="0.85" fill="#e34a34" stroke="#c0392b" stroke-width="0.2"/>
<circle cx="75.31" cy="335.14" r="0.85" fill="#e34a34" stroke="#c0392b" stroke-width="0.2"/>
<circle cx="82.21" cy="360.28" r="0.85" fill="#e34a34" stroke="#c0392b" stroke-width="0.2"/>
<circle cx="77.81" cy="331.16" r="0.85" fill="#e34a34" stroke="#c0392b" stroke-width="0.2"/>
<circle cx="79.79" cy="347.69" r="0.85" fill="#e34a34" stroke="#c0392b" stroke-width="0.2"/>
<circle cx="82.79" cy="353.3" r="0.85" fill="#dc412c" stroke="#c0392b" stroke-width="0.2"/>
<circle cx="84.81" cy="337.43" r="0.85" fill="#e34a34" stroke="#c0392b" stroke-width="0.2"/>
<circle cx="72.06" cy="349.82" r="0.85" fill="#e34a34" stroke="#c0392b" stroke-width="0.2"/>
<circle cx="80.41" cy="341.74" r="0.85" fill="#e34a34" stroke="#c0392b" stroke-width="0.2"/>
<circle cx="72.38" cy="344.44" r="0.85" fill="#e34a34" stroke="#c0392b" stroke-width="0.2"/>
<circle cx="79.35" cy="339.28" r="0.85" fill="#e34a34" stroke="#c0392b" stroke-width="0.2"/>
<circle cx="68.46" cy="343.4" r="0.85" fill="#dc412c" stroke="#c0392b" stroke-width="0.2"/>
<circle cx="72.62" cy="326.43" r="0.85" fill="#dc412c" stroke="#c0392b" stroke-width="0.2"/>
<circle cx="73.06" cy="353.88" r="0.85" fill="#e34a34" stroke="#c0392b" stroke-width="0.2"/>
<circle cx="81.45" cy="346.89" r="0.85" fill="#e34a34" stroke="#c0392b" stroke-width="0.2"/>
<circle cx="69.21" cy="331.12" r="0.85" fill="#e34a34" stroke="#c0392b" stroke-width="0.2"/>
<circle cx="70.68" cy="335.34" r="0.85" fill="#e34a34" stroke="#c0392b" stroke-width="0.2"/>
<circle cx="67.67" cy="335.76" r="0.85" fill="#e85c46" stroke="#c0392b" stroke-width="0.2"/>
<circle cx="81.42" cy="330.1" r="0.85" fill="#e34a34" stroke="#c0392b" stroke-width="0.2"/>
<circle cx="75.37" cy="312.23" r="0.85" fill="#e85c46" stroke="#c0392b" stroke-width="0.2"/>
<circle cx="77.21" cy="326.93" r="0.85" fill="#dc412c" stroke="#c0392b" stroke-width="0.2"/>
<circle cx="83.48" cy="326.51" r="0.85" fill="#e85c46" stroke="#c0392b" stroke-width="0.2"/>
<circle cx="84.8" cy="350.92" r="0.85" fill="#e34a34" stroke="#c0392b" stroke-width="0.2"/>
<circle cx="65.33" cy="335.18" r="0.85" fill="#e34a34" stroke="#c0392b" stroke-width="0.2"/>
<circle cx="81.81" cy="330.81" r="0.85" fill="#e34a34" stroke="#c0392b" stroke-width="0.2"/>
<circle cx="65.21" cy="332.59" r="0.85" fill="#e85c46" stroke="#c0392b" stroke-width="0.2"/>
<circle cx="64.72" cy="351.17" r="0.85" fill="#e34a34" stroke="#c0392b" stroke-width="0.2"/>
<circle cx="79.7" cy="315.26" r="0.85" fill="#e34a34" stroke="#c0392b" stroke-width="0.2"/>
<circle cx="79.03" cy="366.61" r="0.85" fill="#dc412c" stroke="#c0392b" stroke-width="0.2"/>
<circle cx="67.58" cy="337.41" r="0.85" fill="#dc412c" stroke="#c0392b" stroke-width="0.2"/>
<circle cx="76.77" cy="333.45" r="0.85" fill="#e85c46" stroke="#c0392b" stroke-width="0.2"/>
<circle cx="74.91" cy="359.68" r="0.85" fill="#e85c46" stroke="#c0392b" stroke-width="0.2"/>
<circle cx="75.5" cy="349.75" r="0.85" fill="#dc412c" stroke="#c0392b" stroke-width="0.2"/>
<circle cx="74.03" cy="346.29" r="0.85" fill="#e34a34" stroke="#c0392b" stroke-width="0.2"/>
<circle cx="67.09" cy="346.12" r="0.85" fill="#e34a34" stroke="#c0392b" stroke-width="0.2"/>
<circle cx="77.16" cy="335.45" r="0.85" fill="#e34a34" stroke="#c0392b" stroke-width="0.2"/>
<circle cx="79.9" cy="333.81" r="0.85" fill="#e34a34" stroke="#c0392b" stroke-width="0.2"/>
<circle cx="68.18" cy="329.94" r="0.85" fill="#e34a34" stroke="#c0392b" stroke-width="0.2"/>
<circle cx="71.36" cy="332.57" r="0.85" fill="#e34a34" stroke="#c0392b" stroke-width="0.2"/>
<circle cx="70.03" cy="353.47" r="0.85" fill="#e34a34" stroke="#c0392b" stroke-width="0.2"/>
<circle cx="74.46" cy="341.08" r="0.85" fill="#e34a34" stroke="#c0392b" stroke-width="0.2"/>
<circle cx="70.26" cy="320.46" r="0.85" fill="#e85c46" stroke="#c0392b" stroke-width="0.2"/>
<circle cx="84.41" cy="335.95" r="0.85" fill="#dc412c" stroke="#c0392b" stroke-width="0.2"/>
<circle cx="76.08" cy="367.01" r="0.85" fill="#dc412c" stroke="#c0392b" stroke-width="0.2"/>
<circle cx="83.1" cy="345.94" r="0.85" fill="#e34a34" stroke="#c0392b" stroke-width="0.2"/>
<circle cx="84.08" cy="354.74" r="0.85" fill="#e34a34" stroke="#c0392b" stroke-width="0.2"/>
<circle cx="78.14" cy="360.06" r="0.85" fill="#e34a34" stroke="#c0392b" stroke-width="0.2"/>
<circle cx="84.56" cy="366.5" r="0.85" fill="#e34a34" stroke="#c0392b" stroke-width="0.2"/>
<circle cx="66.35" cy="362.97" r="0.85" fill="#e85c46" stroke="#c0392b" stroke-width="0.2"/>
<circle cx="65.72" cy="345.16" r="0.85" fill="#e85c46" stroke="#c0392b" stroke-width="0.2"/>
<circle cx="80.86" cy="337.83" r="0.85" fill="#e85c46" stroke="#c0392b" stroke-width="0.2"/>
<circle cx="77.4" cy="336.37" r="0.85" fill="#dc412c" stroke="#c0392b" stroke-width="0.2"/>
<circle cx="74.85" cy="310.45" r="0.85" fill="#e34a34" stroke="#c0392b" stroke-width="0.2"/>
<circle cx="85.04" cy="340.16" r="0.85" fill="#e34a34" stroke="#c0392b" stroke-width="0.2"/>
<circle cx="77.71" cy="360.59" r="0.85" fill="#e34a34" stroke="#c0392b" stroke-width="0.2"/>
<circle cx="79.58" cy="349.09" r="0.85" fill="#e85c46" stroke="#c0392b" stroke-width="0.2"/>
<circle cx="79.51" cy="336.42" r="0.85" fill="#e34a34" stroke="#c0392b" stroke-width="0.2"/>
<circle cx="67.73" cy="365.91" r="0.85" fill="#e34a34" stroke="#c0392b" stroke-width="0.2"/>
<circle cx="68.61" cy="353.67" r="0.85" fill="#e34a34" stroke="#c0392b" stroke-width="0.2"/>
<circle cx="67.02" cy="361.63" r="0.85" fill="#dc412c" stroke="#c0392b" stroke-width="0.2"/>
<circle cx="84.68" cy="350.24" r="0.85" fill="#e34a34" stroke="#c0392b" stroke-width="0.2"/>
<circle cx="80.09" cy="367.99" r="0.85" fill="#dc412c" stroke="#c0392b" stroke-width="0.2"/>
<circle cx="76.07" cy="342.51" r="0.85" fill="#e85c46" stroke="#c0392b" stroke-width="0.2"/>
<circle cx="77.49" cy="321.59" r="0.85" fill="#dc412c" stroke="#c0392b" stroke-width="0.2"/>
<circle cx="66.95" cy="332.34" r="0.85" fill="#e34a34" stroke="#c0392b" stroke-width="0.2"/>
<circle cx="76.38" cy="346.3" r="0.85" fill="#dc412c" stroke="#c0392b" stroke-width="0.2"/>
<circle cx="74.86" cy="330.87" r="0.85" fill="#e85c46" stroke="#c0392b" stroke-width="0.2"/>
<circle cx="82.09" cy="354.43" r="0.85" fill="#e34a34" stroke="#c0392b" stroke-width="0.2"/>
<circle cx="65.73" cy="334.87" r="0.85" fill="#e34a34" stroke="#c0392b" stroke-width="0.2"/>
<circle cx="76.97" cy="333.58" r="0.85" fill="#dc412c" stroke="#c0392b" stroke-width="0.2"/>
<circle cx="81.65" cy="361.02" r="0.85" fill="#dc412c" stroke="#c0392b" stroke-width="0.2"/>
<circle cx="80.87" cy="349.11" r="0.85" fill="#e34a34" stroke="#c0392b" stroke-width="0.2"/>
<circle cx="67.03" cy="366.9" r="0.85" fill="#e34a34" stroke="#c0392b" stroke-width="0.2"/>
<circle cx="84.68" cy="354.32" r="0.85" fill="#e34a34" stroke="#c0392b" stroke-width="0.2"/>
<circle cx="77.01" cy="356.76" r="0.85" fill="#e34a34" stroke="#c0392b" stroke-width="0.2"/>
<circle cx="81.16" cy="328.6" r="0.85" fill="#e85c46" stroke="#c0392b" stroke-width="0.2"/>
<circle cx="75.07" cy="349.78" r="0.85" fill="#e34a34" stroke="#c0392b" stroke-width="0.2"/>
<circle cx="83.76" cy="325.53" r="0.85" fill="#e85c46" stroke="#c0392b" stroke-width="0.2"/>
<circle cx="80.97" cy="338.51" r="0.85" fill="#dc412c" stroke="#c0392b" stroke-width="0.2"/>
<circle cx="76.72" cy="348.35" r="0.85" fill="#dc412c" stroke="#c0392b" stroke-width="0.2"/>
<circle cx="81.45" cy="333.83" r="0.85" fill="#e34a34" stroke="#c0392b" stroke-width="0.2"/>
<circle cx="83.4" cy="336.14" r="0.85" fill="#dc412c" stroke="#c0392b" stroke-width="0.2"/>
<circle cx="66.71" cy="311.12" r="0.85" fill="#e34a34" stroke="#c0392b" stroke-width="0.2"/>
<circle cx="68.35" cy="330.28" r="0.85" fill="#e34a34" stroke="#c0392b" stroke-width="0.2"/>
<circle cx="74.62" cy="341.87" r="0.85" fill="#e34a34" stroke="#c0392b" stroke-width="0.2"/>
<circle cx="66.1" cy="366.31" r="0.85" fill="#dc412c" stroke="#c0392b" stroke-width="0.2"/>
<circle cx="69.25" cy="340.21" r="0.85" fill="#e85c46" stroke="#c0392b" stroke-width="0.2"/>
<circle cx="73.74" cy="324.03" r="0.85" fill="#dc412c" stroke="#c0392b" stroke-width="0.2"/>
<circle cx="67.38" cy="363.77" r="0.85" fill="#e34a34" stroke="#c0392b" stroke-width="0.2"/>
<circle cx="64.81" cy="333.19" r="0.85" fill="#e34a34" stroke="#c0392b" stroke-width="0.2"/>
<circle cx="76.56" cy="339.46" r="0.85" fill="#e85c46" stroke="#c0392b" stroke-width="0.2"/>
<circle cx="79.61" cy="366.67" r="0.85" fill="#e34a34" stroke="#c0392b" stroke-width="0.2"/>
<circle cx="67.24" cy="341.21" r="0.85" fill="#e34a34" stroke="#c0392b" stroke-width="0.2"/>
<circle cx="80.09" cy="325.37" r="0.85" fill="#e34a34" stroke="#c0392b" stroke-width="0.2"/>
<circle cx="73.47" cy="335.5" r="0.85" fill="#dc412c" stroke="#c0392b" stroke-width="0.2"/>
<circle cx="69.63" cy="372.81" r="0.85" fill="#dc412c" stroke="#c0392b" stroke-width="0.2"/>
<circle cx="79.65" cy="353.05" r="0.85" fill="#e85c46" stroke="#c0392b" stroke-width="0.2"/>
<circle cx="71.16" cy="320.47" r="0.85" fill="#e34a34" stroke="#c0392b" stroke-width="0.2"/>
<circle cx="65.96" cy="347.93" r="0.85" fill="#e34a34" stroke="#c0392b" stroke-width="0.2"/>
<circle cx="80.8" cy="329.13" r="0.85" fill="#dc412c" stroke="#c0392b" stroke-width="0.2"/>
<circle cx="72.56" cy="349.5" r="0.85" fill="#e85c46" stroke="#c0392b" stroke-width="0.2"/>
<circle cx="79.53" cy="336.17" r="0.85" fill="#dc412c" stroke="#c0392b" stroke-width="0.2"/>
<circle cx="67.69" cy="331.57" r="0.85" fill="#dc412c" stroke="#c0392b" stroke-width="0.2"/>
<circle cx="64.5" cy="367.04" r="0.85" fill="#e34a34" stroke="#c0392b" stroke-width="0.2"/>
<circle cx="82.2" cy="321.12" r="0.85" fill="#e85c46" stroke="#c0392b" stroke-width="0.2"/>
<circle cx="66.25" cy="346.27" r="0.85" fill="#dc412c" stroke="#c0392b" stroke-width="0.2"/>
<circle cx="79.54" cy="322.83" r="0.85" fill="#e85c46" stroke="#c0392b" stroke-width="0.2"/>
<circle cx="84.43" cy="345.17" r="0.85" fill="#dc412c" stroke="#c0392b" stroke-width="0.2"/>
<circle cx="84.08" cy="324.43" r="0.85" fill="#e85c46" stroke="#c0392b" stroke-width="0.2"/>
<circle cx="67.05" cy="322.74" r="0.85" fill="#e34a34" stroke="#c0392b" stroke-width="0.2"/>
<circle cx="70.32" cy="320.48" r="0.85" fill="#dc412c" stroke="#c0392b" stroke-width="0.2"/>
<circle cx="84.2" cy="326.97" r="0.85" fill="#e34a34" stroke="#c0392b" stroke-width="0.2"/>
<circle cx="77.48" cy="339.55" r="0.85" fill="#dc412c" stroke="#c0392b" stroke-width="0.2"/>
<circle cx="84.05" cy="329.4" r="0.85" fill="#dc412c" stroke="#c0392b" stroke-width="0.2"/>
<circle cx="72.49" cy="329.99" r="0.85" fill="#e34a34" stroke="#c0392b" stroke-width="0.2"/>
<circle cx="72.53" cy="341.33" r="0.85" fill="#e34a34" stroke="#c0392b" stroke-width="0.2"/>
<circle cx="71.19" cy="324.94" r="0.85" fill="#e34a34" stroke="#c0392b" stroke-width="0.2"/>
<circle cx="71.12" cy="343.68" r="0.85" fill="#e85c46" stroke="#c0392b" stroke-width="0.2"/>
<circle cx="70.36" cy="344.21" r="0.85" fill="#e85c46" stroke="#c0392b" stroke-width="0.2"/>
<circle cx="71.44" cy="356.58" r="0.85" fill="#dc412c" stroke="#c0392b" stroke-width="0.2"/>
<circle cx="83.63" cy="350.38" r="0.85" fill="#dc412c" stroke="#c0392b" stroke-width="0.2"/>
<circle cx="81.96" cy="346.45" r="0.85" fill="#e34a34" stroke="#c0392b" stroke-width="0.2"/>
<circle cx="69.82" cy="323.62" r="0.85" fill="#dc412c" stroke="#c0392b" stroke-width="0.2"/>
<circle cx="68.82" cy="356.8" r="0.85" fill="#e34a34" stroke="#c0392b" stroke-width="0.2"/>
<circle cx="84.88" cy="355.32" r="0.85" fill="#e85c46" stroke="#c0392b" stroke-width="0.2"/>
<circle cx="69.21" cy="318.35" r="0.85" fill="#e85c46" stroke="#c0392b" stroke-width="0.2"/>
<circle cx="65.99" cy="355.75" r="0.85" fill="#e85c46" stroke="#c0392b" stroke-width="0.2"/>
<circle cx="69.43" cy="328.55" r="0.85" fill="#dc412c" stroke="#c0392b" stroke-width="0.2"/>
<circle cx="83.65" cy="328.2" r="0.85" fill="#e34a34" stroke="#c0392b" stroke-width="0.2"/>
<circle cx="84.8" cy="363.54" r="0.85" fill="#e85c46" stroke="#c0392b" stroke-width="0.2"/>
<circle cx="84.84" cy="339.17" r="0.85" fill="#e34a34" stroke="#c0392b" stroke-width="0.2"/>
<circle cx="79.81" cy="356.04" r="0.85" fill="#dc412c" stroke="#c0392b" stroke-width="0.2"/>
<circle cx="79.52" cy="360.68" r="0.85" fill="#e34a34" stroke="#c0392b" stroke-width="0.2"/>
<circle cx="76.47" cy="333.82" r="0.85" fill="#dc412c" stroke="#c0392b" stroke-width="0.2"/>
<circle cx="82.02" cy="357.33" r="0.85" fill="#e34a34" stroke="#c0392b" stroke-width="0.2"/>
<circle cx="70.68" cy="355.37" r="0.85" fill="#e34a34" stroke="#c0392b" stroke-width="0.2"/>
<circle cx="80.78" cy="346.81" r="0.85" fill="#e85c46" stroke="#c0392b" stroke-width="0.2"/>
<circle cx="66.45" cy="346.21" r="0.85" fill="#dc412c" stroke="#c0392b" stroke-width="0.2"/>
<circle cx="66.46" cy="345.84" r="0.85" fill="#e34a34" stroke="#c0392b" stroke-width="0.2"/>
<circle cx="71.53" cy="318.58" r="0.85" fill="#e34a34" stroke="#c0392b" stroke-width="0.2"/>
<circle cx="66.14" cy="353.61" r="0.85" fill="#e34a34" stroke="#c0392b" stroke-width="0.2"/>
<circle cx="76.11" cy="336.87" r="0.85" fill="#e85c46" stroke="#c0392b" stroke-width="0.2"/>
<circle cx="79.85" cy="332.25" r="0.85" fill="#e85c46" stroke="#c0392b" stroke-width="0.2"/>
<circle cx="77.13" cy="322.17" r="0.85" fill="#dc412c" stroke="#c0392b" stroke-width="0.2"/>
<circle cx="82.06" cy="348.73" r="0.85" fill="#dc412c" stroke="#c0392b" stroke-width="0.2"/>
<circle cx="79.82" cy="344.84" r="0.85" fill="#dc412c" stroke="#c0392b" stroke-width="0.2"/>
<circle cx="69.98" cy="314.61" r="0.85" fill="#e85c46" stroke="#c0392b" stroke-width="0.2"/>
<circle cx="80.63" cy="320.15" r="0.85" fill="#e34a34" stroke="#c0392b" stroke-width="0.2"/>
<circle cx="79.48" cy="341.85" r="0.85" fill="#e34a34" stroke="#c0392b" stroke-width="0.2"/>
<circle cx="75.47" cy="356.92" r="0.85" fill="#e85c46" stroke="#c0392b" stroke-width="0.2"/>
<circle cx="77.58" cy="322.28" r="0.85" fill="#e34a34" stroke="#c0392b" stroke-width="0.2"/>
<circle cx="79.41" cy="357.85" r="0.85" fill="#e34a34" stroke="#c0392b" stroke-width="0.2"/>
<circle cx="83.37" cy="346.83" r="0.85" fill="#dc412c" stroke="#c0392b" stroke-width="0.2"/>
<circle cx="68.87" cy="351.22" r="0.85" fill="#e85c46" stroke="#c0392b" stroke-width="0.2"/>
<circle cx="82.77" cy="331.1" r="0.85" fill="#e34a34" stroke="#c0392b" stroke-width="0.2"/>
<circle cx="64.8" cy="337.84" r="0.85" fill="#e34a34" stroke="#c0392b" stroke-width="0.2"/>
<circle cx="82.61" cy="335.42" r="0.85" fill="#e34a34" stroke="#c0392b" stroke-width="0.2"/>
<circle cx="84.99" cy="336.95" r="0.85" fill="#e85c46" stroke="#c0392b" stroke-width="0.2"/>
<circle cx="76.45" cy="339.6" r="0.85" fill="#e34a34" stroke="#c0392b" stroke-width="0.2"/>
<circle cx="69.43" cy="343.88" r="0.85" fill="#e34a34" stroke="#c0392b" stroke-width="0.2"/>
<circle cx="75.07" cy="318.98" r="0.85" fill="#e85c46" stroke="#c0392b" stroke-width="0.2"/>
<circle cx="73.21" cy="351.55" r="0.85" fill="#e34a34" stroke="#c0392b" stroke-width="0.2"/>
<circle cx="80.75" cy="359.52" r="0.85" fill="#e34a34" stroke="#c0392b" stroke-width="0.2"/>
<circle cx="72.21" cy="349.59" r="0.85" fill="#e34a34" stroke="#c0392b" stroke-width="0.2"/>
<circle cx="64.03" cy="348.82" r="0.85" fill="#e34a34" stroke="#c0392b" stroke-width="0.2"/>
<circle cx="82.35" cy="314.76" r="0.85" fill="#e34a34" stroke="#c0392b" stroke-width="0.2"/>
<circle cx="67.82" cy="362.38" r="0.85" fill="#dc412c" stroke="#c0392b" stroke-width="0.2"/>
<circle cx="69.08" cy="347.41" r="0.85" fill="#e85c46" stroke="#c0392b" stroke-width="0.2"/>
<circle cx="77.52" cy="334.41" r="0.85" fill="#e34a34" stroke="#c0392b" stroke-width="0.2"/>
<circle cx="65.82" cy="340.12" r="0.85" fill="#e34a34" stroke="#c0392b" stroke-width="0.2"/>
<circle cx="67.75" cy="351.53" r="0.85" fill="#e34a34" stroke="#c0392b" stroke-width="0.2"/>
<circle cx="64.89" cy="353.41" r="0.85" fill="#e34a34" stroke="#c0392b" stroke-width="0.2"/>
<circle cx="75.45" cy="371.36" r="0.85" fill="#e85c46" stroke="#c0392b" stroke-width="0.2"/>
<circle cx="64.06" cy="347.76" r="0.85" fill="#e85c46" stroke="#c0392b" stroke-width="0.2"/>
<circle cx="71.87" cy="364.22" r="0.85" fill="#e34a34" stroke="#c0392b" stroke-width="0.2"/>
<circle cx="72.72" cy="342.27" r="0.85" fill="#dc412c" stroke="#c0392b" stroke-width="0.2"/>
<circle cx="70.91" cy="339.53" r="0.85" fill="#e34a34" stroke="#c0392b" stroke-width="0.2"/>
<circle cx="65.69" cy="324.29" r="0.85" fill="#dc412c" stroke="#c0392b" stroke-width="0.2"/>
<circle cx="82.36" cy="344.46" r="0.85" fill="#e85c46" stroke="#c0392b" stroke-width="0.2"/>
<circle cx="66.82" cy="339.69" r="0.85" fill="#e85c46" stroke="#c0392b" stroke-width="0.2"/>
<circle cx="65.99" cy="366.39" r="0.85" fill="#e34a34" stroke="#c0392b" stroke-width="0.2"/>
<circle cx="69.25" cy="344.53" r="0.85" fill="#dc412c" stroke="#c0392b" stroke-width="0.2"/>
<circle cx="66.96" cy="348" r="0.85" fill="#e85c46" stroke="#c0392b" stroke-width="0.2"/>
<circle cx="75.2" cy="365.92" r="0.85" fill="#e34a34" stroke="#c0392b" stroke-width="0.2"/>
<circle cx="74.53" cy="356.65" r="0.85" fill="#e34a34" stroke="#c0392b" stroke-width="0.2"/>
<circle cx="64.97" cy="318.82" r="0.85" fill="#dc412c" stroke="#c0392b" stroke-width="0.2"/>
<circle cx="64.96" cy="341.27" r="0.85" fill="#dc412c" stroke="#c0392b" stroke-width="0.2"/>
<circle cx="74.72" cy="341.72" r="0.85" fill="#dc412c" stroke="#c0392b" stroke-width="0.2"/>
<circle cx="77.25" cy="341.17" r="0.85" fill="#e34a34" stroke="#c0392b" stroke-width="0.2"/>
<circle cx="72.52" cy="342.8" r="0.85" fill="#e34a34" stroke="#c0392b" stroke-width="0.2"/>
<circle cx="70.63" cy="342.12" r="0.85" fill="#e34a34" stroke="#c0392b" stroke-width="0.2"/>
<circle cx="79.99" cy="339.55" r="0.85" fill="#e34a34" stroke="#c0392b" stroke-width="0.2"/>
<circle cx="84.29" cy="340.87" r="0.85" fill="#e85c46" stroke="#c0392b" stroke-width="0.2"/>
<circle cx="81.7" cy="324.14" r="0.85" fill="#dc412c" stroke="#c0392b" stroke-width="0.2"/>
<circle cx="81.89" cy="336.7" r="0.85" fill="#e34a34" stroke="#c0392b" stroke-width="0.2"/>
<circle cx="65.86" cy="349.33" r="0.85" fill="#e85c46" stroke="#c0392b" stroke-width="0.2"/>
<circle cx="80.84" cy="328.88" r="0.85" fill="#dc412c" stroke="#c0392b" stroke-width="0.2"/>
<circle cx="70.67" cy="354.58" r="0.85" fill="#e34a34" stroke="#c0392b" stroke-width="0.2"/>
<circle cx="84.67" cy="325.7" r="0.85" fill="#dc412c" stroke="#c0392b" stroke-width="0.2"/>
<circle cx="80.67" cy="334.44" r="0.85" fill="#e34a34" stroke="#c0392b" stroke-width="0.2"/>
<circle cx="68.75" cy="334.65" r="0.85" fill="#e34a34" stroke="#c0392b" stroke-width="0.2"/>
<circle cx="65.17" cy="344.27" r="0.85" fill="#dc412c" stroke="#c0392b" stroke-width="0.2"/>
<circle cx="82.44" cy="372.84" r="0.85" fill="#dc412c" stroke="#c0392b" stroke-width="0.2"/>
<circle cx="78.65" cy="329" r="0.85" fill="#dc412c" stroke="#c0392b" stroke-width="0.2"/>
<circle cx="83.13" cy="353.52" r="0.85" fill="#e34a34" stroke="#c0392b" stroke-width="0.2"/>
<circle cx="74.86" cy="343.66" r="0.85" fill="#e34a34" stroke="#c0392b" stroke-width="0.2"/>
<circle cx="68.75" cy="348.57" r="0.85" fill="#dc412c" stroke="#c0392b" stroke-width="0.2"/>
<circle cx="65.91" cy="336.92" r="0.85" fill="#e34a34" stroke="#c0392b" stroke-width="0.2"/>
<circle cx="76.03" cy="345.6" r="0.85" fill="#e34a34" stroke="#c0392b" stroke-width="0.2"/>
<circle cx="72.23" cy="352.95" r="0.85" fill="#e34a34" stroke="#c0392b" stroke-width="0.2"/>
<circle cx="66.01" cy="346.02" r="0.85" fill="#e34a34" stroke="#c0392b" stroke-width="0.2"/>
<circle cx="64.68" cy="352.82" r="0.85" fill="#e85c46" stroke="#c0392b" stroke-width="0.2"/>
<circle cx="81.11" cy="316.2" r="0.85" fill="#e34a34" stroke="#c0392b" stroke-width="0.2"/>
<circle cx="65.29" cy="352.67" r="0.85" fill="#e85c46" stroke="#c0392b" stroke-width="0.2"/>
<circle cx="79.8" cy="362.73" r="0.85" fill="#dc412c" stroke="#c0392b" stroke-width="0.2"/>
<circle cx="67.5" cy="352.38" r="0.85" fill="#e34a34" stroke="#c0392b" stroke-width="0.2"/>
<circle cx="71.22" cy="338.36" r="0.85" fill="#e85c46" stroke="#c0392b" stroke-width="0.2"/>
<circle cx="67.32" cy="358.01" r="0.85" fill="#e34a34" stroke="#c0392b" stroke-width="0.2"/>
<circle cx="83.12" cy="325.05" r="0.85" fill="#dc412c" stroke="#c0392b" stroke-width="0.2"/>
<circle cx="84.62" cy="340.27" r="0.85" fill="#dc412c" stroke="#c0392b" stroke-width="0.2"/>
<circle cx="67.36" cy="309.95" r="0.85" fill="#dc412c" stroke="#c0392b" stroke-width="0.2"/>
<circle cx="68.07" cy="342.09" r="0.85" fill="#dc412c" stroke="#c0392b" stroke-width="0.2"/>
<circle cx="75.37" cy="339.63" r="0.85" fill="#dc412c" stroke="#c0392b" stroke-width="0.2"/>
<circle cx="71.58" cy="343.53" r="0.85" fill="#e34a34" stroke="#c0392b" stroke-width="0.2"/>
<circle cx="73.74" cy="352.27" r="0.85" fill="#e85c46" stroke="#c0392b" stroke-width="0.2"/>
<circle cx="75.79" cy="358.57" r="0.85" fill="#e34a34" stroke="#c0392b" stroke-width="0.2"/>
<circle cx="79.25" cy="334.04" r="0.85" fill="#e85c46" stroke="#c0392b" stroke-width="0.2"/>
<circle cx="80.17" cy="352.03" r="0.85" fill="#e34a34" stroke="#c0392b" stroke-width="0.2"/>
<circle cx="81.26" cy="365.88" r="0.85" fill="#e34a34" stroke="#c0392b" stroke-width="0.2"/>
<circle cx="65.59" cy="327.05" r="0.85" fill="#dc412c" stroke="#c0392b" stroke-width="0.2"/>
<circle cx="73.72" cy="347.89" r="0.85" fill="#e34a34" stroke="#c0392b" stroke-width="0.2"/>
<circle cx="83" cy="322.8" r="0.85" fill="#dc412c" stroke="#c0392b" stroke-width="0.2"/>
<circle cx="71.19" cy="317.52" r="0.85" fill="#e34a34" stroke="#c0392b" stroke-width="0.2"/>
<circle cx="84.38" cy="343.6" r="0.85" fill="#dc412c" stroke="#c0392b" stroke-width="0.2"/>
<circle cx="78.43" cy="316.92" r="0.85" fill="#e85c46" stroke="#c0392b" stroke-width="0.2"/>
<circle cx="64.34" cy="329.83" r="0.85" fill="#dc412c" stroke="#c0392b" stroke-width="0.2"/>
<circle cx="76.03" cy="367.49" r="0.85" fill="#e34a34" stroke="#c0392b" stroke-width="0.2"/>
<circle cx="77.17" cy="316.51" r="0.85" fill="#e34a34" stroke="#c0392b" stroke-width="0.2"/>
<circle cx="68.25" cy="350.05" r="0.85" fill="#e85c46" stroke="#c0392b" stroke-width="0.2"/>
<circle cx="79.95" cy="344.42" r="0.85" fill="#e85c46" stroke="#c0392b" stroke-width="0.2"/>
<circle cx="80.6" cy="345.77" r="0.85" fill="#e85c46" stroke="#c0392b" stroke-width="0.2"/>
<circle cx="75.82" cy="336.03" r="0.85" fill="#e34a34" stroke="#c0392b" stroke-width="0.2"/>
<circle cx="68.14" cy="349.62" r="0.85" fill="#dc412c" stroke="#c0392b" stroke-width="0.2"/>
<circle cx="70.76" cy="330.74" r="0.85" fill="#dc412c" stroke="#c0392b" stroke-width="0.2"/>
<circle cx="78.65" cy="340.51" r="0.85" fill="#e34a34" stroke="#c0392b" stroke-width="0.2"/>
<circle cx="75.96" cy="342.6" r="0.85" fill="#dc412c" stroke="#c0392b" stroke-width="0.2"/>
<circle cx="83.97" cy="355.06" r="0.85" fill="#e85c46" stroke="#c0392b" stroke-width="0.2"/>
<circle cx="69.78" cy="349.53" r="0.85" fill="#e34a34" stroke="#c0392b" stroke-width="0.2"/>
<circle cx="70.68" cy="352.2" r="0.85" fill="#dc412c" stroke="#c0392b" stroke-width="0.2"/>
<circle cx="67.84" cy="318.49" r="0.85" fill="#e85c46" stroke="#c0392b" stroke-width="0.2"/>
<circle cx="79.24" cy="344.5" r="0.85" fill="#e85c46" stroke="#c0392b" stroke-width="0.2"/>
<circle cx="74.66" cy="327.09" r="0.85" fill="#e85c46" stroke="#c0392b" stroke-width="0.2"/>
<circle cx="76.78" cy="350.06" r="0.85" fill="#e85c46" stroke="#c0392b" stroke-width="0.2"/>
<circle cx="72.52" cy="350.8" r="0.85" fill="#dc412c" stroke="#c0392b" stroke-width="0.2"/>
<circle cx="80.62" cy="360" r="0.85" fill="#e34a34" stroke="#c0392b" stroke-width="0.2"/>
<circle cx="84.93" cy="331.53" r="0.85" fill="#e85c46" stroke="#c0392b" stroke-width="0.2"/>
<circle cx="67.8" cy="334.97" r="0.85" fill="#e34a34" stroke="#c0392b" stroke-width="0.2"/>
<circle cx="78.62" cy="349.65" r="0.85" fill="#e34a34" stroke="#c0392b" stroke-width="0.2"/>
<circle cx="65.95" cy="343.12" r="0.85" fill="#dc412c" stroke="#c0392b" stroke-width="0.2"/>
<circle cx="70.3" cy="341.99" r="0.85" fill="#dc412c" stroke="#c0392b" stroke-width="0.2"/>
<circle cx="77.19" cy="336.93" r="0.85" fill="#e34a34" stroke="#c0392b" stroke-width="0.2"/>
<circle cx="85.19" cy="357.28" r="0.85" fill="#e34a34" stroke="#c0392b" stroke-width="0.2"/>
<circle cx="79.43" cy="344.44" r="0.85" fill="#e34a34" stroke="#c0392b" stroke-width="0.2"/>
<circle cx="76.07" cy="320.68" r="0.85" fill="#dc412c" stroke="#c0392b" stroke-width="0.2"/>
<circle cx="81.19" cy="362.13" r="0.85" fill="#e34a34" stroke="#c0392b" stroke-width="0.2"/>
<circle cx="78.85" cy="335.41" r="0.85" fill="#dc412c" stroke="#c0392b" stroke-width="0.2"/>
<circle cx="80.13" cy="353.91" r="0.85" fill="#dc412c" stroke="#c0392b" stroke-width="0.2"/>
<circle cx="72.93" cy="339.88" r="0.85" fill="#e85c46" stroke="#c0392b" stroke-width="0.2"/>
<circle cx="70.75" cy="335.56" r="0.85" fill="#dc412c" stroke="#c0392b" stroke-width="0.2"/>
<circle cx="79.86" cy="343.31" r="0.85" fill="#e34a34" stroke="#c0392b" stroke-width="0.2"/>
<circle cx="67" cy="349.41" r="0.85" fill="#dc412c" stroke="#c0392b" stroke-width="0.2"/>
<circle cx="78.94" cy="340.96" r="0.85" fill="#e34a34" stroke="#c0392b" stroke-width="0.2"/>
<circle cx="77.26" cy="344.67" r="0.85" fill="#dc412c" stroke="#c0392b" stroke-width="0.2"/>
<circle cx="85.09" cy="372.74" r="0.85" fill="#e34a34" stroke="#c0392b" stroke-width="0.2"/>
<circle cx="79.9" cy="358.66" r="0.85" fill="#dc412c" stroke="#c0392b" stroke-width="0.2"/>
<circle cx="64.47" cy="349.99" r="0.85" fill="#e85c46" stroke="#c0392b" stroke-width="0.2"/>
<circle cx="69.79" cy="323.46" r="0.85" fill="#e34a34" stroke="#c0392b" stroke-width="0.2"/>
<circle cx="77.53" cy="342.74" r="0.85" fill="#dc412c" stroke="#c0392b" stroke-width="0.2"/>
<circle cx="76.53" cy="345.42" r="0.85" fill="#e34a34" stroke="#c0392b" stroke-width="0.2"/>
<circle cx="68.97" cy="328.51" r="0.85" fill="#e34a34" stroke="#c0392b" stroke-width="0.2"/>
<circle cx="69.95" cy="360.22" r="0.85" fill="#e85c46" stroke="#c0392b" stroke-width="0.2"/>
<circle cx="82.04" cy="350.19" r="0.85" fill="#e34a34" stroke="#c0392b" stroke-width="0.2"/>
<circle cx="74.39" cy="349.28" r="0.85" fill="#e85c46" stroke="#c0392b" stroke-width="0.2"/>
<circle cx="78.13" cy="340.32" r="0.85" fill="#e34a34" stroke="#c0392b" stroke-width="0.2"/>
<circle cx="71.66" cy="316.44" r="0.85" fill="#e34a34" stroke="#c0392b" stroke-width="0.2"/>
<circle cx="72.76" cy="348.1" r="0.85" fill="#e85c46" stroke="#c0392b" stroke-width="0.2"/>
<circle cx="82.76" cy="341.42" r="0.85" fill="#dc412c" stroke="#c0392b" stroke-width="0.2"/>
<circle cx="81.54" cy="337.48" r="0.85" fill="#e85c46" stroke="#c0392b" stroke-width="0.2"/>
<circle cx="80.07" cy="331.44" r="0.85" fill="#e34a34" stroke="#c0392b" stroke-width="0.2"/>
<circle cx="78.42" cy="340.8" r="0.85" fill="#e34a34" stroke="#c0392b" stroke-width="0.2"/>
<circle cx="77.9" cy="332.41" r="0.85" fill="#dc412c" stroke="#c0392b" stroke-width="0.2"/>
<circle cx="83.7" cy="351.5" r="0.85" fill="#e34a34" stroke="#c0392b" stroke-width="0.2"/>
<circle cx="79.27" cy="329.34" r="0.85" fill="#e34a34" stroke="#c0392b" stroke-width="0.2"/>
<circle cx="68.16" cy="347.13" r="0.85" fill="#e85c46" stroke="#c0392b" stroke-width="0.2"/>
<circle cx="77.09" cy="360.31" r="0.85" fill="#e34a34" stroke="#c0392b" stroke-width="0.2"/>
<circle cx="71.26" cy="321.57" r="0.85" fill="#dc412c" stroke="#c0392b" stroke-width="0.2"/>
<circle cx="71.92" cy="349.09" r="0.85" fill="#dc412c" stroke="#c0392b" stroke-width="0.2"/>
<circle cx="76.49" cy="318.55" r="0.85" fill="#e85c46" stroke="#c0392b" stroke-width="0.2"/>
<circle cx="73.31" cy="343.97" r="0.85" fill="#dc412c" stroke="#c0392b" stroke-width="0.2"/>
<circle cx="79.08" cy="356" r="0.85" fill="#e34a34" stroke="#c0392b" stroke-width="0.2"/>
<circle cx="77.76" cy="334.81" r="0.85" fill="#e85c46" stroke="#c0392b" stroke-width="0.2"/>
<circle cx="74.94" cy="342.1" r="0.85" fill="#e85c46" stroke="#c0392b" stroke-width="0.2"/>
<circle cx="82.38" cy="328.56" r="0.85" fill="#e34a34" stroke="#c0392b" stroke-width="0.2"/>
<circle cx="77.87" cy="340.28" r="0.85" fill="#e85c46" stroke="#c0392b" stroke-width="0.2"/>
<circle cx="72.52" cy="334.41" r="0.85" fill="#e34a34" stroke="#c0392b" stroke-width="0.2"/>
<circle cx="73.05" cy="329.47" r="0.85" fill="#e85c46" stroke="#c0392b" stroke-width="0.2"/>
<circle cx="65.47" cy="336.47" r="0.85" fill="#e34a34" stroke="#c0392b" stroke-width="0.2"/>
<circle cx="68.68" cy="329.92" r="0.85" fill="#dc412c" stroke="#c0392b" stroke-width="0.2"/>
<circle cx="71.62" cy="346.69" r="0.85" fill="#e85c46" stroke="#c0392b" stroke-width="0.2"/>
<circle cx="72.01" cy="343.97" r="0.85" fill="#e34a34" stroke="#c0392b" stroke-width="0.2"/>
<circle cx="68.94" cy="334.11" r="0.85" fill="#e34a34" stroke="#c0392b" stroke-width="0.2"/>
<circle cx="73.48" cy="345.04" r="0.85" fill="#dc412c" stroke="#c0392b" stroke-width="0.2"/>
<circle cx="74.42" cy="339.96" r="0.85" fill="#e34a34" stroke="#c0392b" stroke-width="0.2"/>
<circle cx="80.19" cy="353.04" r="0.85" fill="#e34a34" stroke="#c0392b" stroke-width="0.2"/>
<circle cx="73.5" cy="344.65" r="0.85" fill="#e85c46" stroke="#c0392b" stroke-width="0.2"/>
<circle cx="82.96" cy="343.36" r="0.85" fill="#e85c46" stroke="#c0392b" stroke-width="0.2"/>
<circle cx="84.62" cy="334.13" r="0.85" fill="#e34a34" stroke="#c0392b" stroke-width="0.2"/>
<circle cx="78.39" cy="333.37" r="0.85" fill="#e34a34" stroke="#c0392b" stroke-width="0.2"/>
<circle cx="64.82" cy="354.78" r="0.85" fill="#e85c46" stroke="#c0392b" stroke-width="0.2"/>
<circle cx="68.13" cy="320.27" r="0.85" fill="#e85c46" stroke="#c0392b" stroke-width="0.2"/>
<circle cx="83.09" cy="346.04" r="0.85" fill="#e34a34" stroke="#c0392b" stroke-width="0.2"/>
<circle cx="65.51" cy="329.97" r="0.85" fill="#e34a34" stroke="#c0392b" stroke-width="0.2"/>
<circle cx="72.72" cy="360.53" r="0.85" fill="#e34a34" stroke="#c0392b" stroke-width="0.2"/>
<circle cx="81.59" cy="335.62" r="0.85" fill="#e34a34" stroke="#c0392b" stroke-width="0.2"/>
<circle cx="67.91" cy="328.44" r="0.85" fill="#e85c46" stroke="#c0392b" stroke-width="0.2"/>
<circle cx="80.62" cy="339.31" r="0.85" fill="#e34a34" stroke="#c0392b" stroke-width="0.2"/>
<circle cx="65.87" cy="349.68" r="0.85" fill="#e34a34" stroke="#c0392b" stroke-width="0.2"/>
<circle cx="64.33" cy="351.9" r="0.85" fill="#e85c46" stroke="#c0392b" stroke-width="0.2"/>
<circle cx="73.95" cy="341.36" r="0.85" fill="#dc412c" stroke="#c0392b" stroke-width="0.2"/>
<circle cx="71.36" cy="346.53" r="0.85" fill="#e85c46" stroke="#c0392b" stroke-width="0.2"/>
<circle cx="70.07" cy="358.03" r="0.85" fill="#e85c46" stroke="#c0392b" stroke-width="0.2"/>
<circle cx="68.91" cy="344.27" r="0.85" fill="#e85c46" stroke="#c0392b" stroke-width="0.2"/>
<circle cx="65.15" cy="331.2" r="0.85" fill="#e34a34" stroke="#c0392b" stroke-width="0.2"/>
<circle cx="83.74" cy="339.51" r="0.85" fill="#e34a34" stroke="#c0392b" stroke-width="0.2"/>
<circle cx="77.98" cy="352.63" r="0.85" fill="#e85c46" stroke="#c0392b" stroke-width="0.2"/>
<circle cx="76.4" cy="340.81" r="0.85" fill="#dc412c" stroke="#c0392b" stroke-width="0.2"/>
<circle cx="69.63" cy="342.66" r="0.85" fill="#e34a34" stroke="#c0392b" stroke-width="0.2"/>
<circle cx="69.83" cy="359.9" r="0.85" fill="#e34a34" stroke="#c0392b" stroke-width="0.2"/>
<circle cx="68.88" cy="338.72" r="0.85" fill="#e34a34" stroke="#c0392b" stroke-width="0.2"/>
<circle cx="84.86" cy="343.73" r="0.85" fill="#e34a34" stroke="#c0392b" stroke-width="0.2"/>
<circle cx="85.13" cy="344.09" r="0.85" fill="#e34a34" stroke="#c0392b" stroke-width="0.2"/>
<circle cx="70.97" cy="330.93" r="0.85" fill="#e34a34" stroke="#c0392b" stroke-width="0.2"/>
<circle cx="82.96" cy="349.84" r="0.85" fill="#e85c46" stroke="#c0392b" stroke-width="0.2"/>
<circle cx="73.58" cy="333.27" r="0.85" fill="#dc412c" stroke="#c0392b" stroke-width="0.2"/>
<circle cx="72.36" cy="347.76" r="0.85" fill="#e85c46" stroke="#c0392b" stroke-width="0.2"/>
<circle cx="71.31" cy="337.41" r="0.85" fill="#e34a34" stroke="#c0392b" stroke-width="0.2"/>
<circle cx="66.87" cy="348.05" r="0.85" fill="#dc412c" stroke="#c0392b" stroke-width="0.2"/>
<circle cx="72.69" cy="316.98" r="0.85" fill="#e34a34" stroke="#c0392b" stroke-width="0.2"/>
<circle cx="66.76" cy="344.92" r="0.85" fill="#e34a34" stroke="#c0392b" stroke-width="0.2"/>
<circle cx="65.56" cy="347.07" r="0.85" fill="#e34a34" stroke="#c0392b" stroke-width="0.2"/>
<circle cx="83.18" cy="338.09" r="0.85" fill="#e34a34" stroke="#c0392b" stroke-width="0.2"/>
<circle cx="77.82" cy="356.58" r="0.85" fill="#e34a34" stroke="#c0392b" stroke-width="0.2"/>
<circle cx="70.82" cy="343.35" r="0.85" fill="#e34a34" stroke="#c0392b" stroke-width="0.2"/>
<circle cx="72.73" cy="330.88" r="0.85" fill="#e34a34" stroke="#c0392b" stroke-width="0.2"/>
<circle cx="69.84" cy="342.8" r="0.85" fill="#e34a34" stroke="#c0392b" stroke-width="0.2"/>
<circle cx="83.68" cy="345.3" r="0.85" fill="#e34a34" stroke="#c0392b" stroke-width="0.2"/>
<circle cx="68.92" cy="358.23" r="0.85" fill="#dc412c" stroke="#c0392b" stroke-width="0.2"/>
<circle cx="80.17" cy="347.73" r="0.85" fill="#e34a34" stroke="#c0392b" stroke-width="0.2"/>
<circle cx="79.37" cy="358.75" r="0.85" fill="#e34a34" stroke="#c0392b" stroke-width="0.2"/>
<circle cx="73.8" cy="346.47" r="0.85" fill="#e34a34" stroke="#c0392b" stroke-width="0.2"/>
<circle cx="64.41" cy="360.71" r="0.85" fill="#e34a34" stroke="#c0392b" stroke-width="0.2"/>
<circle cx="83.65" cy="365.52" r="0.85" fill="#e34a34" stroke="#c0392b" stroke-width="0.2"/>
<circle cx="82.35" cy="354.57" r="0.85" fill="#dc412c" stroke="#c0392b" stroke-width="0.2"/>
<circle cx="71.84" cy="317.96" r="0.85" fill="#e34a34" stroke="#c0392b" stroke-width="0.2"/>
<circle cx="76.4" cy="332.22" r="0.85" fill="#e34a34" stroke="#c0392b" stroke-width="0.2"/>
<circle cx="72.05" cy="332.07" r="0.85" fill="#dc412c" stroke="#c0392b" stroke-width="0.2"/>
<circle cx="75.9" cy="349.84" r="0.85" fill="#dc412c" stroke="#c0392b" stroke-width="0.2"/>
<circle cx="65.45" cy="333.67" r="0.85" fill="#e85c46" stroke="#c0392b" stroke-width="0.2"/>
<circle cx="71.56" cy="369.67" r="0.85" fill="#e34a34" stroke="#c0392b" stroke-width="0.2"/>
<circle cx="71.94" cy="352.98" r="0.85" fill="#e85c46" stroke="#c0392b" stroke-width="0.2"/>
<circle cx="67.3" cy="364.82" r="0.85" fill="#dc412c" stroke="#c0392b" stroke-width="0.2"/>
<circle cx="75.51" cy="340.63" r="0.85" fill="#dc412c" stroke="#c0392b" stroke-width="0.2"/>
<circle cx="69.78" cy="324.89" r="0.85" fill="#dc412c" stroke="#c0392b" stroke-width="0.2"/>
<circle cx="69.84" cy="344.52" r="0.85" fill="#e34a34" stroke="#c0392b" stroke-width="0.2"/>
<circle cx="75.68" cy="360.22" r="0.85" fill="#e34a34" stroke="#c0392b" stroke-width="0.2"/>
<circle cx="78.66" cy="336.54" r="0.85" fill="#e85c46" stroke="#c0392b" stroke-width="0.2"/>
<circle cx="80.6" cy="342.62" r="0.85" fill="#e34a34" stroke="#c0392b" stroke-width="0.2"/>
<circle cx="74.23" cy="334.34" r="0.85" fill="#e85c46" stroke="#c0392b" stroke-width="0.2"/>
<circle cx="85" cy="349.65" r="0.85" fill="#dc412c" stroke="#c0392b" stroke-width="0.2"/>
<circle cx="81.92" cy="352.4" r="0.85" fill="#e85c46" stroke="#c0392b" stroke-width="0.2"/>
<circle cx="77.49" cy="356.05" r="0.85" fill="#e34a34" stroke="#c0392b" stroke-width="0.2"/>
<circle cx="72.4" cy="333.76" r="0.85" fill="#e34a34" stroke="#c0392b" stroke-width="0.2"/>
<circle cx="71.58" cy="340.96" r="0.85" fill="#e34a34" stroke="#c0392b" stroke-width="0.2"/>
<circle cx="84.72" cy="326.47" r="0.85" fill="#e85c46" stroke="#c0392b" stroke-width="0.2"/>
<circle cx="81.26" cy="338.77" r="0.85" fill="#e34a34" stroke="#c0392b" stroke-width="0.2"/>
<circle cx="66.03" cy="342.48" r="0.85" fill="#e34a34" stroke="#c0392b" stroke-width="0.2"/>
<circle cx="68.49" cy="339.83" r="0.85" fill="#e85c46" stroke="#c0392b" stroke-width="0.2"/>
<circle cx="73.53" cy="357.61" r="0.85" fill="#e85c46" stroke="#c0392b" stroke-width="0.2"/>
<circle cx="77.82" cy="327.65" r="0.85" fill="#dc412c" stroke="#c0392b" stroke-width="0.2"/>
<circle cx="78.53" cy="348.85" r="0.85" fill="#dc412c" stroke="#c0392b" stroke-width="0.2"/>
<circle cx="66.47" cy="352.29" r="0.85" fill="#e34a34" stroke="#c0392b" stroke-width="0.2"/>
<circle cx="71.06" cy="345.71" r="0.85" fill="#e34a34" stroke="#c0392b" stroke-width="0.2"/>
<circle cx="64.3" cy="318.02" r="0.85" fill="#e34a34" stroke="#c0392b" stroke-width="0.2"/>
<circle cx="81.18" cy="349.82" r="0.85" fill="#e34a34" stroke="#c0392b" stroke-width="0.2"/>
<circle cx="81.99" cy="355.34" r="0.85" fill="#e34a34" stroke="#c0392b" stroke-width="0.2"/>
<circle cx="84.91" cy="361.59" r="0.85" fill="#dc412c" stroke="#c0392b" stroke-width="0.2"/>
<circle cx="70.09" cy="338.6" r="0.85" fill="#e34a34" stroke="#c0392b" stroke-width="0.2"/>
<circle cx="73.24" cy="340.49" r="0.85" fill="#e85c46" stroke="#c0392b" stroke-width="0.2"/>
<circle cx="82.58" cy="326.88" r="0.85" fill="#e85c46" stroke="#c0392b" stroke-width="0.2"/>
<circle cx="65.34" cy="312.07" r="0.85" fill="#e34a34" stroke="#c0392b" stroke-width="0.2"/>
<circle cx="68.39" cy="356.54" r="0.85" fill="#e34a34" stroke="#c0392b" stroke-width="0.2"/>
<circle cx="76.37" cy="357.2" r="0.85" fill="#e34a34" stroke="#c0392b" stroke-width="0.2"/>
<circle cx="71.4" cy="326.21" r="0.85" fill="#dc412c" stroke="#c0392b" stroke-width="0.2"/>
<circle cx="83.3" cy="341.56" r="0.85" fill="#dc412c" stroke="#c0392b" stroke-width="0.2"/>
<circle cx="67.43" cy="339.18" r="0.85" fill="#e85c46" stroke="#c0392b" stroke-width="0.2"/>
<circle cx="70.14" cy="355.26" r="0.85" fill="#dc412c" stroke="#c0392b" stroke-width="0.2"/>
<circle cx="64.44" cy="355.92" r="0.85" fill="#e34a34" stroke="#c0392b" stroke-width="0.2"/>
<circle cx="69.15" cy="357.32" r="0.85" fill="#e34a34" stroke="#c0392b" stroke-width="0.2"/>
<circle cx="71.2" cy="352.25" r="0.85" fill="#e85c46" stroke="#c0392b" stroke-width="0.2"/>
<circle cx="79.58" cy="318.76" r="0.85" fill="#e34a34" stroke="#c0392b" stroke-width="0.2"/>
<circle cx="77.17" cy="349.97" r="0.85" fill="#e34a34" stroke="#c0392b" stroke-width="0.2"/>
<circle cx="79.98" cy="324.98" r="0.85" fill="#e34a34" stroke="#c0392b" stroke-width="0.2"/>
<circle cx="69.43" cy="337.57" r="0.85" fill="#e34a34" stroke="#c0392b" stroke-width="0.2"/>
<circle cx="68.9" cy="353.87" r="0.85" fill="#e34a34" stroke="#c0392b" stroke-width="0.2"/>
<circle cx="68.05" cy="326.37" r="0.85" fill="#e34a34" stroke="#c0392b" stroke-width="0.2"/>
<circle cx="65.81" cy="341.15" r="0.85" fill="#e85c46" stroke="#c0392b" stroke-width="0.2"/>
<circle cx="67.31" cy="352.08" r="0.85" fill="#dc412c" stroke="#c0392b" stroke-width="0.2"/>
<circle cx="77.17" cy="344" r="0.85" fill="#dc412c" stroke="#c0392b" stroke-width="0.2"/>
<circle cx="77.65" cy="349.04" r="0.85" fill="#e34a34" stroke="#c0392b" stroke-width="0.2"/>
<circle cx="72.93" cy="327.62" r="0.85" fill="#dc412c" stroke="#c0392b" stroke-width="0.2"/>
<circle cx="80.24" cy="363.22" r="0.85" fill="#e85c46" stroke="#c0392b" stroke-width="0.2"/>
<circle cx="67.13" cy="352.97" r="0.85" fill="#e34a34" stroke="#c0392b" stroke-width="0.2"/>
<circle cx="78.96" cy="335.19" r="0.85" fill="#e85c46" stroke="#c0392b" stroke-width="0.2"/>
<circle cx="67.48" cy="362.2" r="0.85" fill="#e34a34" stroke="#c0392b" stroke-width="0.2"/>
<circle cx="75.57" cy="332.76" r="0.85" fill="#dc412c" stroke="#c0392b" stroke-width="0.2"/>
<circle cx="81.39" cy="351.5" r="0.85" fill="#e34a34" stroke="#c0392b" stroke-width="0.2"/>
<circle cx="83.56" cy="350.74" r="0.85" fill="#e34a34" stroke="#c0392b" stroke-width="0.2"/>
<circle cx="67.76" cy="353.32" r="0.85" fill="#e34a34" stroke="#c0392b" stroke-width="0.2"/>
<circle cx="77.23" cy="353.43" r="0.85" fill="#e34a34" stroke="#c0392b" stroke-width="0.2"/>
<circle cx="74.09" cy="364.52" r="0.85" fill="#e34a34" stroke="#c0392b" stroke-width="0.2"/>
<circle cx="77.59" cy="338" r="0.85" fill="#e34a34" stroke="#c0392b" stroke-width="0.2"/>
<circle cx="69.61" cy="343.8" r="0.85" fill="#dc412c" stroke="#c0392b" stroke-width="0.2"/>
<circle cx="74.51" cy="314.62" r="0.85" fill="#dc412c" stroke="#c0392b" stroke-width="0.2"/>
<circle cx="72.37" cy="354.09" r="0.85" fill="#e34a34" stroke="#c0392b" stroke-width="0.2"/>
<circle cx="77.1" cy="336.11" r="0.85" fill="#e34a34" stroke="#c0392b" stroke-width="0.2"/>
<circle cx="79.19" cy="351.66" r="0.85" fill="#dc412c" stroke="#c0392b" stroke-width="0.2"/>
<circle cx="72.37" cy="343.48" r="0.85" fill="#dc412c" stroke="#c0392b" stroke-width="0.2"/>
<circle cx="67.51" cy="343.37" r="0.85" fill="#e85c46" stroke="#c0392b" stroke-width="0.2"/>
<circle cx="74.69" cy="336.23" r="0.85" fill="#e34a34" stroke="#c0392b" stroke-width="0.2"/>
<circle cx="74.06" cy="338.02" r="0.85" fill="#e34a34" stroke="#c0392b" stroke-width="0.2"/>
<circle cx="69.56" cy="354.62" r="0.85" fill="#e85c46" stroke="#c0392b" stroke-width="0.2"/>
<circle cx="71.16" cy="340.59" r="0.85" fill="#dc412c" stroke="#c0392b" stroke-width="0.2"/>
<circle cx="69.13" cy="337.3" r="0.85" fill="#e85c46" stroke="#c0392b" stroke-width="0.2"/>
<circle cx="79.08" cy="334.39" r="0.85" fill="#e85c46" stroke="#c0392b" stroke-width="0.2"/>
<circle cx="81.94" cy="337.58" r="0.85" fill="#dc412c" stroke="#c0392b" stroke-width="0.2"/>
<circle cx="66.69" cy="341.58" r="0.85" fill="#e85c46" stroke="#c0392b" stroke-width="0.2"/>
<circle cx="73.68" cy="337.81" r="0.85" fill="#dc412c" stroke="#c0392b" stroke-width="0.2"/>
<circle cx="80.23" cy="359.36" r="0.85" fill="#dc412c" stroke="#c0392b" stroke-width="0.2"/>
<circle cx="67.8" cy="354.68" r="0.85" fill="#e34a34" stroke="#c0392b" stroke-width="0.2"/>
<circle cx="66.46" cy="358.88" r="0.85" fill="#dc412c" stroke="#c0392b" stroke-width="0.2"/>
<circle cx="66.29" cy="335.4" r="0.85" fill="#e34a34" stroke="#c0392b" stroke-width="0.2"/>
<circle cx="64.71" cy="321.16" r="0.85" fill="#dc412c" stroke="#c0392b" stroke-width="0.2"/>
<circle cx="64.67" cy="348.08" r="0.85" fill="#dc412c" stroke="#c0392b" stroke-width="0.2"/>
<circle cx="84.15" cy="359.94" r="0.85" fill="#e34a34" stroke="#c0392b" stroke-width="0.2"/>
<circle cx="81.06" cy="365.4" r="0.85" fill="#e34a34" stroke="#c0392b" stroke-width="0.2"/>
<circle cx="72.15" cy="345.13" r="0.85" fill="#e85c46" stroke="#c0392b" stroke-width="0.2"/>
<circle cx="80.43" cy="345.95" r="0.85" fill="#e85c46" stroke="#c0392b" stroke-width="0.2"/>
<circle cx="76.19" cy="335.09" r="0.85" fill="#dc412c" stroke="#c0392b" stroke-width="0.2"/>
<circle cx="80.68" cy="357.3" r="0.85" fill="#e34a34" stroke="#c0392b" stroke-width="0.2"/>
<circle cx="82.31" cy="323.92" r="0.85" fill="#dc412c" stroke="#c0392b" stroke-width="0.2"/>
<circle cx="67.63" cy="342.41" r="0.85" fill="#dc412c" stroke="#c0392b" stroke-width="0.2"/>
<circle cx="79.84" cy="346.04" r="0.85" fill="#dc412c" stroke="#c0392b" stroke-width="0.2"/>
<circle cx="74.03" cy="327.43" r="0.85" fill="#dc412c" stroke="#c0392b" stroke-width="0.2"/>
<circle cx="64.53" cy="340.81" r="0.85" fill="#dc412c" stroke="#c0392b" stroke-width="0.2"/>
<circle cx="76.41" cy="358.73" r="0.85" fill="#e34a34" stroke="#c0392b" stroke-width="0.2"/>
<circle cx="74.48" cy="334.94" r="0.85" fill="#e34a34" stroke="#c0392b" stroke-width="0.2"/>
<circle cx="75.43" cy="354.36" r="0.85" fill="#e34a34" stroke="#c0392b" stroke-width="0.2"/>
<circle cx="80.93" cy="332.75" r="0.85" fill="#e34a34" stroke="#c0392b" stroke-width="0.2"/>
<circle cx="77.24" cy="358.11" r="0.85" fill="#e85c46" stroke="#c0392b" stroke-width="0.2"/>
<circle cx="71.05" cy="363.5" r="0.85" fill="#e85c46" stroke="#c0392b" stroke-width="0.2"/>
<circle cx="70.22" cy="352.53" r="0.85" fill="#e34a34" stroke="#c0392b" stroke-width="0.2"/>
<circle cx="64.04" cy="356.04" r="0.85" fill="#e34a34" stroke="#c0392b" stroke-width="0.2"/>
<circle cx="83.07" cy="353" r="0.85" fill="#e34a34" stroke="#c0392b" stroke-width="0.2"/>
<circle cx="80.17" cy="323.25" r="0.85" fill="#e34a34" stroke="#c0392b" stroke-width="0.2"/>
<circle cx="69.09" cy="318.58" r="0.85" fill="#e34a34" stroke="#c0392b" stroke-width="0.2"/>
<circle cx="69.46" cy="359.78" r="0.85" fill="#e85c46" stroke="#c0392b" stroke-width="0.2"/>
<circle cx="66.1" cy="323.31" r="0.85" fill="#e85c46" stroke="#c0392b" stroke-width="0.2"/>
<circle cx="65.22" cy="346.63" r="0.85" fill="#e85c46" stroke="#c0392b" stroke-width="0.2"/>
<circle cx="79.74" cy="344.63" r="0.85" fill="#e85c46" stroke="#c0392b" stroke-width="0.2"/>
<circle cx="73.94" cy="341.59" r="0.85" fill="#dc412c" stroke="#c0392b" stroke-width="0.2"/>
<circle cx="73.84" cy="369.34" r="0.85" fill="#dc412c" stroke="#c0392b" stroke-width="0.2"/>
<circle cx="75.59" cy="336.08" r="0.85" fill="#dc412c" stroke="#c0392b" stroke-width="0.2"/>
<circle cx="64.41" cy="339.19" r="0.85" fill="#dc412c" stroke="#c0392b" stroke-width="0.2"/>
<circle cx="85.01" cy="332.94" r="0.85" fill="#dc412c" stroke="#c0392b" stroke-width="0.2"/>
<circle cx="75.41" cy="320.05" r="0.85" fill="#dc412c" stroke="#c0392b" stroke-width="0.2"/>
<circle cx="65.61" cy="336.19" r="0.85" fill="#dc412c" stroke="#c0392b" stroke-width="0.2"/>
<circle cx="84.47" cy="350.68" r="0.85" fill="#dc412c" stroke="#c0392b" stroke-width="0.2"/>
<circle cx="81.3" cy="348.66" r="0.85" fill="#dc412c" stroke="#c0392b" stroke-width="0.2"/>
<circle cx="84.53" cy="338.76" r="0.85" fill="#e34a34" stroke="#c0392b" stroke-width="0.2"/>
<circle cx="74.71" cy="357.18" r="0.85" fill="#e34a34" stroke="#c0392b" stroke-width="0.2"/>
<circle cx="67.58" cy="336" r="0.85" fill="#e34a34" stroke="#c0392b" stroke-width="0.2"/>
<circle cx="76.07" cy="358.18" r="0.85" fill="#dc412c" stroke="#c0392b" stroke-width="0.2"/>
<circle cx="66.35" cy="357.78" r="0.85" fill="#e85c46" stroke="#c0392b" stroke-width="0.2"/>
<circle cx="64.83" cy="349.89" r="0.85" fill="#dc412c" stroke="#c0392b" stroke-width="0.2"/>
<circle cx="67.39" cy="343.03" r="0.85" fill="#e34a34" stroke="#c0392b" stroke-width="0.2"/>
<circle cx="72.45" cy="327.09" r="0.85" fill="#e85c46" stroke="#c0392b" stroke-width="0.2"/>
<circle cx="69.79" cy="352.59" r="0.85" fill="#e85c46" stroke="#c0392b" stroke-width="0.2"/>
<circle cx="74.18" cy="334.52" r="0.85" fill="#e34a34" stroke="#c0392b" stroke-width="0.2"/>
<circle cx="74.04" cy="357.82" r="0.85" fill="#e34a34" stroke="#c0392b" stroke-width="0.2"/>
<circle cx="77.31" cy="331.5" r="0.85" fill="#dc412c" stroke="#c0392b" stroke-width="0.2"/>
<circle cx="69.77" cy="324.24" r="0.85" fill="#e34a34" stroke="#c0392b" stroke-width="0.2"/>
<circle cx="68.64" cy="368.62" r="0.85" fill="#dc412c" stroke="#c0392b" stroke-width="0.2"/>
<circle cx="80.37" cy="319.22" r="0.85" fill="#dc412c" stroke="#c0392b" stroke-width="0.2"/>
<circle cx="78" cy="344.47" r="0.85" fill="#e34a34" stroke="#c0392b" stroke-width="0.2"/>
<circle cx="83.33" cy="367.59" r="0.85" fill="#e85c46" stroke="#c0392b" stroke-width="0.2"/>
<circle cx="67" cy="308" r="0.85" fill="#e85c46" stroke="#c0392b" stroke-width="0.2"/>
<circle cx="74.6" cy="309" r="0.85" fill="#dc412c" stroke="#c0392b" stroke-width="0.2"/>
<circle cx="80" cy="312" r="0.85" fill="#e85c46" stroke="#c0392b" stroke-width="0.2"/>
<circle cx="66" cy="313.4" r="0.85" fill="#e85c46" stroke="#c0392b" stroke-width="0.2"/>
<circle cx="83" cy="315" r="0.85" fill="#dc412c" stroke="#c0392b" stroke-width="0.2"/>
<circle cx="80.64" cy="325.36" r="0.5" fill="#fff" opacity="0.75"/>
<circle cx="78.21" cy="339.92" r="0.5" fill="#fff" opacity="0.75"/>
<circle cx="66.08" cy="340.61" r="0.5" fill="#fff" opacity="0.75"/>
<circle cx="76.42" cy="325.83" r="0.5" fill="#fff" opacity="0.75"/>
<circle cx="68.1" cy="350.3" r="0.5" fill="#fff" opacity="0.75"/>
<circle cx="70.03" cy="353.55" r="0.5" fill="#fff" opacity="0.75"/>
<circle cx="72.6" cy="346.76" r="0.5" fill="#fff" opacity="0.75"/>
<circle cx="72.16" cy="325.58" r="0.5" fill="#fff" opacity="0.75"/>
<circle cx="77.86" cy="334.59" r="0.5" fill="#fff" opacity="0.75"/>
<circle cx="75.7" cy="348.13" r="0.5" fill="#fff" opacity="0.75"/>
<circle cx="75.57" cy="331.24" r="0.5" fill="#fff" opacity="0.75"/>
<circle cx="68.19" cy="352.33" r="0.5" fill="#fff" opacity="0.75"/>
<circle cx="82.17" cy="336.1" r="0.5" fill="#fff" opacity="0.75"/>
<circle cx="76.85" cy="356.75" r="0.5" fill="#fff" opacity="0.75"/>
<circle cx="67.96" cy="341.69" r="0.5" fill="#fff" opacity="0.75"/>
<circle cx="80.04" cy="346.56" r="0.5" fill="#fff" opacity="0.75"/>
<circle cx="75.99" cy="351.1" r="0.5" fill="#fff" opacity="0.75"/>
<circle cx="72.16" cy="332.39" r="0.5" fill="#fff" opacity="0.75"/>
<circle cx="71.04" cy="335.42" r="0.5" fill="#fff" opacity="0.75"/>
<circle cx="73.5" cy="328.97" r="0.5" fill="#fff" opacity="0.75"/>
<circle cx="81.09" cy="346.29" r="0.5" fill="#fff" opacity="0.75"/>
<circle cx="78.46" cy="346.72" r="0.5" fill="#fff" opacity="0.75"/>
<circle cx="79.72" cy="339.75" r="0.5" fill="#fff" opacity="0.75"/>
<circle cx="70.07" cy="332.23" r="0.5" fill="#fff" opacity="0.75"/>
<circle cx="67.26" cy="356.89" r="0.5" fill="#fff" opacity="0.75"/>
<circle cx="78" cy="345.95" r="0.5" fill="#fff" opacity="0.75"/>
<circle cx="76.62" cy="339.25" r="0.5" fill="#fff" opacity="0.75"/>
<circle cx="75.02" cy="326.34" r="0.5" fill="#fff" opacity="0.75"/>
<line x1="68.4" y1="343" x2="78.9" y2="343" stroke="#6e0d0d" stroke-width="0.8" />
<line x1="74.6" y1="328" x2="74.6" y2="358" stroke="#6e0d0d" stroke-width="0.8" />
<line x1="34" y1="362" x2="46" y2="362" stroke="#124a57" stroke-width="0.8" />
<line x1="40.4" y1="354.4" x2="40.4" y2="371.3" stroke="#124a57" stroke-width="0.8" />
<line x1="122.8" y1="196.5" x2="122.8" y2="282.4" stroke="#222" stroke-width="0.6" />
<line x1="122.8" y1="282.1" x2="198.3" y2="282.1" stroke="#222" stroke-width="0.6" />
<line x1="121.3" y1="282.1" x2="122.8" y2="282.1" stroke="#222" stroke-width="0.5" />
<text x="119.9" y="283.4" font-size="3.8" text-anchor="end" font-weight="normal" fill="#333" >0</text>
<line x1="121.3" y1="261.06" x2="122.8" y2="261.06" stroke="#222" stroke-width="0.5" />
<text x="119.9" y="262.36" font-size="3.8" text-anchor="end" font-weight="normal" fill="#333" >2</text>
<line x1="121.3" y1="240.02" x2="122.8" y2="240.02" stroke="#222" stroke-width="0.5" />
<text x="119.9" y="241.32" font-size="3.8" text-anchor="end" font-weight="normal" fill="#333" >4</text>
<line x1="121.3" y1="218.98" x2="122.8" y2="218.98" stroke="#222" stroke-width="0.5" />
<text x="119.9" y="220.28" font-size="3.8" text-anchor="end" font-weight="normal" fill="#333" >6</text>
<line x1="121.3" y1="197.94" x2="122.8" y2="197.94" stroke="#222" stroke-width="0.5" />
<text x="119.9" y="199.24" font-size="3.8" text-anchor="end" font-weight="normal" fill="#333" >8</text>
<line x1="143.4" y1="282.1" x2="143.4" y2="283.5" stroke="#222" stroke-width="0.5" />
<line x1="177.6" y1="282.1" x2="177.6" y2="283.5" stroke="#222" stroke-width="0.5" />
<text x="143.4" y="288.7" font-size="4.1" text-anchor="middle" font-weight="normal" fill="#333" >Normal</text>
<text x="177.6" y="288.7" font-size="4.1" text-anchor="middle" font-weight="normal" fill="#333" >Tumor</text>
<text x="158.2" y="195" font-size="6.4" text-anchor="middle" font-weight="normal" fill="#222" >LUAD</text>
<text x="103.6" y="195.6" font-size="6.8" text-anchor="start" font-weight="bold" fill="#111" >G</text>
<text transform="translate(109.5,239.3) rotate(-90)" font-size="4.45" text-anchor="middle" fill="#333">The expression of MDFI</text>
<text transform="translate(114,236.3) rotate(-90)" font-size="4.45" text-anchor="middle" fill="#333">Log<tspan font-size="3.1" dy="0.9">2</tspan><tspan dy="-0.9"> (TPM+1)</tspan></text>
<path d="M143.6,202.4 V200.5 H178.1 V202.4" fill="none" stroke="#333" stroke-width="0.7"/>
<text x="160.4" y="199.9" font-size="3.2" text-anchor="middle" font-weight="normal" fill="#444" >***</text>
<rect x="142.5" y="246.9" width="1.9" height="25.1" fill="#39a9c2" stroke="none" stroke-width="0" rx="0.8"/>
<rect x="176.6" y="234.1" width="2" height="35" fill="#d24a3c" stroke="none" stroke-width="0" rx="0.8"/>
<line x1="143.4" y1="262.39" x2="177.6" y2="261.03" stroke="#000" stroke-width="0.6" />
<line x1="143.4" y1="265.18" x2="177.6" y2="256.58" stroke="#000" stroke-width="0.6" />
<line x1="143.4" y1="248.19" x2="177.6" y2="251.33" stroke="#000" stroke-width="0.6" />
<line x1="143.4" y1="269.03" x2="177.6" y2="243.48" stroke="#000" stroke-width="0.6" />
<line x1="143.4" y1="258.71" x2="177.6" y2="240.66" stroke="#000" stroke-width="0.6" />
<line x1="143.4" y1="247.81" x2="177.6" y2="239.11" stroke="#000" stroke-width="0.6" />
<line x1="143.4" y1="254.18" x2="177.6" y2="260.49" stroke="#000" stroke-width="0.6" />
<line x1="143.4" y1="266.55" x2="177.6" y2="242.97" stroke="#000" stroke-width="0.6" />
<line x1="143.4" y1="262.26" x2="177.6" y2="249.97" stroke="#000" stroke-width="0.6" />
<line x1="143.4" y1="252.51" x2="177.6" y2="242.01" stroke="#000" stroke-width="0.6" />
<line x1="143.4" y1="270.98" x2="177.6" y2="263.01" stroke="#000" stroke-width="0.6" />
<line x1="143.4" y1="260.39" x2="177.6" y2="264.8" stroke="#000" stroke-width="0.6" />
<line x1="143.4" y1="252.39" x2="177.6" y2="257.07" stroke="#000" stroke-width="0.6" />
<line x1="143.4" y1="268.86" x2="177.6" y2="241.62" stroke="#000" stroke-width="0.6" />
<line x1="143.4" y1="256.13" x2="177.6" y2="242.72" stroke="#000" stroke-width="0.6" />
<line x1="143.4" y1="254.7" x2="177.6" y2="253.52" stroke="#000" stroke-width="0.6" />
<line x1="143.4" y1="247.58" x2="177.6" y2="250.39" stroke="#000" stroke-width="0.6" />
<line x1="143.4" y1="267.06" x2="177.6" y2="256.28" stroke="#000" stroke-width="0.6" />
<line x1="143.4" y1="255.05" x2="177.6" y2="249.24" stroke="#000" stroke-width="0.6" />
<line x1="143.4" y1="270.8" x2="177.6" y2="242.41" stroke="#000" stroke-width="0.6" />
<line x1="143.4" y1="265.42" x2="177.6" y2="268.37" stroke="#000" stroke-width="0.6" />
<line x1="143.4" y1="256.25" x2="177.6" y2="253.13" stroke="#000" stroke-width="0.6" />
<line x1="143.4" y1="247.72" x2="177.6" y2="239.5" stroke="#000" stroke-width="0.6" />
<line x1="143.4" y1="252.2" x2="177.6" y2="263.16" stroke="#000" stroke-width="0.6" />
<line x1="143.4" y1="269.72" x2="177.6" y2="264.67" stroke="#000" stroke-width="0.6" />
<line x1="143.4" y1="260.04" x2="177.6" y2="261.42" stroke="#000" stroke-width="0.6" />
<line x1="143.4" y1="250.08" x2="177.6" y2="256.54" stroke="#000" stroke-width="0.6" />
<line x1="143.4" y1="248.38" x2="177.6" y2="252.58" stroke="#000" stroke-width="0.6" />
<line x1="143.4" y1="249.68" x2="177.6" y2="238.31" stroke="#000" stroke-width="0.6" />
<line x1="143.4" y1="255.63" x2="177.6" y2="256.15" stroke="#000" stroke-width="0.6" />
<line x1="143.4" y1="260.53" x2="177.6" y2="246.37" stroke="#000" stroke-width="0.6" />
<line x1="143.4" y1="249.37" x2="177.6" y2="241.06" stroke="#000" stroke-width="0.6" />
<line x1="143.4" y1="263.97" x2="177.6" y2="266.35" stroke="#000" stroke-width="0.6" />
<line x1="143.4" y1="271.08" x2="177.6" y2="257.47" stroke="#000" stroke-width="0.6" />
<line x1="143.4" y1="257.2" x2="177.6" y2="238.89" stroke="#000" stroke-width="0.6" />
<line x1="143.4" y1="258.39" x2="177.6" y2="245.72" stroke="#000" stroke-width="0.6" />
<line x1="143.4" y1="248.83" x2="177.6" y2="262.25" stroke="#000" stroke-width="0.6" />
<line x1="143.4" y1="267.54" x2="177.6" y2="245.9" stroke="#000" stroke-width="0.6" />
<line x1="143.4" y1="264.99" x2="177.6" y2="260.9" stroke="#000" stroke-width="0.6" />
<line x1="143.4" y1="250.05" x2="177.6" y2="242.27" stroke="#000" stroke-width="0.6" />
<line x1="143.4" y1="251.07" x2="177.6" y2="256.34" stroke="#000" stroke-width="0.6" />
<line x1="143.4" y1="271.38" x2="177.6" y2="268.32" stroke="#000" stroke-width="0.6" />
<line x1="143.4" y1="270.83" x2="177.6" y2="248.99" stroke="#000" stroke-width="0.6" />
<line x1="143.4" y1="258.95" x2="177.6" y2="246.53" stroke="#000" stroke-width="0.6" />
<line x1="143.4" y1="257.15" x2="177.6" y2="234.7" stroke="#000" stroke-width="0.6" />
<line x1="143.4" y1="270.44" x2="177.6" y2="265.75" stroke="#000" stroke-width="0.6" />
<line x1="143.4" y1="259.43" x2="177.6" y2="249.78" stroke="#000" stroke-width="0.6" />
<line x1="143.4" y1="266.19" x2="177.6" y2="264.73" stroke="#000" stroke-width="0.6" />
<line x1="143.4" y1="256.14" x2="177.6" y2="258.49" stroke="#000" stroke-width="0.6" />
<line x1="143.4" y1="263.37" x2="177.6" y2="254.43" stroke="#000" stroke-width="0.6" />
<line x1="143.4" y1="256.19" x2="177.6" y2="254.88" stroke="#000" stroke-width="0.6" />
<line x1="143.4" y1="265.9" x2="177.6" y2="262.54" stroke="#000" stroke-width="0.6" />
<line x1="143.4" y1="254.52" x2="177.6" y2="258.53" stroke="#000" stroke-width="0.6" />
<line x1="143.4" y1="247.78" x2="177.6" y2="245.06" stroke="#000" stroke-width="0.6" />
<line x1="143.4" y1="253.49" x2="177.6" y2="247.79" stroke="#000" stroke-width="0.6" />
<line x1="143.4" y1="262.97" x2="177.6" y2="261.83" stroke="#000" stroke-width="0.6" />
<line x1="143.4" y1="255.81" x2="177.6" y2="253.48" stroke="#000" stroke-width="0.6" />
<line x1="143.4" y1="263" x2="177.6" y2="202.2" stroke="#000" stroke-width="0.6" />
<line x1="143.4" y1="241.5" x2="177.6" y2="229.2" stroke="#000" stroke-width="0.6" />
<line x1="143.4" y1="241.5" x2="177.6" y2="240" stroke="#000" stroke-width="0.6" />
<line x1="143.4" y1="255.7" x2="177.6" y2="276.7" stroke="#000" stroke-width="0.6" />
<line x1="143.4" y1="249" x2="177.6" y2="236" stroke="#000" stroke-width="0.6" />
<circle cx="143.4" cy="262.39" r="0.85" fill="#39a9c2"/>
<circle cx="177.6" cy="261.03" r="0.85" fill="#d24a3c"/>
<circle cx="143.4" cy="265.18" r="0.85" fill="#39a9c2"/>
<circle cx="177.6" cy="256.58" r="0.85" fill="#d24a3c"/>
<circle cx="143.4" cy="248.19" r="0.85" fill="#39a9c2"/>
<circle cx="177.6" cy="251.33" r="0.85" fill="#d24a3c"/>
<circle cx="143.4" cy="269.03" r="0.85" fill="#39a9c2"/>
<circle cx="177.6" cy="243.48" r="0.85" fill="#d24a3c"/>
<circle cx="143.4" cy="258.71" r="0.85" fill="#39a9c2"/>
<circle cx="177.6" cy="240.66" r="0.85" fill="#d24a3c"/>
<circle cx="143.4" cy="247.81" r="0.85" fill="#39a9c2"/>
<circle cx="177.6" cy="239.11" r="0.85" fill="#d24a3c"/>
<circle cx="143.4" cy="254.18" r="0.85" fill="#39a9c2"/>
<circle cx="177.6" cy="260.49" r="0.85" fill="#d24a3c"/>
<circle cx="143.4" cy="266.55" r="0.85" fill="#39a9c2"/>
<circle cx="177.6" cy="242.97" r="0.85" fill="#d24a3c"/>
<circle cx="143.4" cy="262.26" r="0.85" fill="#39a9c2"/>
<circle cx="177.6" cy="249.97" r="0.85" fill="#d24a3c"/>
<circle cx="143.4" cy="252.51" r="0.85" fill="#39a9c2"/>
<circle cx="177.6" cy="242.01" r="0.85" fill="#d24a3c"/>
<circle cx="143.4" cy="270.98" r="0.85" fill="#39a9c2"/>
<circle cx="177.6" cy="263.01" r="0.85" fill="#d24a3c"/>
<circle cx="143.4" cy="260.39" r="0.85" fill="#39a9c2"/>
<circle cx="177.6" cy="264.8" r="0.85" fill="#d24a3c"/>
<circle cx="143.4" cy="252.39" r="0.85" fill="#39a9c2"/>
<circle cx="177.6" cy="257.07" r="0.85" fill="#d24a3c"/>
<circle cx="143.4" cy="268.86" r="0.85" fill="#39a9c2"/>
<circle cx="177.6" cy="241.62" r="0.85" fill="#d24a3c"/>
<circle cx="143.4" cy="256.13" r="0.85" fill="#39a9c2"/>
<circle cx="177.6" cy="242.72" r="0.85" fill="#d24a3c"/>
<circle cx="143.4" cy="254.7" r="0.85" fill="#39a9c2"/>
<circle cx="177.6" cy="253.52" r="0.85" fill="#d24a3c"/>
<circle cx="143.4" cy="247.58" r="0.85" fill="#39a9c2"/>
<circle cx="177.6" cy="250.39" r="0.85" fill="#d24a3c"/>
<circle cx="143.4" cy="267.06" r="0.85" fill="#39a9c2"/>
<circle cx="177.6" cy="256.28" r="0.85" fill="#d24a3c"/>
<circle cx="143.4" cy="255.05" r="0.85" fill="#39a9c2"/>
<circle cx="177.6" cy="249.24" r="0.85" fill="#d24a3c"/>
<circle cx="143.4" cy="270.8" r="0.85" fill="#39a9c2"/>
<circle cx="177.6" cy="242.41" r="0.85" fill="#d24a3c"/>
<circle cx="143.4" cy="265.42" r="0.85" fill="#39a9c2"/>
<circle cx="177.6" cy="268.37" r="0.85" fill="#d24a3c"/>
<circle cx="143.4" cy="256.25" r="0.85" fill="#39a9c2"/>
<circle cx="177.6" cy="253.13" r="0.85" fill="#d24a3c"/>
<circle cx="143.4" cy="247.72" r="0.85" fill="#39a9c2"/>
<circle cx="177.6" cy="239.5" r="0.85" fill="#d24a3c"/>
<circle cx="143.4" cy="252.2" r="0.85" fill="#39a9c2"/>
<circle cx="177.6" cy="263.16" r="0.85" fill="#d24a3c"/>
<circle cx="143.4" cy="269.72" r="0.85" fill="#39a9c2"/>
<circle cx="177.6" cy="264.67" r="0.85" fill="#d24a3c"/>
<circle cx="143.4" cy="260.04" r="0.85" fill="#39a9c2"/>
<circle cx="177.6" cy="261.42" r="0.85" fill="#d24a3c"/>
<circle cx="143.4" cy="250.08" r="0.85" fill="#39a9c2"/>
<circle cx="177.6" cy="256.54" r="0.85" fill="#d24a3c"/>
<circle cx="143.4" cy="248.38" r="0.85" fill="#39a9c2"/>
<circle cx="177.6" cy="252.58" r="0.85" fill="#d24a3c"/>
<circle cx="143.4" cy="249.68" r="0.85" fill="#39a9c2"/>
<circle cx="177.6" cy="238.31" r="0.85" fill="#d24a3c"/>
<circle cx="143.4" cy="255.63" r="0.85" fill="#39a9c2"/>
<circle cx="177.6" cy="256.15" r="0.85" fill="#d24a3c"/>
<circle cx="143.4" cy="260.53" r="0.85" fill="#39a9c2"/>
<circle cx="177.6" cy="246.37" r="0.85" fill="#d24a3c"/>
<circle cx="143.4" cy="249.37" r="0.85" fill="#39a9c2"/>
<circle cx="177.6" cy="241.06" r="0.85" fill="#d24a3c"/>
<circle cx="143.4" cy="263.97" r="0.85" fill="#39a9c2"/>
<circle cx="177.6" cy="266.35" r="0.85" fill="#d24a3c"/>
<circle cx="143.4" cy="271.08" r="0.85" fill="#39a9c2"/>
<circle cx="177.6" cy="257.47" r="0.85" fill="#d24a3c"/>
<circle cx="143.4" cy="257.2" r="0.85" fill="#39a9c2"/>
<circle cx="177.6" cy="238.89" r="0.85" fill="#d24a3c"/>
<circle cx="143.4" cy="258.39" r="0.85" fill="#39a9c2"/>
<circle cx="177.6" cy="245.72" r="0.85" fill="#d24a3c"/>
<circle cx="143.4" cy="248.83" r="0.85" fill="#39a9c2"/>
<circle cx="177.6" cy="262.25" r="0.85" fill="#d24a3c"/>
<circle cx="143.4" cy="267.54" r="0.85" fill="#39a9c2"/>
<circle cx="177.6" cy="245.9" r="0.85" fill="#d24a3c"/>
<circle cx="143.4" cy="264.99" r="0.85" fill="#39a9c2"/>
<circle cx="177.6" cy="260.9" r="0.85" fill="#d24a3c"/>
<circle cx="143.4" cy="250.05" r="0.85" fill="#39a9c2"/>
<circle cx="177.6" cy="242.27" r="0.85" fill="#d24a3c"/>
<circle cx="143.4" cy="251.07" r="0.85" fill="#39a9c2"/>
<circle cx="177.6" cy="256.34" r="0.85" fill="#d24a3c"/>
<circle cx="143.4" cy="271.38" r="0.85" fill="#39a9c2"/>
<circle cx="177.6" cy="268.32" r="0.85" fill="#d24a3c"/>
<circle cx="143.4" cy="270.83" r="0.85" fill="#39a9c2"/>
<circle cx="177.6" cy="248.99" r="0.85" fill="#d24a3c"/>
<circle cx="143.4" cy="258.95" r="0.85" fill="#39a9c2"/>
<circle cx="177.6" cy="246.53" r="0.85" fill="#d24a3c"/>
<circle cx="143.4" cy="257.15" r="0.85" fill="#39a9c2"/>
<circle cx="177.6" cy="234.7" r="0.85" fill="#d24a3c"/>
<circle cx="143.4" cy="270.44" r="0.85" fill="#39a9c2"/>
<circle cx="177.6" cy="265.75" r="0.85" fill="#d24a3c"/>
<circle cx="143.4" cy="259.43" r="0.85" fill="#39a9c2"/>
<circle cx="177.6" cy="249.78" r="0.85" fill="#d24a3c"/>
<circle cx="143.4" cy="266.19" r="0.85" fill="#39a9c2"/>
<circle cx="177.6" cy="264.73" r="0.85" fill="#d24a3c"/>
<circle cx="143.4" cy="256.14" r="0.85" fill="#39a9c2"/>
<circle cx="177.6" cy="258.49" r="0.85" fill="#d24a3c"/>
<circle cx="143.4" cy="263.37" r="0.85" fill="#39a9c2"/>
<circle cx="177.6" cy="254.43" r="0.85" fill="#d24a3c"/>
<circle cx="143.4" cy="256.19" r="0.85" fill="#39a9c2"/>
<circle cx="177.6" cy="254.88" r="0.85" fill="#d24a3c"/>
<circle cx="143.4" cy="265.9" r="0.85" fill="#39a9c2"/>
<circle cx="177.6" cy="262.54" r="0.85" fill="#d24a3c"/>
<circle cx="143.4" cy="254.52" r="0.85" fill="#39a9c2"/>
<circle cx="177.6" cy="258.53" r="0.85" fill="#d24a3c"/>
<circle cx="143.4" cy="247.78" r="0.85" fill="#39a9c2"/>
<circle cx="177.6" cy="245.06" r="0.85" fill="#d24a3c"/>
<circle cx="143.4" cy="253.49" r="0.85" fill="#39a9c2"/>
<circle cx="177.6" cy="247.79" r="0.85" fill="#d24a3c"/>
<circle cx="143.4" cy="262.97" r="0.85" fill="#39a9c2"/>
<circle cx="177.6" cy="261.83" r="0.85" fill="#d24a3c"/>
<circle cx="143.4" cy="255.81" r="0.85" fill="#39a9c2"/>
<circle cx="177.6" cy="253.48" r="0.85" fill="#d24a3c"/>
<circle cx="143.4" cy="263" r="0.85" fill="#39a9c2"/>
<circle cx="177.6" cy="202.2" r="0.85" fill="#d24a3c"/>
<circle cx="143.4" cy="241.5" r="0.85" fill="#39a9c2"/>
<circle cx="177.6" cy="229.2" r="0.85" fill="#d24a3c"/>
<circle cx="143.4" cy="241.5" r="0.85" fill="#39a9c2"/>
<circle cx="177.6" cy="240" r="0.85" fill="#d24a3c"/>
<circle cx="143.4" cy="255.7" r="0.85" fill="#39a9c2"/>
<circle cx="177.6" cy="276.7" r="0.85" fill="#d24a3c"/>
<circle cx="143.4" cy="249" r="0.85" fill="#39a9c2"/>
<circle cx="177.6" cy="236" r="0.85" fill="#d24a3c"/>
<line x1="122.8" y1="303" x2="122.8" y2="386.9" stroke="#222" stroke-width="0.6" />
<line x1="122.8" y1="386.6" x2="198.3" y2="386.6" stroke="#222" stroke-width="0.6" />
<line x1="121.3" y1="379" x2="122.8" y2="379" stroke="#222" stroke-width="0.5" />
<text x="119.9" y="380.3" font-size="3.8" text-anchor="end" font-weight="normal" fill="#333" >1</text>
<line x1="121.3" y1="364.2" x2="122.8" y2="364.2" stroke="#222" stroke-width="0.5" />
<text x="119.9" y="365.5" font-size="3.8" text-anchor="end" font-weight="normal" fill="#333" >2</text>
<line x1="121.3" y1="349.4" x2="122.8" y2="349.4" stroke="#222" stroke-width="0.5" />
<text x="119.9" y="350.7" font-size="3.8" text-anchor="end" font-weight="normal" fill="#333" >3</text>
<line x1="121.3" y1="334.6" x2="122.8" y2="334.6" stroke="#222" stroke-width="0.5" />
<text x="119.9" y="335.9" font-size="3.8" text-anchor="end" font-weight="normal" fill="#333" >4</text>
<line x1="121.3" y1="319.8" x2="122.8" y2="319.8" stroke="#222" stroke-width="0.5" />
<text x="119.9" y="321.1" font-size="3.8" text-anchor="end" font-weight="normal" fill="#333" >5</text>
<line x1="121.3" y1="305" x2="122.8" y2="305" stroke="#222" stroke-width="0.5" />
<text x="119.9" y="306.3" font-size="3.8" text-anchor="end" font-weight="normal" fill="#333" >6</text>
<line x1="143.4" y1="386.6" x2="143.4" y2="388" stroke="#222" stroke-width="0.5" />
<line x1="177.6" y1="386.6" x2="177.6" y2="388" stroke="#222" stroke-width="0.5" />
<text x="143.4" y="393.2" font-size="4.1" text-anchor="middle" font-weight="normal" fill="#333" >Normal</text>
<text x="177.6" y="393.2" font-size="4.1" text-anchor="middle" font-weight="normal" fill="#333" >Tumor</text>
<text x="157.3" y="300.9" font-size="6.4" text-anchor="middle" font-weight="normal" fill="#222" >LUSC</text>
<text x="104.6" y="300.6" font-size="6.8" text-anchor="start" font-weight="bold" fill="#111" >J</text>
<text transform="translate(109.5,344.8) rotate(-90)" font-size="4.45" text-anchor="middle" fill="#333">The expression of MDFI</text>
<text transform="translate(114,341.8) rotate(-90)" font-size="4.45" text-anchor="middle" fill="#333">Log<tspan font-size="3.1" dy="0.9">2</tspan><tspan dy="-0.9"> (TPM+1)</tspan></text>
<path d="M143.6,308.5 V306.6 H178.1 V308.5" fill="none" stroke="#333" stroke-width="0.7"/>
<text x="160.4" y="306" font-size="3.2" text-anchor="middle" font-weight="normal" fill="#444" >***</text>
<rect x="142.5" y="345.1" width="1.9" height="29.4" fill="#39a9c2" stroke="none" stroke-width="0" rx="0.8"/>
<rect x="176.6" y="306.4" width="2" height="54.2" fill="#d24a3c" stroke="none" stroke-width="0" rx="0.8"/>
<line x1="143.4" y1="358.76" x2="177.6" y2="336.02" stroke="#000" stroke-width="0.6" />
<line x1="143.4" y1="345.88" x2="177.6" y2="328.63" stroke="#000" stroke-width="0.6" />
<line x1="143.4" y1="371.03" x2="177.6" y2="326.03" stroke="#000" stroke-width="0.6" />
<line x1="143.4" y1="346.85" x2="177.6" y2="315.67" stroke="#000" stroke-width="0.6" />
<line x1="143.4" y1="365.54" x2="177.6" y2="337.14" stroke="#000" stroke-width="0.6" />
<line x1="143.4" y1="352.41" x2="177.6" y2="313.19" stroke="#000" stroke-width="0.6" />
<line x1="143.4" y1="359.98" x2="177.6" y2="337.19" stroke="#000" stroke-width="0.6" />
<line x1="143.4" y1="356.52" x2="177.6" y2="332.02" stroke="#000" stroke-width="0.6" />
<line x1="143.4" y1="348.57" x2="177.6" y2="313.5" stroke="#000" stroke-width="0.6" />
<line x1="143.4" y1="357.59" x2="177.6" y2="312.92" stroke="#000" stroke-width="0.6" />
<line x1="143.4" y1="353.22" x2="177.6" y2="317.75" stroke="#000" stroke-width="0.6" />
<line x1="143.4" y1="351.33" x2="177.6" y2="345.24" stroke="#000" stroke-width="0.6" />
<line x1="143.4" y1="370.5" x2="177.6" y2="327.29" stroke="#000" stroke-width="0.6" />
<line x1="143.4" y1="346.36" x2="177.6" y2="323.13" stroke="#000" stroke-width="0.6" />
<line x1="143.4" y1="371.26" x2="177.6" y2="331.78" stroke="#000" stroke-width="0.6" />
<line x1="143.4" y1="362.02" x2="177.6" y2="344.52" stroke="#000" stroke-width="0.6" />
<line x1="143.4" y1="351.43" x2="177.6" y2="318.31" stroke="#000" stroke-width="0.6" />
<line x1="143.4" y1="346.19" x2="177.6" y2="313.02" stroke="#000" stroke-width="0.6" />
<line x1="143.4" y1="359.71" x2="177.6" y2="339.89" stroke="#000" stroke-width="0.6" />
<line x1="143.4" y1="363.71" x2="177.6" y2="328.97" stroke="#000" stroke-width="0.6" />
<line x1="143.4" y1="362.05" x2="177.6" y2="316.58" stroke="#000" stroke-width="0.6" />
<line x1="143.4" y1="347.23" x2="177.6" y2="314.7" stroke="#000" stroke-width="0.6" />
<line x1="143.4" y1="362.8" x2="177.6" y2="325.05" stroke="#000" stroke-width="0.6" />
<line x1="143.4" y1="373.84" x2="177.6" y2="353.76" stroke="#000" stroke-width="0.6" />
<line x1="143.4" y1="365.59" x2="177.6" y2="351.5" stroke="#000" stroke-width="0.6" />
<line x1="143.4" y1="346.91" x2="177.6" y2="325.1" stroke="#000" stroke-width="0.6" />
<line x1="143.4" y1="364.71" x2="177.6" y2="340.85" stroke="#000" stroke-width="0.6" />
<line x1="143.4" y1="355.49" x2="177.6" y2="336.87" stroke="#000" stroke-width="0.6" />
<line x1="143.4" y1="362.17" x2="177.6" y2="321.78" stroke="#000" stroke-width="0.6" />
<line x1="143.4" y1="361.9" x2="177.6" y2="331.65" stroke="#000" stroke-width="0.6" />
<line x1="143.4" y1="368.24" x2="177.6" y2="333.54" stroke="#000" stroke-width="0.6" />
<line x1="143.4" y1="358.22" x2="177.6" y2="328.86" stroke="#000" stroke-width="0.6" />
<line x1="143.4" y1="348.2" x2="177.6" y2="333.44" stroke="#000" stroke-width="0.6" />
<line x1="143.4" y1="346.42" x2="177.6" y2="333.96" stroke="#000" stroke-width="0.6" />
<line x1="143.4" y1="368.47" x2="177.6" y2="340.57" stroke="#000" stroke-width="0.6" />
<line x1="143.4" y1="366.5" x2="177.6" y2="333.93" stroke="#000" stroke-width="0.6" />
<line x1="143.4" y1="352.21" x2="177.6" y2="334.51" stroke="#000" stroke-width="0.6" />
<line x1="143.4" y1="369.95" x2="177.6" y2="342.56" stroke="#000" stroke-width="0.6" />
<line x1="143.4" y1="364.52" x2="177.6" y2="331.49" stroke="#000" stroke-width="0.6" />
<line x1="143.4" y1="347.12" x2="177.6" y2="330.76" stroke="#000" stroke-width="0.6" />
<line x1="143.4" y1="350.57" x2="177.6" y2="343.87" stroke="#000" stroke-width="0.6" />
<line x1="143.4" y1="346.03" x2="177.6" y2="308.3" stroke="#000" stroke-width="0.6" />
<line x1="143.4" y1="351.58" x2="177.6" y2="312.28" stroke="#000" stroke-width="0.6" />
<line x1="143.4" y1="355.7" x2="177.6" y2="311.22" stroke="#000" stroke-width="0.6" />
<line x1="143.4" y1="361.55" x2="177.6" y2="331.31" stroke="#000" stroke-width="0.6" />
<line x1="143.4" y1="365.33" x2="177.6" y2="330.68" stroke="#000" stroke-width="0.6" />
<line x1="143.4" y1="358.43" x2="177.6" y2="338.08" stroke="#000" stroke-width="0.6" />
<line x1="143.4" y1="370.72" x2="177.6" y2="329.8" stroke="#000" stroke-width="0.6" />
<line x1="143.4" y1="365.88" x2="177.6" y2="350.93" stroke="#000" stroke-width="0.6" />
<line x1="143.4" y1="383.6" x2="177.6" y2="343" stroke="#000" stroke-width="0.6" />
<line x1="143.4" y1="367" x2="177.6" y2="373.9" stroke="#000" stroke-width="0.6" />
<line x1="143.4" y1="349" x2="177.6" y2="307.5" stroke="#000" stroke-width="0.6" />
<line x1="143.4" y1="346" x2="177.6" y2="312" stroke="#000" stroke-width="0.6" />
<circle cx="143.4" cy="358.76" r="0.85" fill="#39a9c2"/>
<circle cx="177.6" cy="336.02" r="0.85" fill="#d24a3c"/>
<circle cx="143.4" cy="345.88" r="0.85" fill="#39a9c2"/>
<circle cx="177.6" cy="328.63" r="0.85" fill="#d24a3c"/>
<circle cx="143.4" cy="371.03" r="0.85" fill="#39a9c2"/>
<circle cx="177.6" cy="326.03" r="0.85" fill="#d24a3c"/>
<circle cx="143.4" cy="346.85" r="0.85" fill="#39a9c2"/>
<circle cx="177.6" cy="315.67" r="0.85" fill="#d24a3c"/>
<circle cx="143.4" cy="365.54" r="0.85" fill="#39a9c2"/>
<circle cx="177.6" cy="337.14" r="0.85" fill="#d24a3c"/>
<circle cx="143.4" cy="352.41" r="0.85" fill="#39a9c2"/>
<circle cx="177.6" cy="313.19" r="0.85" fill="#d24a3c"/>
<circle cx="143.4" cy="359.98" r="0.85" fill="#39a9c2"/>
<circle cx="177.6" cy="337.19" r="0.85" fill="#d24a3c"/>
<circle cx="143.4" cy="356.52" r="0.85" fill="#39a9c2"/>
<circle cx="177.6" cy="332.02" r="0.85" fill="#d24a3c"/>
<circle cx="143.4" cy="348.57" r="0.85" fill="#39a9c2"/>
<circle cx="177.6" cy="313.5" r="0.85" fill="#d24a3c"/>
<circle cx="143.4" cy="357.59" r="0.85" fill="#39a9c2"/>
<circle cx="177.6" cy="312.92" r="0.85" fill="#d24a3c"/>
<circle cx="143.4" cy="353.22" r="0.85" fill="#39a9c2"/>
<circle cx="177.6" cy="317.75" r="0.85" fill="#d24a3c"/>
<circle cx="143.4" cy="351.33" r="0.85" fill="#39a9c2"/>
<circle cx="177.6" cy="345.24" r="0.85" fill="#d24a3c"/>
<circle cx="143.4" cy="370.5" r="0.85" fill="#39a9c2"/>
<circle cx="177.6" cy="327.29" r="0.85" fill="#d24a3c"/>
<circle cx="143.4" cy="346.36" r="0.85" fill="#39a9c2"/>
<circle cx="177.6" cy="323.13" r="0.85" fill="#d24a3c"/>
<circle cx="143.4" cy="371.26" r="0.85" fill="#39a9c2"/>
<circle cx="177.6" cy="331.78" r="0.85" fill="#d24a3c"/>
<circle cx="143.4" cy="362.02" r="0.85" fill="#39a9c2"/>
<circle cx="177.6" cy="344.52" r="0.85" fill="#d24a3c"/>
<circle cx="143.4" cy="351.43" r="0.85" fill="#39a9c2"/>
<circle cx="177.6" cy="318.31" r="0.85" fill="#d24a3c"/>
<circle cx="143.4" cy="346.19" r="0.85" fill="#39a9c2"/>
<circle cx="177.6" cy="313.02" r="0.85" fill="#d24a3c"/>
<circle cx="143.4" cy="359.71" r="0.85" fill="#39a9c2"/>
<circle cx="177.6" cy="339.89" r="0.85" fill="#d24a3c"/>
<circle cx="143.4" cy="363.71" r="0.85" fill="#39a9c2"/>
<circle cx="177.6" cy="328.97" r="0.85" fill="#d24a3c"/>
<circle cx="143.4" cy="362.05" r="0.85" fill="#39a9c2"/>
<circle cx="177.6" cy="316.58" r="0.85" fill="#d24a3c"/>
<circle cx="143.4" cy="347.23" r="0.85" fill="#39a9c2"/>
<circle cx="177.6" cy="314.7" r="0.85" fill="#d24a3c"/>
<circle cx="143.4" cy="362.8" r="0.85" fill="#39a9c2"/>
<circle cx="177.6" cy="325.05" r="0.85" fill="#d24a3c"/>
<circle cx="143.4" cy="373.84" r="0.85" fill="#39a9c2"/>
<circle cx="177.6" cy="353.76" r="0.85" fill="#d24a3c"/>
<circle cx="143.4" cy="365.59" r="0.85" fill="#39a9c2"/>
<circle cx="177.6" cy="351.5" r="0.85" fill="#d24a3c"/>
<circle cx="143.4" cy="346.91" r="0.85" fill="#39a9c2"/>
<circle cx="177.6" cy="325.1" r="0.85" fill="#d24a3c"/>
<circle cx="143.4" cy="364.71" r="0.85" fill="#39a9c2"/>
<circle cx="177.6" cy="340.85" r="0.85" fill="#d24a3c"/>
<circle cx="143.4" cy="355.49" r="0.85" fill="#39a9c2"/>
<circle cx="177.6" cy="336.87" r="0.85" fill="#d24a3c"/>
<circle cx="143.4" cy="362.17" r="0.85" fill="#39a9c2"/>
<circle cx="177.6" cy="321.78" r="0.85" fill="#d24a3c"/>
<circle cx="143.4" cy="361.9" r="0.85" fill="#39a9c2"/>
<circle cx="177.6" cy="331.65" r="0.85" fill="#d24a3c"/>
<circle cx="143.4" cy="368.24" r="0.85" fill="#39a9c2"/>
<circle cx="177.6" cy="333.54" r="0.85" fill="#d24a3c"/>
<circle cx="143.4" cy="358.22" r="0.85" fill="#39a9c2"/>
<circle cx="177.6" cy="328.86" r="0.85" fill="#d24a3c"/>
<circle cx="143.4" cy="348.2" r="0.85" fill="#39a9c2"/>
<circle cx="177.6" cy="333.44" r="0.85" fill="#d24a3c"/>
<circle cx="143.4" cy="346.42" r="0.85" fill="#39a9c2"/>
<circle cx="177.6" cy="333.96" r="0.85" fill="#d24a3c"/>
<circle cx="143.4" cy="368.47" r="0.85" fill="#39a9c2"/>
<circle cx="177.6" cy="340.57" r="0.85" fill="#d24a3c"/>
<circle cx="143.4" cy="366.5" r="0.85" fill="#39a9c2"/>
<circle cx="177.6" cy="333.93" r="0.85" fill="#d24a3c"/>
<circle cx="143.4" cy="352.21" r="0.85" fill="#39a9c2"/>
<circle cx="177.6" cy="334.51" r="0.85" fill="#d24a3c"/>
<circle cx="143.4" cy="369.95" r="0.85" fill="#39a9c2"/>
<circle cx="177.6" cy="342.56" r="0.85" fill="#d24a3c"/>
<circle cx="143.4" cy="364.52" r="0.85" fill="#39a9c2"/>
<circle cx="177.6" cy="331.49" r="0.85" fill="#d24a3c"/>
<circle cx="143.4" cy="347.12" r="0.85" fill="#39a9c2"/>
<circle cx="177.6" cy="330.76" r="0.85" fill="#d24a3c"/>
<circle cx="143.4" cy="350.57" r="0.85" fill="#39a9c2"/>
<circle cx="177.6" cy="343.87" r="0.85" fill="#d24a3c"/>
<circle cx="143.4" cy="346.03" r="0.85" fill="#39a9c2"/>
<circle cx="177.6" cy="308.3" r="0.85" fill="#d24a3c"/>
<circle cx="143.4" cy="351.58" r="0.85" fill="#39a9c2"/>
<circle cx="177.6" cy="312.28" r="0.85" fill="#d24a3c"/>
<circle cx="143.4" cy="355.7" r="0.85" fill="#39a9c2"/>
<circle cx="177.6" cy="311.22" r="0.85" fill="#d24a3c"/>
<circle cx="143.4" cy="361.55" r="0.85" fill="#39a9c2"/>
<circle cx="177.6" cy="331.31" r="0.85" fill="#d24a3c"/>
<circle cx="143.4" cy="365.33" r="0.85" fill="#39a9c2"/>
<circle cx="177.6" cy="330.68" r="0.85" fill="#d24a3c"/>
<circle cx="143.4" cy="358.43" r="0.85" fill="#39a9c2"/>
<circle cx="177.6" cy="338.08" r="0.85" fill="#d24a3c"/>
<circle cx="143.4" cy="370.72" r="0.85" fill="#39a9c2"/>
<circle cx="177.6" cy="329.8" r="0.85" fill="#d24a3c"/>
<circle cx="143.4" cy="365.88" r="0.85" fill="#39a9c2"/>
<circle cx="177.6" cy="350.93" r="0.85" fill="#d24a3c"/>
<circle cx="143.4" cy="383.6" r="0.85" fill="#39a9c2"/>
<circle cx="177.6" cy="343" r="0.85" fill="#d24a3c"/>
<circle cx="143.4" cy="367" r="0.85" fill="#39a9c2"/>
<circle cx="177.6" cy="373.9" r="0.85" fill="#d24a3c"/>
<circle cx="143.4" cy="349" r="0.85" fill="#39a9c2"/>
<circle cx="177.6" cy="307.5" r="0.85" fill="#d24a3c"/>
<circle cx="143.4" cy="346" r="0.85" fill="#39a9c2"/>
<circle cx="177.6" cy="312" r="0.85" fill="#d24a3c"/>
<line x1="217.6" y1="197" x2="217.6" y2="282.5" stroke="#222" stroke-width="0.6" />
<line x1="217.6" y1="282.2" x2="321.3" y2="282.2" stroke="#222" stroke-width="0.6" />
<line x1="216.2" y1="278.5" x2="217.6" y2="278.5" stroke="#222" stroke-width="0.5" />
<text x="214.6" y="279.8" font-size="3.7" text-anchor="end" font-weight="normal" fill="#333" >0.0</text>
<line x1="216.2" y1="262.7" x2="217.6" y2="262.7" stroke="#222" stroke-width="0.5" />
<text x="214.6" y="264" font-size="3.7" text-anchor="end" font-weight="normal" fill="#333" >0.2</text>
<line x1="216.2" y1="246.9" x2="217.6" y2="246.9" stroke="#222" stroke-width="0.5" />
<text x="214.6" y="248.2" font-size="3.7" text-anchor="end" font-weight="normal" fill="#333" >0.4</text>
<line x1="216.2" y1="231.1" x2="217.6" y2="231.1" stroke="#222" stroke-width="0.5" />
<text x="214.6" y="232.4" font-size="3.7" text-anchor="end" font-weight="normal" fill="#333" >0.6</text>
<line x1="216.2" y1="215.3" x2="217.6" y2="215.3" stroke="#222" stroke-width="0.5" />
<text x="214.6" y="216.6" font-size="3.7" text-anchor="end" font-weight="normal" fill="#333" >0.8</text>
<line x1="216.2" y1="199.5" x2="217.6" y2="199.5" stroke="#222" stroke-width="0.5" />
<text x="214.6" y="200.8" font-size="3.7" text-anchor="end" font-weight="normal" fill="#333" >1.0</text>
<line x1="222.8" y1="282.2" x2="222.8" y2="283.6" stroke="#222" stroke-width="0.5" />
<text x="222.8" y="289.2" font-size="4.5" text-anchor="middle" font-weight="normal" fill="#444" >0</text>
<line x1="241.9" y1="282.2" x2="241.9" y2="283.6" stroke="#222" stroke-width="0.5" />
<text x="241.9" y="289.2" font-size="4.5" text-anchor="middle" font-weight="normal" fill="#444" >50</text>
<line x1="261" y1="282.2" x2="261" y2="283.6" stroke="#222" stroke-width="0.5" />
<text x="261" y="289.2" font-size="4.5" text-anchor="middle" font-weight="normal" fill="#444" >100</text>
<line x1="280.1" y1="282.2" x2="280.1" y2="283.6" stroke="#222" stroke-width="0.5" />
<text x="280.1" y="289.2" font-size="4.5" text-anchor="middle" font-weight="normal" fill="#444" >150</text>
<line x1="299.2" y1="282.2" x2="299.2" y2="283.6" stroke="#222" stroke-width="0.5" />
<text x="299.2" y="289.2" font-size="4.5" text-anchor="middle" font-weight="normal" fill="#444" >200</text>
<line x1="318.3" y1="282.2" x2="318.3" y2="283.6" stroke="#222" stroke-width="0.5" />
<text x="318.3" y="289.2" font-size="4.5" text-anchor="middle" font-weight="normal" fill="#444" >250</text>
<text x="269" y="293.8" font-size="5" text-anchor="middle" font-weight="normal" fill="#333" >Time (months)</text>
<text transform="translate(206.9,235) rotate(-90)" font-size="4.8" text-anchor="middle" fill="#333">Survival probability</text>
<text x="198.4" y="195.6" font-size="6.8" text-anchor="start" font-weight="bold" fill="#111" >H</text>
<text x="263.6" y="201.9" font-size="6" text-anchor="middle" font-weight="normal" fill="#222" >LUAD</text>
<text x="297.4" y="200.6" font-size="3.4" text-anchor="start" font-weight="normal" fill="#222" >MDFI</text>
<line x1="298.3" y1="204.1" x2="305.4" y2="204.1" stroke="#38aabd" stroke-width="0.5" opacity="0.8"/>
<line x1="298.3" y1="208.7" x2="305.4" y2="208.7" stroke="#d23c2c" stroke-width="0.5" opacity="0.8"/>
<line x1="301.85" y1="203.3" x2="301.85" y2="204.9" stroke="#38aabd" stroke-width="0.4" opacity="0.8"/>
<line x1="301.85" y1="207.9" x2="301.85" y2="209.5" stroke="#d23c2c" stroke-width="0.4" opacity="0.8"/>
<text x="307.7" y="205.2" font-size="3.5" text-anchor="start" font-weight="normal" fill="#222" >Low</text>
<text x="307.7" y="209.8" font-size="3.5" text-anchor="start" font-weight="normal" fill="#222" >High</text>
<text x="222.6" y="267.8" font-size="4.1" text-anchor="start" font-weight="normal" fill="#222" >Overall Survival</text>
<text x="222.6" y="272.9" font-size="4.1" text-anchor="start" font-weight="normal" fill="#222" >HR = 1.81 (1.35-2.42)</text>
<text x="222.6" y="277.6" font-size="4.1" text-anchor="start" font-weight="normal" fill="#222" >P &lt; 0.001</text>
<path d="M222.3,199.6 H223.24 V200.52 H223.86 V201.49 H225.03 V203.01 H226.42 V204.89 H227.25 V205.87 H228.7 V208.03 H229.74 V210.2 H231.15 V212.16 H232.72 V215.26 H234.08 V217.55 H235.59 V220.12 H236.28 V221.23 H237.82 V223.59 H238.6 V224.7 H239.96 V226.34 H240.66 V226.56 H241.87 V228.57 H242.86 V232 H243.9 V235.16 H245.46 V238.01 H247 V239.66 H248.02 V239.79 H248.85 V239.95 H249.79 V240.72 H250.83 V241.47 H252.02 V242.16 H253.43 V242.16 H254.22 V243.02 H255.15 V243.56 H255.9 V246.3 H257.07 V247.5 H258.35 V247.97 H259.66 V248.24 H260.4 V248.24 H261.43 V248.72 H263.03 V249.84 H263.77 V249.84 H264.74 V250.47 H265.71 V250.64 H266.69 V250.69 H268.06 V250.69 H270.7 V250.88 H272.72 V251.14 H274.76 V251.14 H278.19 V251.14 H280.97 V251.14 H283.7 V251.27 H287.46 V255.1 H290.17 V255.1 H293.48 V255.64 H296.77 V255.64 H299.83 V255.64 H302.08 V255.64 H304.49 V255.64 H307.43 V255.75 H311.08 V255.77 H314.62 V255.77 H315.8 V255.77 V255.4" fill="none" stroke="#38aabd" stroke-width="1.2" stroke-linejoin="miter"/>
<line x1="250" y1="239.92" x2="250" y2="242.12" stroke="#38aabd" stroke-width="0.6" />
<line x1="254" y1="241.36" x2="254" y2="243.56" stroke="#38aabd" stroke-width="0.6" />
<line x1="259" y1="246.59" x2="259" y2="248.79" stroke="#38aabd" stroke-width="0.6" />
<line x1="262" y1="248.08" x2="262" y2="250.28" stroke="#38aabd" stroke-width="0.6" />
<line x1="268" y1="249.7" x2="268" y2="251.9" stroke="#38aabd" stroke-width="0.6" />
<line x1="272" y1="249.7" x2="272" y2="251.9" stroke="#38aabd" stroke-width="0.6" />
<line x1="276" y1="249.7" x2="276" y2="251.9" stroke="#38aabd" stroke-width="0.6" />
<line x1="281" y1="249.7" x2="281" y2="251.9" stroke="#38aabd" stroke-width="0.6" />
<line x1="290" y1="254.3" x2="290" y2="256.5" stroke="#38aabd" stroke-width="0.6" />
<line x1="300" y1="254.3" x2="300" y2="256.5" stroke="#38aabd" stroke-width="0.6" />
<line x1="310" y1="254.3" x2="310" y2="256.5" stroke="#38aabd" stroke-width="0.6" />
<line x1="314" y1="254.3" x2="314" y2="256.5" stroke="#38aabd" stroke-width="0.6" />
<line x1="222.89" y1="199.32" x2="222.89" y2="201.72" stroke="#38aabd" stroke-width="0.6" />
<line x1="223.74" y1="200.29" x2="223.74" y2="202.69" stroke="#38aabd" stroke-width="0.6" />
<line x1="224.77" y1="201.81" x2="224.77" y2="204.21" stroke="#38aabd" stroke-width="0.6" />
<line x1="228.33" y1="206.83" x2="228.33" y2="209.23" stroke="#38aabd" stroke-width="0.6" />
<line x1="229.64" y1="209" x2="229.64" y2="211.4" stroke="#38aabd" stroke-width="0.6" />
<line x1="237.44" y1="222.39" x2="237.44" y2="224.79" stroke="#38aabd" stroke-width="0.6" />
<line x1="239.54" y1="225.14" x2="239.54" y2="227.54" stroke="#38aabd" stroke-width="0.6" />
<line x1="241.62" y1="227.37" x2="241.62" y2="229.77" stroke="#38aabd" stroke-width="0.6" />
<line x1="242.43" y1="230.8" x2="242.43" y2="233.2" stroke="#38aabd" stroke-width="0.6" />
<line x1="245.44" y1="236.81" x2="245.44" y2="239.21" stroke="#38aabd" stroke-width="0.6" />
<line x1="248.79" y1="238.75" x2="248.79" y2="241.15" stroke="#38aabd" stroke-width="0.6" />
<line x1="249.61" y1="239.52" x2="249.61" y2="241.92" stroke="#38aabd" stroke-width="0.6" />
<line x1="250.47" y1="240.27" x2="250.47" y2="242.67" stroke="#38aabd" stroke-width="0.6" />
<line x1="251.84" y1="240.96" x2="251.84" y2="243.36" stroke="#38aabd" stroke-width="0.6" />
<line x1="253.02" y1="240.96" x2="253.02" y2="243.36" stroke="#38aabd" stroke-width="0.6" />
<line x1="259.2" y1="247.04" x2="259.2" y2="249.44" stroke="#38aabd" stroke-width="0.6" />
<line x1="261.27" y1="247.52" x2="261.27" y2="249.92" stroke="#38aabd" stroke-width="0.6" />
<line x1="263" y1="248.64" x2="263" y2="251.04" stroke="#38aabd" stroke-width="0.6" />
<line x1="265.26" y1="249.44" x2="265.26" y2="251.84" stroke="#38aabd" stroke-width="0.6" />
<line x1="274.33" y1="249.94" x2="274.33" y2="252.34" stroke="#38aabd" stroke-width="0.6" />
<line x1="283.23" y1="250.07" x2="283.23" y2="252.47" stroke="#38aabd" stroke-width="0.6" />
<line x1="290.14" y1="253.9" x2="290.14" y2="256.3" stroke="#38aabd" stroke-width="0.6" />
<line x1="304.02" y1="254.44" x2="304.02" y2="256.84" stroke="#38aabd" stroke-width="0.6" />
<line x1="310.63" y1="254.57" x2="310.63" y2="256.97" stroke="#38aabd" stroke-width="0.6" />
<line x1="315.66" y1="254.57" x2="315.66" y2="256.97" stroke="#38aabd" stroke-width="0.6" />
<path d="M222.3,199.6 H223.2 V201.51 H224.6 V205.02 H225.41 V206.93 H226.02 V208.61 H227.25 V211.75 H227.98 V213.78 H229.19 V216.27 H230.46 V218.16 H231.86 V222.24 H232.52 V223.88 H233.35 V225.69 H234.29 V228.56 H235.48 V231.33 H236.49 V235.5 H237.93 V239.6 H239.12 V242.3 H240.51 V246.01 H241.51 V249.27 H243.11 V249.87 H244.67 V251.49 H245.88 V251.49 H246.51 V251.58 H247.54 V251.74 H248.72 V252.62 H249.97 V253.58 H250.91 V253.58 H252.39 V255.08 H253.6 V255.6 H254.49 V256.03 H255.47 V256.22 H257.07 V257.28 H258.06 V257.97 H259.37 V257.97 H260.66 V258.3 H262.09 V258.3 H263 V258.3 H264.11 V258.45 H264.88 V267.56 H266.36 V267.73 H267.09 V267.96 H268.26 V267.96 H270.61 V267.96 H270.8 V267.96 V267.7" fill="none" stroke="#d23c2c" stroke-width="1.2" stroke-linejoin="miter"/>
<line x1="245" y1="250.08" x2="245" y2="252.28" stroke="#d23c2c" stroke-width="0.6" />
<line x1="247" y1="250.72" x2="247" y2="252.92" stroke="#d23c2c" stroke-width="0.6" />
<line x1="250" y1="252.11" x2="250" y2="254.31" stroke="#d23c2c" stroke-width="0.6" />
<line x1="253" y1="253.86" x2="253" y2="256.06" stroke="#d23c2c" stroke-width="0.6" />
<line x1="260" y1="256.9" x2="260" y2="259.1" stroke="#d23c2c" stroke-width="0.6" />
<line x1="262" y1="256.9" x2="262" y2="259.1" stroke="#d23c2c" stroke-width="0.6" />
<line x1="268" y1="266.6" x2="268" y2="268.8" stroke="#d23c2c" stroke-width="0.6" />
<line x1="222.94" y1="200.31" x2="222.94" y2="202.71" stroke="#d23c2c" stroke-width="0.6" />
<line x1="224.57" y1="203.82" x2="224.57" y2="206.22" stroke="#d23c2c" stroke-width="0.6" />
<line x1="225.33" y1="205.73" x2="225.33" y2="208.13" stroke="#d23c2c" stroke-width="0.6" />
<line x1="229.16" y1="215.07" x2="229.16" y2="217.47" stroke="#d23c2c" stroke-width="0.6" />
<line x1="230.4" y1="216.96" x2="230.4" y2="219.36" stroke="#d23c2c" stroke-width="0.6" />
<line x1="231.4" y1="221.04" x2="231.4" y2="223.44" stroke="#d23c2c" stroke-width="0.6" />
<line x1="235.01" y1="230.13" x2="235.01" y2="232.53" stroke="#d23c2c" stroke-width="0.6" />
<line x1="236.04" y1="234.3" x2="236.04" y2="236.7" stroke="#d23c2c" stroke-width="0.6" />
<line x1="244.36" y1="250.29" x2="244.36" y2="252.69" stroke="#d23c2c" stroke-width="0.6" />
<line x1="246.03" y1="250.38" x2="246.03" y2="252.78" stroke="#d23c2c" stroke-width="0.6" />
<line x1="247.51" y1="250.54" x2="247.51" y2="252.94" stroke="#d23c2c" stroke-width="0.6" />
<line x1="249.62" y1="252.38" x2="249.62" y2="254.78" stroke="#d23c2c" stroke-width="0.6" />
<line x1="250.51" y1="252.38" x2="250.51" y2="254.78" stroke="#d23c2c" stroke-width="0.6" />
<line x1="255.4" y1="255.02" x2="255.4" y2="257.42" stroke="#d23c2c" stroke-width="0.6" />
<line x1="260.38" y1="257.1" x2="260.38" y2="259.5" stroke="#d23c2c" stroke-width="0.6" />
<line x1="262.53" y1="257.1" x2="262.53" y2="259.5" stroke="#d23c2c" stroke-width="0.6" />
<line x1="266.7" y1="266.76" x2="266.7" y2="269.16" stroke="#d23c2c" stroke-width="0.6" />
<line x1="217.6" y1="302.8" x2="217.6" y2="387.5" stroke="#222" stroke-width="0.6" />
<line x1="217.6" y1="387.2" x2="320.3" y2="387.2" stroke="#222" stroke-width="0.6" />
<line x1="216.2" y1="383.5" x2="217.6" y2="383.5" stroke="#222" stroke-width="0.5" />
<text x="214.6" y="384.8" font-size="3.7" text-anchor="end" font-weight="normal" fill="#333" >0.0</text>
<line x1="216.2" y1="367.86" x2="217.6" y2="367.86" stroke="#222" stroke-width="0.5" />
<text x="214.6" y="369.16" font-size="3.7" text-anchor="end" font-weight="normal" fill="#333" >0.2</text>
<line x1="216.2" y1="352.22" x2="217.6" y2="352.22" stroke="#222" stroke-width="0.5" />
<text x="214.6" y="353.52" font-size="3.7" text-anchor="end" font-weight="normal" fill="#333" >0.4</text>
<line x1="216.2" y1="336.58" x2="217.6" y2="336.58" stroke="#222" stroke-width="0.5" />
<text x="214.6" y="337.88" font-size="3.7" text-anchor="end" font-weight="normal" fill="#333" >0.6</text>
<line x1="216.2" y1="320.94" x2="217.6" y2="320.94" stroke="#222" stroke-width="0.5" />
<text x="214.6" y="322.24" font-size="3.7" text-anchor="end" font-weight="normal" fill="#333" >0.8</text>
<line x1="216.2" y1="305.3" x2="217.6" y2="305.3" stroke="#222" stroke-width="0.5" />
<text x="214.6" y="306.6" font-size="3.7" text-anchor="end" font-weight="normal" fill="#333" >1.0</text>
<line x1="222.7" y1="387.2" x2="222.7" y2="388.6" stroke="#222" stroke-width="0.5" />
<text x="222.7" y="394.2" font-size="4.5" text-anchor="middle" font-weight="normal" fill="#444" >0</text>
<line x1="249.2" y1="387.2" x2="249.2" y2="388.6" stroke="#222" stroke-width="0.5" />
<text x="249.2" y="394.2" font-size="4.5" text-anchor="middle" font-weight="normal" fill="#444" >50</text>
<line x1="275.7" y1="387.2" x2="275.7" y2="388.6" stroke="#222" stroke-width="0.5" />
<text x="275.7" y="394.2" font-size="4.5" text-anchor="middle" font-weight="normal" fill="#444" >100</text>
<line x1="302.2" y1="387.2" x2="302.2" y2="388.6" stroke="#222" stroke-width="0.5" />
<text x="302.2" y="394.2" font-size="4.5" text-anchor="middle" font-weight="normal" fill="#444" >150</text>
<text x="269" y="398.8" font-size="5" text-anchor="middle" font-weight="normal" fill="#333" >Time (months)</text>
<text transform="translate(206.9,340.4) rotate(-90)" font-size="4.8" text-anchor="middle" fill="#333">Survival probability</text>
<text x="200.6" y="300.6" font-size="6.8" text-anchor="start" font-weight="bold" fill="#111" >K</text>
<text x="263.6" y="307.7" font-size="6" text-anchor="middle" font-weight="normal" fill="#222" >LUSC</text>
<text x="297.4" y="306.4" font-size="3.4" text-anchor="start" font-weight="normal" fill="#222" >MDFI</text>
<line x1="298.3" y1="309.9" x2="305.4" y2="309.9" stroke="#38aabd" stroke-width="0.5" opacity="0.8"/>
<line x1="298.3" y1="314.5" x2="305.4" y2="314.5" stroke="#d23c2c" stroke-width="0.5" opacity="0.8"/>
<line x1="301.85" y1="309.1" x2="301.85" y2="310.7" stroke="#38aabd" stroke-width="0.4" opacity="0.8"/>
<line x1="301.85" y1="313.7" x2="301.85" y2="315.3" stroke="#d23c2c" stroke-width="0.4" opacity="0.8"/>
<text x="307.7" y="311" font-size="3.5" text-anchor="start" font-weight="normal" fill="#222" >Low</text>
<text x="307.7" y="315.6" font-size="3.5" text-anchor="start" font-weight="normal" fill="#222" >High</text>
<text x="222.6" y="372.8" font-size="4.1" text-anchor="start" font-weight="normal" fill="#222" >Overall Survival</text>
<text x="222.6" y="377.9" font-size="4.1" text-anchor="start" font-weight="normal" fill="#222" >HR = 1.24 (0.94-1.62)</text>
<text x="222.6" y="382.6" font-size="4.1" text-anchor="start" font-weight="normal" fill="#222" >P = 0.125</text>
<path d="M222.4,305.2 H223.18 V306.56 H224.07 V307.63 H225.28 V309.7 H226.58 V312.58 H228.13 V315.28 H229.22 V316.31 H230.09 V317.34 H231.6 V319.47 H233.08 V321.22 H234.27 V322.93 H234.94 V323.63 H236.07 V324.18 H237.24 V325.47 H237.98 V326.9 H239.12 V327.31 H240.39 V329.09 H241.15 V329.82 H242.05 V330.67 H243.56 V331.98 H244.17 V332.76 H245.49 V333.99 H246.65 V335.33 H247.95 V336.07 H248.72 V336.65 H249.48 V337.02 H250.58 V338.27 H251.95 V339.7 H252.86 V340.8 H254.14 V342.11 H254.81 V343.56 H255.58 V344.18 H256.85 V345.26 H258.05 V346.92 H259.51 V348.11 H260.63 V348.49 H261.31 V349.05 H262.55 V349.74 H263.2 V350.21 H264.23 V351.34 H264.99 V351.82 H266.43 V352.05 H267.79 V353.47 H270.91 V354.7 H272.53 V356.19 H275.43 V357.78 H278.76 V358.99 H281.16 V360.78 H283.83 V362.34 H285.5 V363.13 H287.23 V364.52 H289.65 V366.09 H291.87 V368.75 H294.14 V368.95 H296.24 V369.62 H299.27 V369.62 H301.75 V369.62 H305.55 V375.76 H306.5 V375.76 V376" fill="none" stroke="#38aabd" stroke-width="1.2" stroke-linejoin="miter"/>
<line x1="280" y1="358.9" x2="280" y2="361.1" stroke="#38aabd" stroke-width="0.6" />
<line x1="285" y1="361.72" x2="285" y2="363.92" stroke="#38aabd" stroke-width="0.6" />
<line x1="294" y1="368.1" x2="294" y2="370.3" stroke="#38aabd" stroke-width="0.6" />
<line x1="297" y1="368.1" x2="297" y2="370.3" stroke="#38aabd" stroke-width="0.6" />
<line x1="300" y1="368.1" x2="300" y2="370.3" stroke="#38aabd" stroke-width="0.6" />
<line x1="303" y1="368.1" x2="303" y2="370.3" stroke="#38aabd" stroke-width="0.6" />
<line x1="229.82" y1="316.14" x2="229.82" y2="318.54" stroke="#38aabd" stroke-width="0.6" />
<line x1="234.69" y1="322.43" x2="234.69" y2="324.83" stroke="#38aabd" stroke-width="0.6" />
<line x1="237.58" y1="325.7" x2="237.58" y2="328.1" stroke="#38aabd" stroke-width="0.6" />
<line x1="238.64" y1="326.11" x2="238.64" y2="328.51" stroke="#38aabd" stroke-width="0.6" />
<line x1="245.01" y1="332.79" x2="245.01" y2="335.19" stroke="#38aabd" stroke-width="0.6" />
<line x1="257.83" y1="345.72" x2="257.83" y2="348.12" stroke="#38aabd" stroke-width="0.6" />
<line x1="262.3" y1="348.54" x2="262.3" y2="350.94" stroke="#38aabd" stroke-width="0.6" />
<line x1="263.01" y1="349.01" x2="263.01" y2="351.41" stroke="#38aabd" stroke-width="0.6" />
<line x1="263.93" y1="350.14" x2="263.93" y2="352.54" stroke="#38aabd" stroke-width="0.6" />
<line x1="272.03" y1="354.99" x2="272.03" y2="357.39" stroke="#38aabd" stroke-width="0.6" />
<line x1="280.85" y1="359.58" x2="280.85" y2="361.98" stroke="#38aabd" stroke-width="0.6" />
<line x1="285.3" y1="361.93" x2="285.3" y2="364.33" stroke="#38aabd" stroke-width="0.6" />
<path d="M222.4,305.2 H223.65 V308.33 H224.43 V309.38 H225.91 V313.76 H226.68 V315.61 H227.97 V319.04 H229.03 V322.92 H229.89 V324.78 H230.67 V326.49 H232.12 V329.54 H233.25 V331.68 H234.15 V333 H234.91 V334.11 H235.78 V334.74 H237.05 V336.79 H238.15 V338.21 H239.67 V339.17 H241.1 V340.71 H242.51 V342.01 H243.29 V342.85 H244.59 V344.64 H245.87 V344.82 H247.37 V346.04 H248.86 V346.04 H249.85 V346.34 H251.2 V346.72 H252.57 V347.56 H253.91 V347.56 H255.11 V347.79 H255.94 V348.52 H256.96 V348.52 H258.14 V348.76 H259.56 V349.19 H261.03 V349.54 H262.49 V350.87 H263.66 V351.55 H264.77 V351.99 H265.78 V352.35 H267 V352.83 H268.53 V353.59 H271.15 V354.88 H273.67 V356.97 H277.55 V359.47 H280.74 V360.76 H283.36 V361.93 H286.91 V363.15 H290.03 V363.57 H293.69 V365.33 H296.41 V365.33 H299.61 V365.33 H301.52 V365.33 H305.03 V365.33 H307.93 V365.33 H311.7 V365.33 H313.55 V365.33 H316.52 V365.35 H316.7 V365.35 V383.9" fill="none" stroke="#d23c2c" stroke-width="1.2" stroke-linejoin="miter"/>
<line x1="283" y1="360.29" x2="283" y2="362.49" stroke="#d23c2c" stroke-width="0.6" />
<line x1="288" y1="362.16" x2="288" y2="364.36" stroke="#d23c2c" stroke-width="0.6" />
<line x1="296" y1="363.8" x2="296" y2="366" stroke="#d23c2c" stroke-width="0.6" />
<line x1="300" y1="363.8" x2="300" y2="366" stroke="#d23c2c" stroke-width="0.6" />
<line x1="307" y1="363.8" x2="307" y2="366" stroke="#d23c2c" stroke-width="0.6" />
<line x1="223.52" y1="307.13" x2="223.52" y2="309.53" stroke="#d23c2c" stroke-width="0.6" />
<line x1="224.19" y1="308.18" x2="224.19" y2="310.58" stroke="#d23c2c" stroke-width="0.6" />
<line x1="225.7" y1="312.56" x2="225.7" y2="314.96" stroke="#d23c2c" stroke-width="0.6" />
<line x1="227.79" y1="317.84" x2="227.79" y2="320.24" stroke="#d23c2c" stroke-width="0.6" />
<line x1="228.61" y1="321.72" x2="228.61" y2="324.12" stroke="#d23c2c" stroke-width="0.6" />
<line x1="236.72" y1="335.59" x2="236.72" y2="337.99" stroke="#d23c2c" stroke-width="0.6" />
<line x1="239.41" y1="337.97" x2="239.41" y2="340.37" stroke="#d23c2c" stroke-width="0.6" />
<line x1="242.08" y1="340.81" x2="242.08" y2="343.21" stroke="#d23c2c" stroke-width="0.6" />
<line x1="243" y1="341.65" x2="243" y2="344.05" stroke="#d23c2c" stroke-width="0.6" />
<line x1="244.17" y1="343.44" x2="244.17" y2="345.84" stroke="#d23c2c" stroke-width="0.6" />
<line x1="245.72" y1="343.62" x2="245.72" y2="346.02" stroke="#d23c2c" stroke-width="0.6" />
<line x1="248.69" y1="344.84" x2="248.69" y2="347.24" stroke="#d23c2c" stroke-width="0.6" />
<line x1="252.12" y1="346.36" x2="252.12" y2="348.76" stroke="#d23c2c" stroke-width="0.6" />
<line x1="255.06" y1="346.59" x2="255.06" y2="348.99" stroke="#d23c2c" stroke-width="0.6" />
<line x1="257.87" y1="347.56" x2="257.87" y2="349.96" stroke="#d23c2c" stroke-width="0.6" />
<line x1="259.43" y1="347.99" x2="259.43" y2="350.39" stroke="#d23c2c" stroke-width="0.6" />
<line x1="262.32" y1="349.67" x2="262.32" y2="352.07" stroke="#d23c2c" stroke-width="0.6" />
<line x1="264.47" y1="350.79" x2="264.47" y2="353.19" stroke="#d23c2c" stroke-width="0.6" />
<line x1="265.68" y1="351.15" x2="265.68" y2="353.55" stroke="#d23c2c" stroke-width="0.6" />
<line x1="271.1" y1="353.68" x2="271.1" y2="356.08" stroke="#d23c2c" stroke-width="0.6" />
<line x1="277.46" y1="358.27" x2="277.46" y2="360.67" stroke="#d23c2c" stroke-width="0.6" />
<line x1="280.63" y1="359.56" x2="280.63" y2="361.96" stroke="#d23c2c" stroke-width="0.6" />
<line x1="289.82" y1="362.37" x2="289.82" y2="364.77" stroke="#d23c2c" stroke-width="0.6" />
<line x1="299.5" y1="364.13" x2="299.5" y2="366.53" stroke="#d23c2c" stroke-width="0.6" />
<line x1="301.32" y1="364.13" x2="301.32" y2="366.53" stroke="#d23c2c" stroke-width="0.6" />
<line x1="304.73" y1="364.13" x2="304.73" y2="366.53" stroke="#d23c2c" stroke-width="0.6" />
<line x1="307.56" y1="364.13" x2="307.56" y2="366.53" stroke="#d23c2c" stroke-width="0.6" />
<line x1="313.54" y1="364.13" x2="313.54" y2="366.53" stroke="#d23c2c" stroke-width="0.6" />
<line x1="316.29" y1="364.15" x2="316.29" y2="366.55" stroke="#d23c2c" stroke-width="0.6" />
<line x1="316.52" y1="364.15" x2="316.52" y2="366.55" stroke="#d23c2c" stroke-width="0.6" />
</svg></div></body></html>
